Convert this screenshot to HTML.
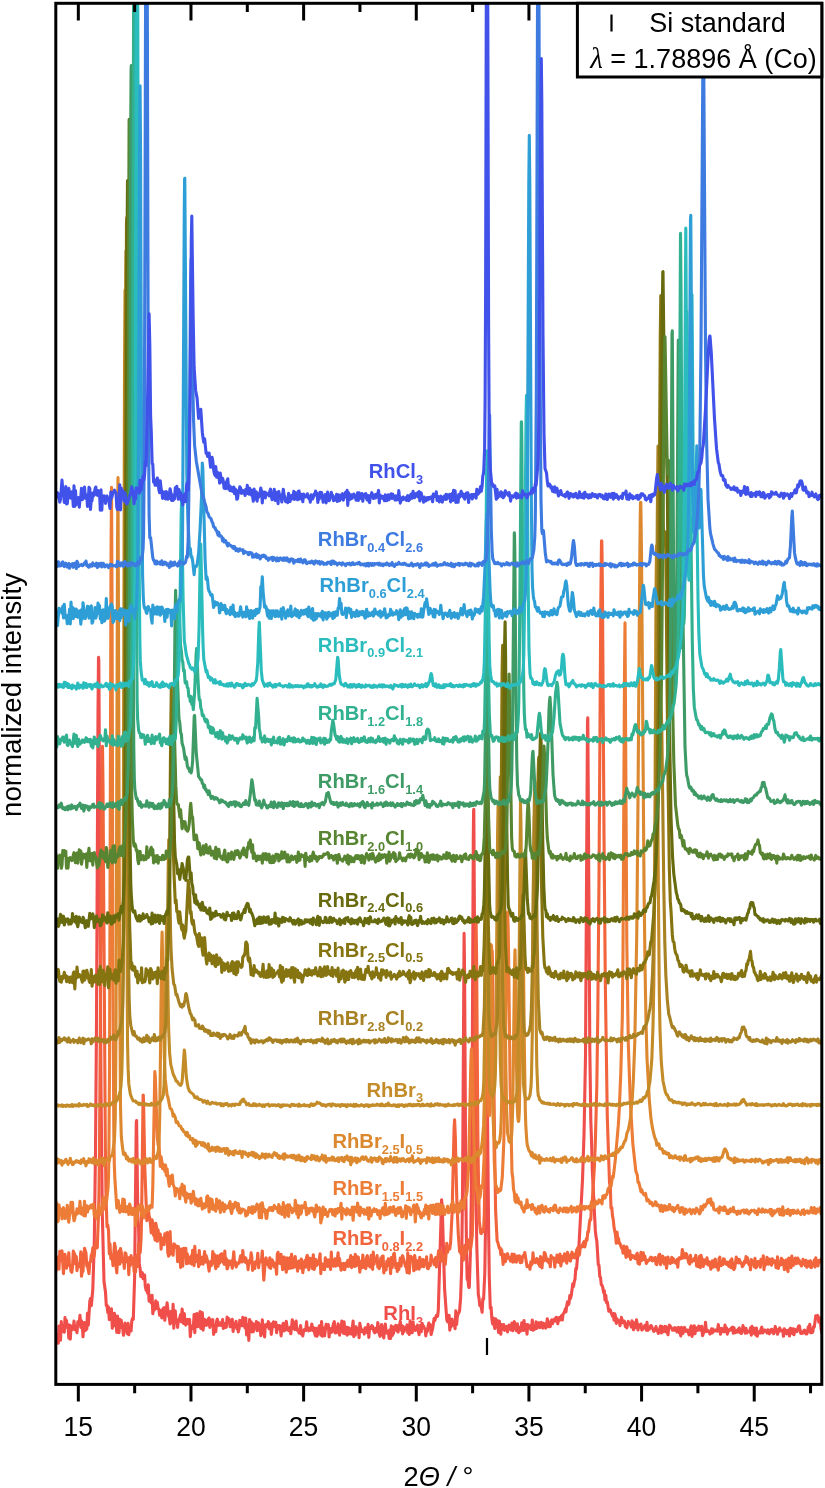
<!DOCTYPE html>
<html lang="en"><head><meta charset="utf-8"><title>XRD patterns RhX3</title>
<style>
html,body{margin:0;padding:0;background:#fff}
body{width:825px;height:1488px;overflow:hidden}
svg{display:block}
text{font-family:"Liberation Sans",Arial,Helvetica,sans-serif}
.lb{font-weight:bold;font-size:20.2px}
.sb{font-size:12.8px}
.ax text{font-size:26.5px;fill:#000}
.ax .yl{font-size:27.6px}
.ax .lg{font-size:27px}
.lam{font-family:"Liberation Serif","DejaVu Serif",serif;font-style:italic;font-size:29px}
</style></head>
<body>
<svg width="825" height="1488" viewBox="0 0 825 1488">
<defs><clipPath id="cp"><rect x="55.8" y="3.3" width="766.0" height="1381.1"/></clipPath></defs>
<rect width="825" height="1488" fill="#fff"/>
<g clip-path="url(#cp)" fill="none" stroke-linejoin="round" stroke-linecap="round">
<path stroke="#f04e4a" stroke-width="3.10" d="M55.8 1334.9L56 1334.2L56.8 1334.4L57.5 1336.6L58.3 1343.2L59 1326L59.8 1330L60.5 1340.3L61.3 1321.5L62 1331.5L62.8 1325.3L64.3 1332.3L65 1317.6L65.8 1323.2L66.5 1320.6L67.3 1327.7L68 1324.8L68.8 1338.1L69.5 1325.1L70.3 1339.1L71 1326.1L71.8 1330L72.5 1328.5L73.3 1328.2L74 1321.1L74.8 1329.7L75.5 1329.8L76.3 1328.7L77 1332.7L77.8 1321.8L78.5 1324.6L79.3 1322L80 1315.3L80.8 1327.4L81.5 1320.8L82.3 1323.7L83 1336.8L83.8 1324.1L84.5 1322.5L85.3 1330.6L86 1327.2L86.8 1329.1L87.5 1313.2L88.3 1325.2L89.8 1301.4L90.5 1298.6L91.3 1305.6L92.8 1289.5L94.3 1241.5L95.5 1151.1L96.5 1022.4L98 713.1L98.5 657.4L98.8 659.9L99 690.3L101 1090L102.3 1213.4L104 1281.5L105.5 1292.3L106.3 1305.7L107 1305.2L107.8 1312.5L108.5 1307.1L109.3 1319.7L110 1311.5L110.8 1316.4L111.5 1308.7L112.3 1328.2L113 1322.7L113.8 1325.7L114.5 1313.3L115.3 1325.1L116 1322.3L116.8 1332.4L117.5 1316L118.3 1328L119 1332.6L119.8 1319.2L120.5 1327.3L121.3 1320.3L122 1327.3L122.8 1329.2L123.5 1335.2L125 1323.1L125.8 1330.8L126.5 1327.3L127.3 1333.7L128.1 1323.4L128.8 1334.8L129.6 1327.4L130.3 1327.2L131.1 1330.9L131.8 1320.5L132.6 1318.3L133.1 1319.5L133.3 1319.2L134.6 1278.2L136.1 1137.2L136.3 1121.9L136.6 1120.6L137.8 1215.1L138.6 1228.1L139.3 1263.9L140.1 1268.4L140.8 1276.5L142.3 1272.7L143.1 1278.7L144.6 1275L145.3 1286.3L146.1 1290.2L146.8 1288.8L147.6 1293.2L148.3 1284.8L149.1 1301.1L149.8 1295.5L150.6 1297.9L151.3 1303L152.1 1295.2L152.8 1313.6L153.6 1309.2L154.3 1310L155.8 1300.8L156.6 1308.4L157.3 1302.3L158.1 1308.4L158.8 1309.1L159.6 1315.3L160.3 1311.5L161.1 1310.5L161.8 1317.9L162.6 1310.1L163.3 1308.4L164.1 1307.6L164.8 1320.3L165.6 1312.9L166.3 1310L167.1 1302.9L168.6 1316L169.3 1317.8L170.1 1324L170.8 1311.6L172.3 1322.9L173.1 1304.4L173.8 1328.3L174.6 1310.7L175.3 1311L176.1 1322.3L176.8 1319.7L177.6 1327.4L178.3 1321.4L179.8 1317.8L180.6 1314.6L181.3 1321.9L182.1 1309L183.6 1323.5L184.3 1313.6L185.1 1324.1L185.8 1325L186.6 1320.5L187.3 1319.4L188.1 1323.2L188.8 1323.8L189.6 1319.4L190.3 1336.6L191.1 1328.7L191.8 1326.2L192.6 1328.3L193.3 1328L194.1 1314.5L194.8 1332.7L195.6 1314.4L196.3 1322.9L197.1 1313.6L197.8 1326.8L198.6 1324.4L199.3 1323.5L200.1 1311.5L200.8 1328.5L201.6 1323.8L202.3 1312.6L203.1 1330.2L203.8 1322.1L204.6 1319.3L205.3 1325.2L206.1 1320.5L206.8 1325.2L208.3 1319.1L209.1 1318L209.8 1327.5L211.3 1320.1L212.1 1321L212.8 1319.7L213.6 1334.4L214.3 1325.9L215.1 1325L215.8 1331.6L216.6 1321.2L217.3 1319.1L218.8 1325.3L219.6 1323.6L220.3 1323L221.1 1325.4L222.6 1319.6L223.3 1328.4L224.1 1323.7L224.8 1323.6L225.6 1327.5L226.3 1327.1L227.1 1317.1L227.8 1321.7L228.6 1318.6L229.3 1319.6L230.1 1326.8L230.8 1323.1L232.3 1319.3L233.1 1331.5L233.8 1323.6L234.6 1326.7L235.3 1325.3L236.1 1321.3L236.8 1328.7L237.6 1326.4L238.3 1332L239.1 1328.7L239.8 1320.2L240.6 1325.4L242.1 1325.7L242.8 1317.4L243.6 1318.5L244.3 1325.6L245.1 1327.9L245.8 1318L246.6 1334.9L248.1 1324.2L248.8 1340.4L249.6 1319.6L250.3 1322L251.1 1321.8L251.8 1332L252.6 1323.4L253.3 1331.7L254.8 1324.2L255.6 1327.5L256.3 1321.6L257.1 1330.8L257.8 1322.6L258.6 1323.1L259.3 1330.2L260.1 1325L260.8 1335.6L261.6 1333.4L262.3 1319.9L263.1 1328.3L263.8 1326.7L264.6 1336.9L265.3 1325L266.1 1324.7L266.8 1326.1L267.6 1326.6L268.3 1321.5L269.1 1328.8L269.8 1325.3L270.6 1324L271.3 1334.4L272.8 1323.2L273.6 1321.8L274.3 1326.4L275.1 1322.5L275.8 1322.3L276.6 1332.7L277.3 1327.3L278.1 1325.6L278.8 1328.8L279.6 1325.6L280.3 1328.4L281.1 1335.9L281.8 1328L283.3 1323.3L284.1 1330.9L284.8 1327.5L285.6 1330L286.3 1321.4L287.1 1326.7L288.6 1330.6L289.3 1329.5L290.1 1327.3L290.8 1333.8L292.3 1319.7L293.8 1328.3L294.6 1329.5L295.3 1323L296.1 1321L296.8 1330.2L297.6 1329.7L298.3 1330.2L299.1 1333.1L300.6 1325.5L301.3 1334L302.1 1333.1L302.8 1336L303.6 1330.8L304.3 1329.6L305.8 1330.4L306.6 1321.7L307.3 1328.6L308.1 1327.8L308.8 1330.8L309.6 1330.6L310.3 1328.1L311.1 1327.6L311.8 1324L312.6 1330.5L313.3 1327.5L314.1 1328L314.8 1333.8L315.6 1335.9L316.3 1328.2L317.1 1336.3L319.3 1325.9L320.1 1325.9L320.8 1335.1L321.6 1321.6L322.3 1336.2L323.8 1328L324.6 1335.8L326.1 1324.4L326.8 1326.7L327.6 1325L328.3 1324.6L329.1 1337L329.8 1329.7L330.6 1328.6L331.3 1332.4L332.1 1331.6L332.8 1326.6L333.6 1323.3L334.3 1321.6L335.1 1332.9L335.8 1328.3L336.6 1332.8L338.1 1323.9L338.8 1326.9L339.6 1335.2L340.3 1326.9L341.1 1331.3L341.8 1321L343.3 1333.2L344.1 1321.9L344.8 1333.6L345.6 1327.5L346.3 1327.1L347.1 1335.2L347.8 1327.5L348.6 1333.9L349.3 1328.1L350.8 1333.9L351.6 1334.1L353.1 1321.1L353.8 1336.7L354.6 1327.7L355.3 1335L356.1 1326.8L357.6 1330.7L358.3 1329.9L359.1 1337.7L359.8 1323.2L361.3 1331.1L362.1 1331.7L362.8 1330.2L363.6 1330.8L364.3 1334.1L365.1 1327.8L365.8 1327.8L366.6 1329.6L367.3 1332.7L368.1 1324.3L368.8 1337.4L369.6 1328L370.3 1327.5L371.1 1328.6L371.8 1325.6L372.6 1326.3L374.1 1331.8L374.8 1332.8L375.6 1328.4L376.3 1328.3L377.1 1331.7L377.8 1322.5L379.3 1334.1L380.1 1336.4L381.6 1324.5L382.3 1327.5L383.1 1334.8L383.8 1337.9L384.6 1329.3L385.3 1324L386.1 1330.5L386.8 1333L387.6 1333.5L388.3 1331.4L389.1 1338.4L389.8 1329.9L390.6 1338.4L391.3 1325.7L392.1 1335.7L393.6 1333.1L394.3 1326.8L395.1 1329.3L395.8 1325.2L396.6 1330L398.1 1332.1L398.8 1325L399.6 1326.9L400.3 1321.3L401.1 1330L401.8 1325.6L402.6 1333.9L403.3 1326.5L404.1 1331.7L404.8 1328.2L405.6 1329.5L406.3 1328.8L407.1 1324.9L407.8 1332.9L408.6 1326.1L409.3 1334.5L410.1 1320.9L411.6 1332.7L412.3 1332.7L413.1 1321.7L413.8 1330L414.6 1329.9L415.3 1330.3L416.8 1326L417.6 1329.8L418.3 1331.2L419.1 1334.7L419.8 1328.5L420.6 1325.5L421.3 1331.6L422.1 1323.2L422.8 1325.7L423.6 1325.9L424.3 1328.3L425.1 1328.9L425.8 1335.9L426.6 1330.4L427.3 1331.5L428.1 1326L428.8 1323.1L429.6 1325.6L430.3 1324.7L431.1 1334.5L432.6 1328.7L434.1 1318.6L434.8 1320.6L436.3 1315.5L436.8 1316.3L437.3 1316.5L437.6 1316.3L438.3 1310L441.6 1199.9L442.1 1205.1L442.6 1219.4L444.6 1289.2L446.8 1320L447.6 1321.9L448.1 1321L449.1 1315.3L449.8 1330.1L450.6 1324.2L451.3 1326.4L452.1 1319L452.8 1325.1L453.6 1324.9L454.3 1323.5L455.1 1328.8L455.8 1310.8L456.6 1324.5L457.3 1316.7L458.1 1314.1L459.1 1312.3L459.6 1310.3L460.6 1297.9L461.6 1270.3L462.6 1184.6L464.1 933.2L464.6 975.3L465.8 1192.3L466.6 1254.4L467.1 1278L467.3 1279.6L467.6 1279.5L467.8 1278.1L468.6 1286.5L469.1 1287.5L469.3 1286.9L470.6 1246.5L471.3 1196.1L472.3 1056.2L473.3 838L473.6 811.1L473.8 809.3L476.1 1199.7L476.8 1245.9L478.3 1294.4L479.1 1298.6L479.8 1305.6L480.6 1303.6L482.1 1312.3L482.8 1299.1L483.3 1299.5L483.6 1299L484.8 1273.3L485.6 1221L486.6 1096.6L487.1 1069.5L488.6 1230L489.3 1277.7L490.3 1308.3L490.6 1308.5L491.1 1307.2L491.8 1318.2L492.6 1323.9L493.3 1318.1L494.1 1325L494.8 1328.5L495.6 1318.7L496.3 1322.1L497.1 1320.3L498.6 1332.5L499.3 1321L500.8 1334.3L501.6 1324.5L502.3 1329.1L502.6 1329.1L503.1 1329.1L503.8 1324.5L504.6 1330.4L506.1 1327.1L506.8 1326.5L507.6 1332L509.1 1325L509.8 1325.9L510.6 1328.7L511.3 1329.9L512 1323L512.8 1330.8L513.5 1323.7L514.3 1321.7L515 1326.1L516.5 1330.9L517.3 1323.9L518 1326.5L518.8 1332.8L519.5 1327.5L520.3 1331.3L521 1329.8L521.8 1322.8L522.5 1325L523.3 1330.4L524 1320.5L524.8 1330.1L525.5 1326.7L526.3 1324.6L527 1334.1L527.8 1324.5L529.3 1326.2L530 1326.1L530.8 1329.5L531.5 1328.1L532.3 1320.1L533 1330.3L535.3 1328.7L536 1321.8L536.8 1328.5L537.5 1324.8L538.3 1322.8L539 1326L539.8 1327.6L540.5 1322.7L541.3 1322.3L542 1327L542.8 1328L543.5 1323.3L544.3 1325.3L545 1324.5L545.8 1328.1L546.5 1324.9L547.3 1318.8L548 1321.3L548.8 1326.8L549 1326.8L550.3 1326.4L551 1321.9L551.8 1319.8L552.5 1323.7L553.3 1321.1L554 1320.4L554.8 1318.8L555.5 1321.1L556.3 1317.3L557 1318.1L557.8 1323.8L558.5 1317.8L559.3 1320.6L560 1317.3L560.8 1317.1L561.5 1315.7L562.3 1320L563 1314.4L564.5 1311.8L565.3 1308.9L566 1311.9L566.8 1305.3L567.5 1301.9L568.3 1304.8L569 1303.4L569.8 1295.6L570.5 1298.5L571.3 1295.2L572.8 1283.7L573.5 1286.5L574.3 1281.6L575 1279.2L575.8 1268.5L576.5 1269.2L577.3 1259.9L578.8 1248.7L582.5 1179.8L584 1135.2L585.5 1056.5L587.3 755.4L587.5 722.5L587.8 717.9L589.8 1047.5L590.8 1120.7L591.5 1139L592.3 1169.7L595.3 1230.2L596 1236.8L596.8 1240.7L598.3 1264.8L599 1265.3L599.8 1276.6L600.5 1277.3L601.3 1284.7L602 1285.3L602.8 1287.5L603.5 1292.4L604.3 1290.6L605 1300.1L605.8 1295.2L606.5 1302.7L607.3 1301.8L608.8 1311.2L609.5 1309.4L610.3 1309.8L611 1312.5L612.5 1316.1L613.3 1313.5L614 1320.2L614.8 1313.7L615.5 1316.7L616.3 1323.4L617 1318.9L617.8 1320.9L618.5 1321.2L619.3 1320.8L620 1325.6L621.5 1317.4L622.3 1321.3L623 1322.7L623.8 1321.1L624.5 1321.3L625.3 1326.4L626 1324.9L626.8 1327.8L628.3 1321.4L629 1323.9L630.5 1324L631.3 1327L632 1320.7L633.5 1329.7L634.3 1322.9L635 1327.9L635.8 1326.2L636.5 1319.8L638 1330L638.8 1324.9L639.5 1327L640.3 1326.7L641 1324.1L641.8 1330.1L642.5 1329.6L644.8 1325.4L645.5 1325.1L646.3 1330.1L647 1322.4L647.8 1330.4L648.5 1328.8L649.3 1329.2L650 1328L650.8 1325.5L651.5 1326L653.8 1331.5L654.5 1329.1L655.3 1329.9L656 1326.5L656.8 1330.8L657.5 1330L658.3 1333.4L660.5 1326L661.3 1333L662 1326.6L662.8 1329.8L663.5 1331.7L664.3 1331.2L665 1326.4L665.8 1326.6L666.5 1332.2L667.3 1331L668 1334.8L668.8 1327.2L669.5 1325.1L671.8 1328.3L672.5 1330.2L673.3 1330.2L674.8 1327.5L675.5 1330.3L676.3 1328.2L677 1332L677.8 1328.7L678.5 1327.3L679.3 1332.7L680 1332.7L680.8 1335.9L681.5 1327.3L682.3 1333.6L683 1333.3L684.5 1327.4L686 1331.4L686.8 1330.3L687.5 1330.1L689 1334.9L689.8 1333.9L690.5 1327.6L691.3 1325.8L692 1336.4L694.3 1325.8L695 1333.8L695.8 1328.7L696.5 1328L697.3 1329.5L698 1330.3L698.8 1326L699.5 1326.8L700.3 1330L701 1330.2L701.8 1326.2L702.5 1335.7L704 1331.5L704.8 1331.8L705.5 1322.2L706.3 1330.3L707 1331.5L707.8 1330.4L709.3 1331.7L710 1334.1L710.8 1333L711.5 1328.9L712.3 1333L713 1329.1L713.8 1330.8L714.5 1331.1L716 1329.8L716.8 1331L717.5 1331.2L718.3 1324.6L719 1330L719.8 1328.3L720.5 1334.2L722 1328.4L722.8 1331.5L723.5 1330.7L724.3 1331.8L725 1325L725.8 1329.4L726.5 1327.8L727.3 1334.1L728.8 1329.8L729.5 1330.1L730.3 1330.1L731 1328.4L732.5 1327.1L733.3 1333.3L734 1327.8L734.8 1331.5L735.5 1332.6L736.3 1331.8L737 1330.3L737.8 1331.9L738.5 1328.9L739.3 1327.9L740 1332.8L740.8 1332.1L741.5 1333.4L742.3 1330.5L743 1325.5L743.8 1329.3L744.5 1328.7L745.3 1333.1L746 1328.3L746.8 1332.9L747.5 1331.1L749 1331.2L749.8 1332.1L750.5 1327.8L751.3 1335.2L752 1326.4L752.8 1328.7L753.5 1328.7L754.3 1333.4L755 1328.4L755.8 1335.1L756.5 1328.1L757.3 1336.2L758 1332.3L758.8 1332.9L759.5 1331.6L760.3 1333L761 1328.8L761.8 1327.1L762.5 1332.9L763.3 1332.4L764 1330.2L764.8 1330L765.5 1330.3L766.3 1331.1L767 1333L767.8 1329.8L769.3 1333.8L770 1330.2L770.8 1332.3L771.5 1329.2L772.3 1330.9L773 1330.1L773.8 1333.8L775.3 1326.4L776 1331.4L776.8 1329.4L777.5 1334.2L779.8 1327.9L780.5 1330.8L781.3 1330.1L782.8 1331L783.5 1336.3L784.3 1328.7L785 1331.3L786.5 1333.8L787.3 1330.4L788 1331.5L788.8 1330.1L789.5 1336L790.3 1328.4L791 1331.5L791.8 1328.8L792.5 1333.6L793.3 1328.9L794 1334.7L794.8 1329.3L795.5 1330.4L796.3 1330.5L797 1331.5L798.5 1326.1L799.3 1325.8L800.8 1333.4L801.5 1333.4L802.3 1332.3L803 1333.1L803.8 1330.5L804.5 1330.1L806 1334L806.8 1334L807.5 1331.5L808.3 1326.8L809 1328.6L809.8 1324.3L810.5 1332.6L811.3 1329.5L812 1332.6L812.8 1331.8L813.5 1326.7L814.3 1326.9L815.8 1315.8L816.5 1317.7L817 1316L817.5 1315.4L818 1316L818.8 1322.1L819.5 1318.7L820.3 1318.1L821 1328.6L821.8 1332.5"/>
<path stroke="#f2643c" stroke-width="3.10" d="M55.8 1271.3L56.8 1267.4L57.5 1267.3L58.3 1256.8L59 1269.1L59.8 1251.4L60.5 1260.3L61.3 1259.6L62 1250.9L63.5 1273.6L64.3 1260.2L65 1254.3L66.5 1268.2L67.3 1263.7L68 1262.3L68.8 1252.8L69.5 1265.7L70.3 1265.6L71 1271.3L71.8 1272.3L72.5 1266.8L73.3 1251L74.8 1254.6L75.5 1264L76.3 1256.6L77 1270.7L77.8 1263.4L78.5 1264.2L79.3 1266.7L80 1263.9L80.8 1251.9L81.5 1276.2L82.3 1271.1L83 1271.4L83.8 1255.9L84.5 1248.3L86 1253.3L86.8 1266.1L87.5 1265.9L89 1273.6L89.8 1262.2L90.5 1261.7L91.3 1255L92 1254.4L92.8 1247.9L93.5 1258L94.3 1255.1L95 1246.9L95.8 1242.9L96.5 1247.7L97 1247.9L97.3 1247.4L98.8 1204.6L99.5 1148.5L101.8 802.8L102.3 751.4L102.5 746.2L103 785.3L105.3 1141.8L106 1196.4L107 1226.6L107.3 1226.9L107.8 1225L108.5 1230.3L109.3 1253.7L110 1243.9L110.8 1258.6L111.5 1255L112.3 1257.5L113 1265.7L114.5 1243.3L115.3 1246.9L116 1265.6L116.8 1272.9L117.5 1259.1L118.3 1252.9L119 1250.9L119.8 1264.1L120.5 1248.5L121.3 1252.4L122 1261.8L122.8 1261.7L123.5 1259.4L124.3 1268.4L125 1252.9L125.8 1253.3L127.3 1261.9L128.1 1259.2L128.8 1274.8L129.6 1257.4L130.3 1265.7L131.1 1255.6L131.8 1263.5L132.6 1258.4L133.3 1258.6L134.1 1271.8L134.8 1258.7L135.6 1272L136.3 1255.4L137.1 1256.7L137.8 1266.5L138.6 1243.7L139.3 1245.5L140.1 1252.8L140.3 1251.4L141.1 1238L141.6 1216.1L143.1 1095.1L143.3 1095.1L143.6 1104.3L144.8 1168L146.8 1220.6L148.3 1208.2L149.1 1215.6L149.8 1218.1L151.3 1233L152.1 1219.8L152.8 1223.1L153.6 1235.3L154.3 1234.9L155.1 1240.1L155.8 1223.2L156.6 1227.6L157.3 1241.3L158.1 1229.8L158.8 1239L159.6 1237.6L160.3 1234.1L161.1 1249.1L161.8 1240.5L162.6 1238.2L164.1 1244.6L164.8 1233.8L165.6 1239L166.3 1237.1L167.1 1232.5L167.8 1252.6L168.6 1256.1L169.3 1255.1L170.1 1231.5L170.8 1251.2L171.6 1253.5L172.3 1246.2L173.1 1255.3L173.8 1243.8L174.6 1244.5L175.3 1246.4L176.1 1247.5L176.8 1246.2L177.6 1261.7L178.3 1246.6L179.1 1250.7L179.8 1249.9L180.6 1267.5L181.3 1249L182.8 1266.2L183.6 1248.2L185.1 1253.9L185.8 1248.2L186.6 1263.8L187.3 1253.8L188.1 1263.2L189.6 1257.5L190.3 1263.3L191.1 1255.9L191.8 1264.2L192.6 1250.3L193.3 1253.9L194.1 1265.6L194.8 1246.3L195.6 1261.6L196.3 1256.5L197.8 1255.1L198.6 1266.8L199.3 1250.6L200.1 1264.4L200.8 1262.5L201.6 1257.4L202.3 1259.5L203.1 1264.1L204.6 1251.6L205.3 1262L206.1 1255.6L207.6 1260.9L209.1 1271.1L209.8 1263.8L210.6 1261.6L211.3 1265.7L212.1 1262.7L212.8 1251.6L213.6 1257.8L214.3 1254.3L215.1 1265.3L215.8 1268.6L217.3 1255.7L218.1 1266.1L218.8 1256.2L219.6 1263.1L220.3 1255L221.1 1254L221.8 1253.9L222.6 1261.9L223.3 1258.2L224.1 1264.3L224.8 1251.1L225.6 1264.7L226.3 1258.6L227.1 1269L227.8 1267.7L228.6 1260.9L229.3 1262.7L230.8 1264.7L231.6 1260.7L232.3 1268.3L233.8 1251.7L234.6 1264.3L235.3 1261.7L236.1 1266.9L236.8 1265.6L237.6 1263.1L239.1 1263.1L240.6 1255.8L241.3 1258L242.1 1262L242.8 1250.5L243.6 1260.1L244.3 1257.2L245.1 1262.1L245.8 1258.1L246.6 1262.9L247.3 1261.3L248.1 1269.6L248.8 1260.7L249.6 1261.3L250.3 1262.8L251.1 1252.8L251.8 1256.9L252.6 1270.4L253.3 1265.4L254.1 1263.1L254.8 1268.5L255.6 1261.7L257.1 1261.1L257.8 1253.2L258.6 1267.7L259.3 1261.7L260.1 1262.2L261.6 1259.3L262.3 1251L263.8 1280.1L265.3 1260.5L266.1 1257.9L266.8 1263L267.6 1264.7L268.3 1262.1L269.1 1267.2L269.8 1257.8L270.6 1268.4L272.1 1259.9L272.8 1261.3L274.3 1266.8L275.1 1263.2L275.8 1265.8L276.6 1274.3L277.3 1254.2L278.1 1252.3L278.8 1263.3L279.6 1257.8L280.3 1263.4L281.1 1254.4L282.6 1269.6L283.3 1268.6L284.1 1257.1L286.3 1272.2L287.1 1257.9L287.8 1258.4L288.6 1268.6L289.3 1261L290.1 1257.6L290.8 1268.2L291.6 1254.2L292.3 1259.3L293.1 1267.8L293.8 1259.6L294.6 1266.7L295.3 1256.6L296.1 1266.8L296.8 1265.2L297.6 1271.1L298.3 1261.6L299.1 1261L299.8 1262.3L300.6 1268.1L301.3 1259.1L302.1 1262.1L302.8 1272.7L303.6 1266.8L304.3 1266.5L305.1 1260.2L305.8 1267.2L306.6 1257L307.3 1255.4L308.1 1258.1L308.8 1269.9L310.3 1258.2L312.6 1268.7L313.3 1254.7L314.1 1269.5L314.8 1267.5L315.6 1259.4L316.3 1260.9L317.1 1265.3L317.8 1261.4L318.6 1263.5L320.1 1253.8L320.8 1273.7L321.6 1263.7L322.3 1263.9L323.1 1265.3L323.8 1269.4L324.6 1269.6L325.3 1257.8L326.1 1262.3L326.8 1263.2L327.6 1266.5L328.3 1259.9L329.1 1264.7L329.8 1263.9L330.6 1269.5L331.3 1252.1L332.1 1263.2L333.6 1266.1L335.1 1258.8L335.8 1266.1L336.6 1265.5L338.1 1252.9L338.8 1265.5L339.6 1258.6L340.3 1266L341.1 1270.2L341.8 1263.8L342.6 1263.9L343.3 1263.4L344.1 1269.5L344.8 1269.6L345.6 1263.2L346.3 1266.4L347.8 1260.4L348.6 1266.5L350.8 1255.5L351.6 1267.6L352.3 1258.1L353.1 1257.4L354.6 1266.4L355.3 1254.4L356.1 1265.9L356.8 1264.7L357.6 1256.8L358.3 1257.2L359.1 1261.9L359.8 1272.1L360.6 1261.5L361.3 1268L362.1 1267.3L362.8 1255L364.3 1267.5L365.1 1260.3L365.8 1268.7L366.6 1257.5L367.3 1255.6L368.8 1265.9L369.6 1260.9L370.3 1267.2L371.1 1255.2L371.8 1259.9L372.6 1269.4L373.3 1252L374.1 1264.2L374.8 1258.4L375.6 1259.1L376.3 1261.1L377.1 1255.6L377.8 1267.2L378.6 1265.5L379.3 1268.6L380.8 1258.1L381.6 1265.8L382.3 1256.2L383.1 1256L383.8 1272.9L385.3 1264.8L386.1 1269.9L386.8 1261.3L387.6 1265.5L388.3 1258.7L389.8 1263.1L390.6 1273.6L391.3 1257.6L392.1 1267.8L392.8 1262.6L393.6 1254.1L394.3 1253.2L395.8 1267.8L396.6 1263.9L397.3 1271.5L398.1 1263.5L398.8 1269.5L400.3 1258.1L401.1 1266L401.8 1258.9L402.6 1255.7L405.6 1266.7L406.3 1265.5L407.1 1272.7L407.8 1252.9L409.3 1273.1L410.1 1260.9L410.8 1256.3L411.6 1258.7L412.3 1257.7L413.1 1260L413.8 1270.8L414.6 1255.6L415.3 1259L416.1 1269.3L416.8 1263.8L417.6 1263.9L418.3 1260.5L419.1 1269.2L419.8 1257.3L420.6 1266.9L421.3 1262.8L422.8 1259.5L423.6 1266.8L425.1 1260.2L425.8 1262.6L426.6 1256.9L427.3 1268.2L428.1 1268.7L428.8 1267.4L429.6 1263.2L430.3 1265.6L431.1 1255.1L431.8 1259.9L433.3 1260.6L434.1 1264.5L434.8 1259.2L435.6 1257.6L436.3 1267L437.1 1259.5L437.8 1257.7L438.6 1250.9L439.3 1253.9L440.1 1259.2L440.8 1261.4L441.6 1251.1L442.3 1259.4L443.1 1260.7L443.8 1256.2L444.6 1258.3L445.3 1264.3L446.8 1243.2L447.6 1252.3L448.3 1247.9L449.1 1249.3L449.6 1249.1L449.8 1248.7L450.6 1242.6L452.1 1213L454.1 1128.1L454.6 1119.8L455.3 1136.4L456.8 1199.6L458.3 1234.4L459.6 1251.7L460.3 1247.9L461.1 1254.2L461.8 1246.4L463.3 1260.1L464.1 1255.8L464.8 1245.4L465.6 1253.9L466.3 1252.6L467.8 1239.6L468.6 1246.6L469.3 1244.4L470.1 1250.7L471.3 1243.8L472.3 1235L473.6 1181.9L474.1 1146.7L475.6 948.7L476.1 922.5L476.6 958.8L477.8 1129.8L478.6 1190.3L479.3 1220.9L480.6 1232.4L480.8 1233.2L481.3 1233.6L482.1 1229.7L482.6 1231.1L483.1 1231.5L483.6 1230.3L484.3 1213.8L485.3 1153.6L487.1 983.9L488.6 1100.9L489.1 1115.1L489.3 1115.3L489.6 1110.3L491.3 976.2L492.1 950.9L492.6 966.8L494.6 1145L495.6 1210.5L497.1 1240.6L497.8 1242.3L499.3 1248.2L500.1 1247.8L500.8 1254.7L501.6 1249.7L502.3 1254.3L503.1 1264.4L503.8 1258.1L504.6 1254.5L505.3 1261.7L507.6 1253.7L508.3 1258.1L509.1 1257.2L510.6 1261.1L511.3 1260.9L512 1254.1L512.8 1262.1L513.5 1261.8L514.3 1254.2L515 1261.7L515.8 1260.1L516.5 1262.1L517.3 1256.1L518 1259.3L518.8 1259.7L519.5 1255.8L520.3 1262.8L521 1259.6L521.8 1262.4L522.5 1256.9L523.3 1255.4L524 1256.4L524.8 1252.5L527 1266.6L527.8 1265.6L528.5 1266.1L529.3 1266.1L530 1269.3L530.8 1261.9L531.5 1264.8L532.3 1263.6L533 1252.9L533.8 1261.8L534.5 1261.4L535.3 1262.6L536 1259.3L536.8 1258.5L537.5 1259.3L538.3 1263.8L539 1263.7L539.8 1266.4L540.5 1256.5L541.3 1265.1L542 1267.8L542.8 1257.7L543.5 1261.2L544.3 1252.5L545 1253.1L545.8 1256L546.5 1260.8L547.3 1261.3L548 1259.2L548.8 1262.7L549.5 1261.6L550.3 1266.8L551 1255.5L551.8 1257.3L552.5 1258.2L553.3 1257.9L554 1258.5L554.8 1267.1L555.5 1258.1L556.3 1261.9L557 1255.1L557.8 1257.3L558.5 1262.3L559.3 1262.6L560 1254.1L560.8 1265.9L562.3 1256.5L563 1261.1L564.5 1253.8L565.3 1258.9L566.8 1263.2L567.5 1252.4L569 1256.7L569.8 1260.5L570.5 1261L571.3 1255.2L572 1252.2L572.8 1257.7L573.5 1253.9L575 1258L575.8 1256.2L576.5 1250.4L578 1247.6L578.8 1255.4L579.5 1254.7L580.3 1246.8L581 1247.6L581.8 1245.2L582.5 1246.7L583.3 1243.1L584 1241.6L584.8 1246.9L585.5 1243.9L586.3 1238.9L587 1240.1L587.8 1231.7L588.5 1231.9L589.3 1223.5L590 1219.5L590.8 1219.7L591.5 1206.1L592.3 1200.6L594.3 1168.2L595.3 1143.5L596.8 1087.3L597.8 1013.9L599 877.2L600.8 604.1L601.5 540.7L601.8 541L602 552.3L602.5 600L604 835L605.3 981.8L607.3 1117.3L609.5 1182.8L610.3 1186.5L611 1208L611.8 1207.6L612.5 1215.9L613.3 1219.8L614 1227.3L615.5 1235L616.3 1243.3L617 1232L617.8 1239.1L618.5 1238.3L619.3 1243.5L620 1243.4L621.5 1248L622.3 1247.2L623 1253.1L623.8 1246.1L625.3 1252.4L626 1257.4L626.8 1246.9L627.5 1250.1L628.3 1256.2L629 1255.2L629.8 1250.8L630.5 1259.5L632 1255.4L632.8 1255.7L633.5 1257.4L634.3 1256.1L635 1258.6L635.8 1258.8L636.5 1254.5L637.3 1253.2L638 1263.5L638.8 1256.8L639.5 1264.3L641 1252.3L641.8 1260.4L643.3 1252.7L644 1259.5L644.8 1256.1L646.3 1263.5L647 1262.4L647.8 1260.2L649.3 1260.4L650 1258.1L650.8 1257.1L652.3 1260.8L653 1257.9L653.8 1259.7L654.5 1260.6L655.3 1257.6L656 1264L656.8 1264.7L659 1254.6L659.8 1254.3L660.5 1264.6L662.8 1256.2L664.3 1264L665 1262.1L665.8 1257.8L666.5 1268.3L668 1257.1L668.8 1262.4L670.3 1263.5L671 1262.8L671.8 1257.3L672.5 1262.4L673.3 1258.6L674 1261.6L674.8 1260.9L675.5 1263.1L677 1259.6L677.8 1267.3L678.5 1258.6L679.3 1257.6L680 1259.2L680.8 1258L681.5 1258.3L682.3 1249.6L683 1252.1L683.8 1257.9L684.5 1256.3L685.3 1257.7L686 1253.5L686.8 1254.5L688.3 1261.2L689 1263.4L689.8 1264.1L690.5 1255.4L691.3 1261.3L692 1261.8L692.8 1260.3L693.5 1260.5L694.3 1258.4L695 1260.6L695.8 1255.3L696.5 1265.9L697.3 1262.5L698 1266.6L698.8 1259.3L699.5 1256.4L700.3 1267.7L701 1255.4L701.8 1258.1L702.5 1264.4L703.3 1266.5L704 1259.8L704.8 1261.4L705.5 1261.2L706.3 1263.8L707 1257.7L707.8 1264L708.5 1265L709.3 1261.8L710 1262.5L710.8 1269.3L711.5 1263.6L712.3 1260.9L713 1267.3L713.8 1266.1L714.5 1260L715.3 1259.2L716 1266.9L716.8 1266.2L717.5 1266.5L718.3 1270.1L719 1258.7L719.8 1257.2L720.5 1265.6L721.3 1265.4L722 1262.9L722.8 1264.7L723.5 1258.8L724.3 1259.2L725 1262.1L725.8 1263.8L726.5 1264.4L727.3 1262.1L728.8 1266.3L730.3 1260.9L731 1267.8L731.8 1258.8L733.3 1268.5L734 1269.5L734.8 1267.6L736.3 1257L737 1261L737.8 1262.4L738.5 1262.9L739.3 1259.4L740.8 1263.3L741.5 1262.8L742.3 1266.7L743.8 1264.5L744.5 1261L745.3 1262.9L746 1256.6L746.8 1261.4L747.5 1257.7L748.3 1263.1L749 1264.4L749.8 1263.1L750.5 1269.8L751.3 1259.5L752 1262.4L752.8 1261L753.5 1261.7L754.3 1266.8L755 1258.4L755.8 1267.9L756.5 1267L758 1261.6L758.8 1263.5L759.5 1261.5L760.3 1267.3L761 1259.2L761.8 1259.7L762.5 1262.9L763.3 1255.9L764 1269.6L764.8 1261.7L765.5 1265.1L766.3 1263.3L767 1257.2L767.8 1262.9L768.5 1264.1L769.3 1259L770 1259.6L770.8 1259.5L771.5 1265.2L772.3 1258.8L773 1259.9L773.8 1262.5L774.5 1263.1L775.3 1260.9L776 1267.6L776.8 1267.8L777.5 1256.8L778.3 1268.4L779 1264.2L780.5 1265.2L781.3 1258.4L782 1258.8L782.8 1264.3L783.5 1260.5L784.3 1269.6L785 1261.4L785.8 1265.7L786.5 1259.7L787.3 1269.5L788 1271.6L788.8 1258.1L789.5 1263.9L790.3 1263.1L791 1267.6L791.8 1256L793.3 1265.5L794 1261.6L794.8 1260.6L795.5 1258L796.3 1263.7L797 1261.9L797.8 1258L798.5 1263L799.3 1260.3L800 1263.4L801.5 1266L802.3 1263.7L803 1259.4L803.8 1261.9L804.5 1261.4L805.3 1265.8L806 1260.3L806.8 1267.3L807.5 1262.5L808.3 1264.7L809 1261.2L809.8 1266.4L810.5 1260.7L811.3 1267.7L812 1263.9L812.8 1265.1L813.5 1264.4L814.3 1260.1L815 1267L815.8 1257.8L816.5 1262.9L817.3 1265.1L818 1265.9L818.8 1260.6L820.3 1261.9L821 1259.4L821.8 1261.8"/>
<path stroke="#ec7c36" stroke-width="3.10" d="M55.8 1215.5L56 1217.5L56.8 1202.7L57.5 1221.8L58.3 1220.8L59 1205L59.8 1210.4L60.5 1209L61.3 1210.1L62 1218.9L62.8 1209.5L63.5 1207.6L64.3 1215.4L65 1218.5L65.8 1210L66.5 1213.5L67.3 1205.2L68 1216.9L68.8 1222.2L69.5 1215L70.3 1211.9L71 1202.3L71.8 1210.6L72.5 1202.2L73.3 1215.9L74 1220.8L74.8 1218.9L75.5 1212.9L76.3 1214.5L77 1208.8L77.8 1213.2L78.5 1213.1L79.3 1211.9L80 1201.2L80.8 1213.2L81.5 1214.1L82.3 1208.1L83 1213.9L83.8 1215.7L84.5 1201.2L85.3 1216L86 1209L86.8 1205.8L87.5 1212L88.3 1207.3L89 1208.8L89.8 1206.1L90.5 1207.7L91.3 1205L92 1207.9L92.8 1205.4L93.5 1204.1L94.3 1215.9L95 1210.7L95.8 1212.6L96.5 1218.8L98.8 1204.6L99.5 1213.6L100.3 1211.7L101 1214.1L101.8 1208L102.5 1206.3L103.3 1197.2L104 1209.2L104.8 1197.7L106.3 1203.4L108 1188.3L108.5 1178.2L108.8 1162.6L109.5 1071.4L111 564L111.5 487.3L112 589L113 982.6L113.8 1132.2L114.3 1164.5L114.8 1177.6L116.8 1208.1L117.5 1206L118.3 1200.6L119.8 1212.4L120.5 1207.5L121.3 1206.2L122 1211.1L122.8 1199.1L123.5 1211.6L124.3 1199.5L125 1209.5L125.8 1211.8L127.3 1206.7L128.1 1208.5L128.8 1214.5L129.6 1204L130.3 1206.3L131.1 1212.2L131.8 1214.6L133.3 1208.3L134.1 1214.3L134.8 1209L135.6 1225.6L136.3 1220.4L137.1 1220L137.8 1206.4L138.6 1208.7L139.3 1209.6L140.1 1205L140.8 1208.4L141.6 1215.4L142.3 1206L143.1 1209.4L143.8 1217.9L144.6 1212.1L145.3 1213L146.8 1207.3L147.6 1208.3L148.3 1210.9L149.1 1206.4L149.8 1208.7L150.6 1205.4L151.1 1205.4L151.3 1205.1L151.8 1207.2L152.1 1207.2L152.8 1186.1L154.8 1071.6L155.3 1076.6L157.3 1137.1L158.1 1145.1L158.8 1140.9L160.3 1166.5L161.1 1156.7L161.8 1160.9L162.6 1168.8L163.3 1164.4L164.1 1166.2L164.8 1171.3L165.6 1165.1L166.3 1175.5L167.1 1168.7L167.8 1176.3L169.3 1186.2L170.1 1176.4L170.8 1182.2L171.6 1183.3L172.3 1175.1L173.1 1183.9L174.6 1188.7L175.3 1196L176.1 1188.5L176.8 1188.6L178.3 1190.3L179.1 1193.3L179.8 1198.8L180.6 1187.8L181.3 1193.2L182.1 1184.4L182.8 1186.9L183.6 1195.5L184.3 1186.1L185.1 1198L185.8 1202.1L186.6 1193.1L187.3 1194.2L188.1 1197.8L188.8 1194.6L189.6 1198.1L190.3 1194.2L191.1 1203.1L192.6 1199.5L193.3 1191.3L194.1 1197.6L195.6 1204.3L196.3 1198.7L197.1 1204.4L197.8 1205.7L198.6 1199.8L199.3 1205.7L200.8 1198.3L202.3 1209.1L203.1 1205.4L203.8 1203.9L204.6 1207.6L205.3 1207.3L206.1 1205.3L206.8 1196.9L207.6 1195.9L208.3 1198.1L209.1 1212L209.8 1208.1L210.6 1198.7L211.3 1208.6L212.1 1199.6L212.8 1206.4L213.6 1209.5L214.3 1205.3L215.1 1209.2L215.8 1211.2L216.6 1199L217.3 1205.8L218.1 1208.2L219.6 1200.7L220.3 1212.4L221.8 1204.2L222.6 1202.9L224.1 1211.6L224.8 1204.9L225.6 1209L226.3 1208.3L227.1 1206.2L227.8 1207.3L228.6 1207.6L229.3 1203.5L230.1 1201.6L230.8 1210.3L231.6 1213.4L232.3 1210L233.1 1204.3L233.8 1207.9L235.3 1202.3L236.1 1203.9L236.8 1204.4L237.6 1210.3L238.3 1203.6L239.1 1212.8L239.8 1208.4L240.6 1213.1L241.3 1212.3L242.1 1209.2L242.8 1209L243.6 1209.8L244.3 1209.8L245.1 1211.5L245.8 1216L246.6 1211.3L247.3 1215.1L248.1 1212.7L248.8 1207.5L249.6 1211L251.1 1212.5L251.8 1206.7L252.6 1213.4L253.3 1206.8L254.1 1208.5L254.8 1211.8L255.6 1209.9L256.3 1205.9L257.1 1204.2L257.8 1207.3L258.6 1206.6L259.3 1217.7L260.1 1205.3L260.8 1203.8L261.6 1218L262.3 1202.9L263.8 1211.4L264.6 1209.5L265.3 1210.7L266.1 1218.4L266.8 1218.4L267.6 1210.4L268.3 1211L269.1 1208.4L269.8 1207.5L270.6 1207.9L271.3 1210.4L272.1 1207.7L272.8 1210.7L274.3 1205.4L275.1 1208.2L275.8 1208.5L276.6 1207.6L277.3 1207.9L278.1 1212.3L278.8 1204.5L279.6 1213.1L280.3 1207.2L281.1 1209.1L281.8 1214.4L282.6 1213.2L283.3 1202.6L284.8 1217.1L285.6 1206L286.3 1208L287.1 1214.8L287.8 1204.9L288.6 1216.4L289.3 1204.7L290.1 1207.1L291.6 1208.2L292.3 1212.7L293.8 1210.5L294.6 1210.7L295.3 1200.4L296.8 1214L297.6 1205.4L298.3 1217.6L299.1 1209.3L299.8 1206.1L300.6 1214.1L301.3 1212.8L302.1 1205.9L302.8 1207.8L303.6 1206.8L304.3 1207.7L305.1 1202.4L306.6 1214.8L307.3 1208.2L308.1 1211.5L308.8 1213.2L310.3 1208.3L311.8 1208.1L312.6 1211.4L313.3 1208.8L314.1 1214.2L314.8 1216.9L316.3 1205L317.1 1211.6L317.8 1209.6L319.3 1207.7L320.1 1209.4L320.8 1223L321.6 1218.9L322.3 1216.9L323.1 1207.1L324.6 1214.5L325.3 1209.3L326.1 1212.8L327.6 1216.3L328.3 1212.2L329.1 1211.8L329.8 1209.7L330.6 1209.3L331.3 1211.1L332.1 1209.7L332.8 1214.7L334.3 1209.8L335.1 1216L335.8 1209.4L336.6 1212.8L337.3 1213.1L338.1 1208.5L338.8 1210.6L339.6 1211.5L340.3 1208.5L341.1 1203.2L341.8 1219.1L342.6 1208.3L343.3 1209.4L344.1 1209.7L344.8 1210.6L345.6 1213.8L346.3 1214.8L347.1 1208.5L347.8 1211.9L348.6 1213.1L349.3 1210L350.1 1214.7L350.8 1211.6L351.6 1214L352.3 1207L353.1 1220.3L353.8 1210.2L354.6 1207.2L356.1 1208.1L356.8 1212.1L357.6 1203.1L358.3 1207.5L359.1 1215.1L359.8 1215.6L360.6 1207.3L361.3 1211.7L362.1 1212.1L363.6 1209.3L364.3 1214.3L365.1 1210.4L366.6 1214.3L367.3 1208L368.1 1208.2L368.8 1219.2L369.6 1207.8L370.3 1215.6L371.1 1215.8L371.8 1211.9L372.6 1210.4L373.3 1211.2L374.1 1208.8L374.8 1211.6L376.3 1209.6L377.1 1210.2L377.8 1214.6L378.6 1211.8L379.3 1210.8L380.1 1218.5L380.8 1211.5L381.6 1213.8L382.3 1208.4L383.1 1207.7L383.8 1213.3L384.6 1215L385.3 1203.2L386.1 1214L386.8 1214.3L387.6 1211.6L388.3 1213.8L389.1 1207.7L389.8 1212.9L390.6 1207.4L391.3 1210.5L392.1 1210L392.8 1211.9L393.6 1206.5L394.3 1212.3L395.1 1212.6L395.8 1215.5L396.6 1209.2L397.3 1213.1L398.1 1207.7L398.8 1213.1L399.6 1208.9L400.3 1207.3L401.1 1209.1L401.8 1216.9L402.6 1216.5L403.3 1211.7L404.1 1211.7L404.8 1212.6L405.6 1205.9L406.3 1218.4L407.1 1207.9L407.8 1206.9L408.6 1210.6L409.3 1207.8L410.1 1212.4L410.8 1214.7L411.6 1210L412.3 1211.8L413.8 1205.1L414.6 1206.7L415.3 1222L416.1 1210.8L416.8 1204.6L417.6 1207.1L418.3 1208.1L419.1 1213.8L419.8 1211.5L420.6 1216.3L421.3 1218L422.1 1213.3L422.8 1213.1L423.6 1215.6L424.3 1209.6L425.1 1210.1L425.8 1205.1L426.6 1213.9L427.3 1206.4L428.8 1219L429.6 1206.2L430.3 1209.2L431.1 1205.4L431.8 1206.8L432.6 1213.5L433.3 1205L434.1 1211.9L434.8 1211.1L435.6 1214.6L436.3 1204.3L437.1 1206.2L437.8 1214.2L438.6 1204L439.3 1211.2L440.1 1214.6L440.8 1204.9L441.6 1206.6L442.3 1213.6L443.1 1205.7L443.8 1213.3L444.6 1214.5L445.3 1210.3L446.1 1209.8L446.8 1209.9L447.6 1206.2L448.3 1212.8L449.1 1212.4L449.8 1209.7L450.6 1210.7L451.3 1204.5L452.1 1205.9L452.8 1201.5L454.3 1212.1L455.1 1209.8L455.8 1205.6L456.6 1206.9L457.3 1205.7L458.1 1213.4L458.8 1203.3L459.6 1211.5L460.3 1208.6L461.1 1200.7L461.8 1207.7L462.6 1207.3L463.3 1202.2L464.1 1208.9L464.8 1197.7L466.3 1195.5L467.1 1191L468.6 1166.7L470.8 1064.4L471.3 1050L471.6 1048.8L472.1 1056.4L473.3 1116.6L475.1 1172.6L476.1 1190L476.8 1187.9L478.3 1203.5L479.1 1197.9L479.8 1197.9L480.6 1193.7L481.3 1185.7L482.1 1187.9L482.8 1184.1L484.1 1158.3L484.8 1115.4L486.1 975.3L486.6 945.9L488.1 1087.5L488.6 1111.4L489.1 1115.7L489.6 1101.9L491.1 960.7L491.3 947.6L491.6 945.6L493.6 1121.6L494.3 1162.4L495.6 1185.2L495.8 1185.8L496.3 1186L497.8 1192.5L499.3 1189.2L500.1 1190.8L500.8 1189.8L502.3 1177L503.8 1142.1L505.1 1073L506.8 933.2L507.3 913.2L507.6 912.1L508.1 925.3L508.6 956.8L510.1 1083.6L512 1172.6L512.8 1177.9L513.5 1189.1L514.3 1192.6L515 1200.6L515.8 1202.2L516.5 1194.7L517.3 1202.3L518 1197.7L518.8 1203.1L520.3 1204.4L521 1202.1L521.8 1207.6L523.3 1209.8L524 1212.1L524.8 1206.9L525.5 1205.3L526.3 1208.1L527 1199.7L527.8 1207.5L528.5 1205.2L529.3 1205.6L530 1205.3L530.8 1205.6L531.5 1209.4L532.3 1204.6L533.8 1209.1L534.5 1207.8L535.3 1212.3L536 1209.3L536.8 1213.9L538.3 1206.8L539 1209L539.8 1213L540.5 1206.4L541.3 1207.2L542 1205.3L543.5 1211.7L544.3 1212.1L545.8 1206.7L546.5 1210.1L547.3 1209.3L548 1211.4L548.8 1210.2L549.5 1212.2L550.3 1208.5L551 1209.8L551.8 1209.5L552.5 1208.2L553.3 1210.7L554 1206.3L554.8 1205.1L555.5 1205.6L556.3 1209.8L557 1211.2L557.8 1210.8L558.5 1212.7L560 1208L560.8 1210.3L562.3 1210L563 1211.7L563.8 1208L564.5 1208.1L566 1211.8L566.8 1208.1L567.5 1212L568.3 1212L569 1208.7L569.8 1208.2L570.5 1209.1L571.3 1206.4L572 1212.1L572.8 1209.5L573.5 1211.2L574.3 1207.8L575 1209.3L575.8 1208.6L576.5 1211.9L577.3 1206.7L578 1210.9L578.8 1208.6L579.5 1208.4L580.3 1205.1L581 1208L581.8 1207.4L582.5 1209.1L583.3 1206.5L584 1206.6L584.8 1209.3L586.3 1206.5L587 1207.5L587.8 1208L588.5 1206.5L589.3 1206.4L590 1209.3L591.5 1201.9L592.3 1207.3L593 1207.9L594.5 1206.6L595.3 1200.7L596.8 1203.9L597.5 1203.6L598.3 1202.8L599 1199.9L599.8 1200.5L600.5 1200.5L602 1203.8L602.8 1196.1L603.5 1198.4L604.3 1195.6L605 1198.1L605.8 1195.7L606.5 1194.8L607.3 1192.8L608 1189.1L609.5 1186.8L610.3 1186.9L611 1186.4L612.5 1176.2L613.3 1177.2L615.5 1157.8L618.3 1125.2L619.3 1108.9L620.8 1072.7L622.3 1018L623 954.8L624.5 674.9L625 622.9L626.8 941.9L628.3 1043.8L630.3 1101.9L632.8 1143.3L635.8 1170.8L637.3 1175.2L638 1182.4L638.8 1182.3L641 1191.6L641.8 1189.6L642.5 1192.7L644 1194.8L644.8 1194.4L645.5 1193.3L647 1201L647.8 1199.6L648.5 1199.8L649.3 1200.9L650 1203.5L650.8 1202.2L651.5 1202.3L652.3 1204.7L653 1205.8L653.8 1204.9L654.5 1204.9L655.3 1201.8L656 1202.2L656.8 1205.6L657.5 1204.7L658.3 1205L659.8 1207.8L660.5 1211L661.3 1205.2L662 1207.5L662.8 1211.5L663.5 1206L664.3 1208.7L665 1205.8L665.8 1210.2L666.5 1206.7L667.3 1209.3L668 1209.8L669.5 1204.5L671 1209L671.8 1209.8L672.5 1210.4L673.3 1207.4L674 1211.6L677.8 1205.4L678.5 1208.5L679.3 1209.4L680 1212.4L680.8 1211.1L681.5 1207.6L682.3 1211L683 1207.8L683.8 1213.8L684.5 1214.2L685.3 1210.7L686 1209.1L686.8 1212.7L687.5 1211L688.3 1211.2L689 1210.8L689.8 1209.1L691.3 1213.8L692 1210.8L692.8 1209.8L693.5 1209.7L695 1213.3L695.8 1209.9L696.5 1208.1L697.3 1211.1L698 1209.8L698.8 1210.7L699.5 1213.9L700.3 1212.8L701 1206.5L702.5 1209.8L703.3 1206.1L704 1204.9L704.8 1206.9L706.3 1204.1L707 1203.4L707.8 1199.9L708.8 1199.5L709.3 1199.7L710 1202.8L710.8 1198.8L711.5 1205.2L712.3 1202.5L713 1203L713.8 1209.2L715.3 1210.2L716 1209.8L716.8 1210.3L717.5 1208.9L719 1213L719.8 1206.7L720.5 1210.1L722 1207.8L722.8 1210.2L723.5 1210.5L724.3 1206.9L725 1207L725.8 1210.8L726.5 1210.2L727.3 1213.6L728 1210.2L728.8 1213.3L729.5 1210.3L730.3 1208.9L731 1211.6L731.8 1210.5L732.5 1210.8L733.3 1207.2L734 1211.9L734.8 1211L736.3 1212.1L737 1214.4L737.8 1211.2L738.5 1211.1L739.3 1213.1L740 1213.5L741.5 1210.8L743.8 1210.1L744.5 1213L745.3 1210.5L746 1212.5L746.8 1209.9L747.5 1213.2L748.3 1211.3L749 1214L749.8 1212.6L750.5 1212.2L751.3 1210.3L753.5 1210.9L754.3 1210.2L755 1212.6L755.8 1212.7L756.5 1211.1L757.3 1214.6L758.8 1208.9L759.5 1210.9L760.3 1211.7L761 1210.9L761.8 1212.1L762.5 1208.9L763.3 1211.3L764 1211.3L764.8 1212.2L765.5 1210.1L766.3 1210.2L767.8 1212.1L768.5 1210.7L769.3 1210.9L770 1209.3L770.8 1214.2L771.5 1209.6L772.3 1215.8L773 1211.2L773.8 1214.1L774.5 1210.8L775.3 1212.5L776.8 1211L777.5 1209.3L778.3 1210.8L779 1209L779.8 1214.4L780.5 1209.9L781.3 1214.9L782.8 1206.8L783.5 1215.3L784.3 1213.8L785 1211L785.8 1210.7L786.5 1210.6L787.3 1213.7L788 1209.2L790.3 1215.4L791 1210.5L791.8 1210.8L792.5 1210.3L793.3 1213.4L794 1210.2L795.5 1212.6L797 1213.2L797.8 1210.2L798.5 1212L800 1213.3L800.8 1214.5L801.5 1213.5L802.3 1210.4L803 1212.2L803.8 1209.8L804.5 1214.4L805.3 1211.5L806 1211.6L806.8 1212.4L807.5 1210.8L808.3 1213.2L809 1213.2L809.8 1212.3L810.5 1211.9L811.3 1207.6L812 1211L812.8 1212.8L813.5 1212.3L814.3 1207.6L815 1213L815.8 1213.5L816.5 1209.7L817.3 1209L818 1211.8L818.8 1209.7L819.5 1209.6L820.3 1207.7L821 1213.9L821.8 1211.7"/>
<path stroke="#dc882e" stroke-width="3.10" d="M55.8 1160.9L56 1160.9L56.8 1158.5L57.5 1163.3L58.3 1159.4L59 1159.8L59.8 1161L60.5 1163.1L61.3 1160.5L62 1165.1L62.8 1161.8L63.5 1161.4L64.3 1162.6L65 1161.6L65.8 1159.3L67.3 1162.1L68 1164.4L68.8 1162.2L69.5 1162.6L70.3 1158.2L71 1161.4L71.8 1161.8L72.5 1164.6L73.3 1164.4L74 1162L74.8 1162.6L76.3 1160.6L77 1161.8L77.8 1161.1L78.5 1162.3L79.3 1162.8L80 1161.4L80.8 1163.5L81.5 1159.9L82.3 1161.7L83 1162L83.8 1158.7L84.5 1162.7L85.3 1162.8L86 1165.8L86.8 1161.5L87.5 1162.6L88.3 1162.6L89 1158.9L89.8 1162L90.5 1159.2L91.3 1162L92 1162.7L92.8 1161.9L93.5 1158.1L94.3 1163.8L95 1161.8L95.8 1162.9L96.5 1160.2L97.3 1160.6L98 1164.6L98.8 1160.8L99.5 1160.3L100.3 1160.4L101 1162.5L101.8 1158.2L102.5 1160.2L103.3 1158.4L104 1165.8L104.8 1162L105.5 1160.2L106.3 1160.2L107.8 1158.4L108.5 1158.4L109.3 1161L110 1157L110.8 1156.1L111.5 1155.7L112.3 1155.8L114.5 1139.3L115.3 1116.7L116 1033.6L117.5 549.9L118 477.5L119.5 944.6L120.5 1106.6L121.3 1136.5L122.3 1146.1L123.5 1154.2L124.3 1154.8L125 1153.1L125.8 1155L126.5 1158.9L127.3 1156.7L128.8 1161.1L129.6 1159.3L131.1 1159.4L131.8 1162L132.6 1159.3L133.3 1158.5L134.8 1163.3L135.6 1161.4L136.3 1163.3L137.1 1162.9L137.8 1159.1L138.6 1161.1L139.3 1160.8L140.1 1161L140.8 1164.1L142.3 1162.2L143.1 1164L143.8 1160.1L144.6 1162.3L145.3 1159.3L146.1 1160.4L146.8 1158.9L147.6 1162.9L148.3 1160.1L149.1 1162L149.8 1158.5L151.3 1162.4L152.1 1160.4L153.6 1159.8L154.1 1159.3L155.8 1156.4L156.6 1158.3L158.3 1150.8L159.1 1141.1L159.8 1113.3L161.6 951L162.1 932.1L164.3 1056.4L165.3 1079.4L167.1 1095.2L167.8 1096.6L170.1 1108.4L171.6 1109.3L172.3 1111.8L173.1 1116.1L173.8 1114.2L175.3 1117.6L176.1 1122.3L176.8 1122.7L177.6 1121.8L179.1 1125.7L180.6 1126.2L182.1 1129.6L182.8 1129.4L183.6 1131.7L185.1 1132.2L185.8 1134.9L186.6 1135.7L187.3 1132.4L188.1 1136.7L189.6 1135.9L190.3 1139.4L191.1 1139.1L191.8 1140.2L192.6 1138.5L193.3 1143.2L194.8 1140.2L195.6 1146.4L196.3 1140.7L197.1 1145L197.8 1142.4L200.1 1142.3L200.8 1142.8L201.6 1145.2L202.3 1144.8L203.1 1142.6L203.8 1145.9L204.6 1143.4L205.3 1146.9L206.1 1145.6L206.8 1146.1L207.6 1148.8L208.3 1143.8L209.1 1150.9L209.8 1151.1L210.6 1150.5L212.1 1147.1L212.8 1150.2L213.6 1148.1L215.1 1147.7L215.8 1151.4L216.6 1150.7L217.3 1147.1L218.1 1149.5L218.8 1147.7L219.6 1151.5L220.3 1148.6L221.8 1151.3L223.3 1148.7L224.1 1150.1L224.8 1148.7L225.6 1153.4L226.3 1152.7L227.1 1148.4L227.8 1149.5L228.6 1155.1L230.1 1151.3L230.8 1153.4L231.6 1152.6L232.3 1154.1L233.1 1151.6L233.8 1155L235.3 1150.6L236.1 1152.6L236.8 1152.2L237.6 1153.5L239.1 1153.2L239.8 1151L240.6 1153.7L241.3 1152.3L242.1 1157.4L242.8 1151.6L243.6 1153.1L245.1 1152.1L245.8 1154.5L247.3 1154.4L248.1 1156.5L248.8 1153.2L249.6 1154.9L250.3 1154.4L251.1 1154.8L251.8 1152.3L252.6 1152.5L253.3 1155.9L254.1 1152.7L254.8 1156.5L255.6 1157.3L256.3 1153.9L257.1 1155.4L257.8 1155.3L258.6 1157.5L259.3 1158.6L260.1 1156.5L260.8 1156.6L261.6 1157.3L262.3 1153.8L263.8 1156.9L264.6 1154.7L265.3 1158.3L266.1 1154.1L266.8 1155.4L268.3 1156.9L269.1 1154.3L270.6 1156.5L271.3 1156.1L272.1 1157.4L272.8 1154.7L273.6 1154.3L274.3 1152.6L275.8 1155.3L276.6 1153.7L278.1 1157.6L278.8 1155.5L279.6 1158.5L281.1 1156.5L281.8 1157.6L282.6 1158L283.3 1154.3L284.1 1159.3L284.8 1153.8L285.6 1157.3L286.3 1155.8L287.1 1155.9L287.8 1157.2L288.6 1156.3L290.1 1156.9L290.8 1155.6L291.6 1157.5L292.3 1155.4L293.1 1158.1L293.8 1155.3L294.6 1157.8L295.3 1156.2L296.1 1159.9L296.8 1156L297.6 1159.6L299.1 1155.1L299.8 1160.1L300.6 1159.4L301.3 1160.7L302.1 1157.2L302.8 1159.5L303.6 1160.5L304.3 1158.4L305.1 1161.5L305.8 1157.9L306.6 1160L307.3 1156.5L308.8 1157.9L311.1 1159.5L311.8 1155.2L312.6 1158.9L313.3 1157.8L314.1 1155.8L315.6 1159.8L316.3 1160.2L317.1 1156.3L317.8 1157.7L318.6 1157.9L319.3 1160.8L320.1 1158.2L320.8 1157.4L321.6 1158.6L322.3 1155L323.1 1158.8L323.8 1160.2L324.6 1159.3L325.3 1155.7L326.1 1162.3L326.8 1159.7L327.6 1158.5L328.3 1158.6L329.1 1160.1L329.8 1158.6L330.6 1158.6L331.3 1159.9L332.1 1157.1L332.8 1160.1L333.6 1157.4L334.3 1159.7L335.1 1160.7L335.8 1159.8L336.6 1160.3L337.3 1158.4L338.1 1157.8L338.8 1161.6L339.6 1158.8L340.3 1157.8L341.1 1158.3L341.8 1157.4L342.6 1160.9L343.3 1160.2L344.1 1161.6L344.8 1157.4L345.6 1159.4L346.3 1159.1L347.1 1155.9L347.8 1159.2L348.6 1160.3L349.3 1158L350.1 1157.3L350.8 1164.8L351.6 1157.2L352.3 1161.9L353.1 1160L353.8 1160.2L354.6 1158.6L355.3 1157.9L356.1 1161.9L356.8 1162.6L357.6 1158.2L358.3 1161.5L359.1 1159.6L359.8 1160.9L361.3 1158L362.1 1157.1L362.8 1156.9L363.6 1159.5L364.3 1159.3L365.1 1157.8L365.8 1157L367.3 1160.3L368.1 1161.1L368.8 1161.3L369.6 1159.8L370.3 1160.9L371.1 1157.7L371.8 1162.3L373.3 1158.4L374.8 1158L376.3 1161.1L377.1 1158.6L377.8 1161.3L378.6 1160L379.3 1157.1L380.1 1158L380.8 1158.3L381.6 1159.1L382.3 1162.8L383.1 1163.6L383.8 1160.3L384.6 1160.3L385.3 1158.6L386.1 1161.7L386.8 1158.5L388.3 1160L389.1 1161.3L389.8 1160.4L390.6 1156.5L391.3 1160.5L392.1 1159.4L393.6 1162.2L394.3 1157.5L395.1 1160.4L395.8 1161.5L396.6 1157.6L397.3 1162.2L398.1 1161.1L398.8 1160.6L399.6 1158.8L400.3 1160.8L401.1 1161.3L401.8 1158.8L402.6 1159.1L403.3 1158.7L404.1 1160.7L404.8 1160.9L405.6 1161.6L407.1 1159.5L407.8 1160.2L408.6 1158.8L409.3 1161.8L410.1 1158.7L410.8 1158.8L411.6 1160.3L412.3 1155.7L413.1 1161L413.8 1162.4L414.6 1161.3L415.3 1161.4L416.8 1160.4L417.6 1160.2L418.3 1158.5L419.1 1160.9L419.8 1161.7L420.6 1163.4L421.3 1159.7L422.1 1160.9L422.8 1161.1L423.6 1159.7L425.8 1159.9L426.6 1162.9L427.3 1157.7L428.1 1158.5L428.8 1158.1L429.6 1160.9L430.3 1161.3L431.1 1158.8L431.8 1161.8L432.6 1157.9L433.3 1162.8L434.1 1160.5L434.8 1161.9L435.6 1158.1L436.3 1161.8L438.6 1157.8L439.3 1161.6L440.1 1161.5L440.8 1159.8L441.6 1161.8L443.1 1162.1L443.8 1158.7L444.6 1161.4L446.1 1159.2L446.8 1160.6L447.6 1159.5L448.3 1162.1L449.1 1160.1L450.6 1161.7L451.3 1164.8L452.8 1158.3L453.6 1162.6L454.3 1160.6L455.1 1162L457.3 1157.8L458.1 1160.3L458.8 1161.3L459.6 1159.1L461.1 1158.7L461.8 1159.5L462.6 1159.9L463.3 1161L464.1 1159.1L464.8 1159.9L465.6 1157.8L466.3 1160.9L467.8 1157L468.6 1156.8L470.1 1160.7L470.8 1158.8L471.6 1162.4L473.1 1156.7L473.8 1156.6L474.6 1160.2L475.3 1155.9L476.8 1154.6L477.6 1152.2L478.3 1155.8L479.1 1155L479.8 1150.4L480.6 1153L482.1 1143.3L483.6 1125.9L484.3 1101.1L484.8 1070.3L486.1 925.2L486.6 898.2L488.3 1040.2L488.6 1045L489.1 1035.7L490.1 962.3L490.6 944.2L492.1 1071.2L492.8 1111.1L493.8 1134L494.3 1138L496.3 1147.5L497.1 1142.6L498.1 1143.3L498.6 1143.3L499.3 1142L499.8 1139.8L500.6 1132.6L501.3 1117.5L502.1 1076.8L503.6 900L504.1 874.3L505.8 1063.3L506.6 1108.2L507.6 1133.4L508.3 1136L509.1 1141.6L509.8 1141L510.6 1142.9L511.6 1135.5L512 1128.8L512.8 1106.5L514.5 968.5L515 949.7L515.5 974.2L516.5 1066.5L517.3 1105.7L517.8 1117.2L518.3 1121.3L518.5 1121.4L518.8 1120.1L519.3 1111.3L520.5 1050.2L522 879L522.5 857L524.3 1043.2L525.3 1109.6L525.8 1125.6L526.8 1141.1L527.3 1145L528.8 1150L529.3 1151.3L530 1151.4L531.5 1156.1L532.3 1152.7L533.8 1157.8L534.5 1155.6L535.3 1155L536 1158.4L536.8 1158.9L537.8 1159L538.3 1158.8L539 1155.6L539.8 1163.3L540.5 1157.7L541.3 1158L542 1160.1L542.8 1160.1L543.5 1159.4L545 1160.4L545.8 1160.1L546.5 1158.5L547.3 1159.9L548.8 1160.3L549.5 1159.8L550.3 1158.4L551 1160.5L551.8 1160.9L552.5 1160.5L553.3 1157.7L554 1160.5L554.8 1162.1L556.3 1159.4L557 1160.4L558.5 1159.6L559.3 1160.8L560 1160.4L560.8 1159L561.5 1162.5L562.3 1161.4L563 1157.8L563.8 1159.8L564.5 1160L565.3 1156.9L566 1158.3L566.8 1162.3L567.5 1160L568.3 1160.6L569 1160.5L570 1159.8L572 1157.6L572.8 1158.8L573.5 1161.1L575 1161.7L575.8 1159.7L576.5 1158.7L577.3 1161.8L578.8 1160.5L579.5 1160.8L580.3 1159.1L581 1161.4L581.8 1157.2L583.3 1160.4L584 1159.6L584.8 1161.7L586.3 1158.5L587 1158.3L587.8 1156.4L588.5 1161L589.3 1159.5L590 1160.2L590.8 1157.6L591.5 1157.7L592.3 1160.3L593 1158.3L593.8 1158.9L594.5 1161L595.3 1159.4L596 1159.7L597.5 1158L598.3 1159.5L599 1158.7L599.8 1161L600.5 1159.8L601.3 1155.9L602 1157.6L602.8 1156.7L603.5 1159.8L605 1155.8L606.5 1158.5L607.3 1158L608 1156.9L608.8 1156.7L609.5 1154.5L610.3 1155.5L611 1155.5L611.8 1154.2L612.5 1155.3L613.3 1153.2L614 1155.7L614.8 1153L615.5 1152.1L616.3 1151.4L617.8 1152.3L618.5 1151.5L619.3 1149.4L620 1149.9L620.8 1147.3L621.5 1147.6L622.3 1147.4L624.5 1141.4L625.3 1141L626 1138.5L626.8 1133.7L628.3 1129.8L628.8 1127.7L630.5 1118L631.3 1107.8L632 1102.7L633.3 1081.2L634.8 1041.8L636.8 931.7L638 800.2L639.8 557.2L640.3 512.2L640.5 502.6L640.8 502.3L641.5 552.6L644 882.4L645 964.7L646 1021.4L647 1058.3L649.3 1099.9L651 1118.8L652.3 1127.2L654.3 1136.1L655.3 1138.9L656 1140.1L656.8 1145.2L657.5 1143.8L658.3 1143.5L659 1144.3L659.8 1148.6L660.5 1148.4L661.3 1149.2L662 1148.8L663.5 1153.2L664.3 1152.9L665 1151.6L665.8 1153.3L666.5 1154.1L667.3 1153.1L668.8 1153.5L669.5 1157.8L670.3 1157.5L671 1155.8L671.8 1156.4L672.5 1157.9L673.3 1158.1L674 1157.8L674.8 1155.8L675.5 1155.9L677 1158.6L677.8 1158.5L679.3 1156.9L680 1160.2L680.8 1157L681.5 1158.4L683 1159.1L683.8 1160.5L684.5 1156.1L685.3 1155.6L686 1159.4L686.8 1160.3L687.5 1160.2L688.3 1160L689 1159L689.8 1158.9L690.5 1161.8L691.3 1158.2L692 1160.8L692.8 1159L693.5 1159.3L694.3 1158L695 1159L695.8 1158.4L696.5 1157.1L697.3 1157.9L698 1156.8L698.8 1160.5L699.5 1157.9L700.3 1158.7L701 1161.5L702.5 1158.8L703.3 1160.7L704 1159.8L704.8 1160.3L705.5 1158.3L706.3 1160.6L708.5 1158.2L709.3 1159.1L710 1158.3L710.8 1159.7L711.5 1159.7L712.3 1158.4L713 1161.2L713.8 1160.6L714.5 1157.7L715.3 1161.5L716 1158.5L716.8 1157.4L718.3 1160.7L719 1161L719.8 1157.9L720.5 1158.4L721.3 1157.3L722 1157.4L724.3 1149.8L725 1149L725.5 1149.4L727.3 1153.2L728 1157.9L728.8 1157.6L729.5 1159L730.3 1158.7L731 1160L731.8 1159L732.5 1160.4L733.3 1159.8L734 1162.7L734.8 1157.7L735.5 1162.1L737 1159L737.8 1161.2L738.5 1160L739.3 1161L740 1160.2L740.8 1160.7L743 1159.8L743.8 1161.4L744.5 1162.2L745.3 1161.7L746 1160.2L747.5 1161L749 1160.7L749.8 1161.4L750.5 1160.1L751.3 1161.5L752 1159.4L752.8 1160.4L754.3 1160.2L755 1162L755.8 1159L756.5 1160.4L757.3 1160.5L758 1161.4L758.8 1159.4L759.5 1159.2L761.8 1161.1L762.5 1162.9L763.3 1163L764.8 1161.2L765.5 1161.9L767 1160.6L767.8 1160.4L768.5 1164.5L770 1159.6L770.8 1162.4L771.5 1159.8L773 1161.2L776 1160L776.8 1159.4L778.3 1162.4L779 1159.8L779.8 1161.7L780.5 1161.9L781.3 1159.4L782 1162.2L782.8 1162L784.3 1160.1L785 1161.8L785.8 1161.5L787.3 1157.8L788 1162.6L788.8 1157.8L789.5 1160.8L790.3 1157.8L791 1160.3L791.8 1160.1L792.5 1160.9L794 1161.6L794.8 1159.5L795.5 1161.9L796.3 1161.6L797 1159.7L797.8 1161.3L798.5 1159.8L799.3 1161.1L800 1159.2L801.5 1162.6L802.3 1160.2L803 1161.1L803.8 1163.3L804.5 1163.8L805.3 1159.4L806 1160.3L806.8 1157.9L807.5 1158.8L808.3 1163.2L809 1160.4L810.5 1160.1L811.3 1162.3L812 1159.2L813.5 1160.5L814.3 1159.9L815.8 1162.9L816.5 1160.1L817.3 1161.1L818 1163.8L818.8 1161L819.5 1159.5L820.3 1161.8L821 1161.9L821.8 1163"/>
<path stroke="#c48c28" stroke-width="3.10" d="M55.8 1105.7L56 1105.1L57.5 1105.1L58.3 1106L59 1105.1L60.5 1105.9L61.3 1105.9L62 1104.8L62.8 1106.5L63.5 1105.6L64.3 1106L65 1105.6L65.8 1106.4L66.5 1105.2L67.3 1105L68.8 1106.2L69.5 1105.4L71 1106.3L71.8 1104.5L72.5 1106.2L73.3 1106.4L74 1105L74.8 1105.3L75.5 1105L76.3 1105.8L77 1104.9L78.5 1106.2L79.3 1103.7L80 1105.7L81.5 1105L82.3 1105.6L83 1105.2L83.8 1104.3L85.3 1105.2L86.8 1104.4L87.5 1106.5L89 1106L90.5 1103.9L91.3 1105L92 1105.5L92.8 1104.8L93.5 1104.7L95 1106.4L95.8 1105.2L96.5 1105.1L97.3 1104.6L98 1105.9L98.8 1105.2L101 1104.6L101.8 1105L102.5 1106.1L103.3 1104.8L104 1105.1L104.8 1104.2L105.5 1104.8L106.3 1103.7L107 1105.4L107.8 1104.1L108.5 1104.6L109.3 1104.3L110 1105.4L110.8 1104.2L111.5 1104.1L112.3 1102.5L113 1102.5L115.3 1101.4L116 1101.8L117.5 1099.5L119 1095.6L120.5 1090.1L121 1085.5L121.8 1073.3L122.3 1052L123 955.2L124.5 376.2L125 290.2L126.5 844.9L127.5 1040.7L128.1 1068.4L128.8 1083.9L130.3 1093.9L131.8 1098.1L133.3 1101L135.6 1101.1L136.3 1102.4L137.1 1102.5L138.6 1104.4L139.3 1103.1L140.1 1104.5L140.8 1104.6L141.6 1103.4L143.1 1104.6L143.8 1103.7L144.6 1103.6L145.3 1104.8L146.1 1104L146.8 1104L147.6 1105L148.3 1104.5L149.1 1104.6L149.8 1105.3L150.6 1105.2L151.3 1103.3L152.1 1104.9L152.8 1104.3L154.3 1104.7L155.1 1105.2L156.6 1103.8L157.3 1104.1L158.1 1102.4L158.8 1103.4L159.6 1102.7L160.3 1100.9L161.1 1100.3L162.3 1098L163.3 1094.7L164.1 1084L164.8 1056.5L166.3 935.1L166.6 922.7L166.8 921.3L168.6 1027.8L169.6 1052.8L170.8 1064.7L173.1 1074L175.3 1078.7L176.1 1081.1L176.8 1080.9L179.1 1084.3L180.6 1085.4L180.8 1085.1L181.8 1083L182.3 1079.5L184.3 1050.1L184.8 1053.3L186.3 1076.8L187.6 1085.4L188.3 1088.3L189.6 1091.4L193.3 1094.4L194.8 1097.6L195.6 1097.1L196.3 1097.8L197.1 1096.8L197.8 1098.6L198.6 1098.6L199.3 1099.5L200.8 1099.5L202.3 1100.3L203.1 1102.2L204.6 1100.6L205.3 1101.6L206.1 1101.7L206.8 1103.4L207.6 1101.2L208.3 1102.9L209.1 1103.2L209.8 1104.1L210.6 1104L212.1 1102.3L214.3 1103.4L215.8 1102.9L216.6 1104.2L218.1 1103.7L220.3 1103.6L221.1 1105.6L221.8 1104.1L222.6 1104L223.3 1105.8L224.1 1104.2L224.8 1104.7L225.6 1103.6L226.3 1104.3L227.1 1103.5L228.6 1105.9L229.3 1104.9L230.1 1104.9L231.6 1105.8L232.3 1104.2L233.8 1104.6L234.6 1105.6L235.3 1104.1L237.8 1104.6L238.3 1104.6L239.1 1103.8L239.8 1104.5L240.6 1101.7L241.3 1102.2L242.1 1099.7L243.6 1099.2L244.3 1101.6L245.1 1101.6L245.8 1102.4L246.6 1104.8L247.3 1104.6L248.8 1103.7L249.6 1105.4L250.3 1105L251.1 1105.5L252.6 1105.8L253.3 1103.8L254.1 1103.8L254.8 1105.5L255.6 1104L256.3 1105.8L257.8 1105.2L258.6 1105.1L259.3 1104.2L260.1 1105.1L260.8 1105L261.6 1105.4L262.3 1106.4L263.1 1104.9L264.6 1106.3L265.3 1104.8L266.8 1104.8L268.3 1104.2L269.1 1105.6L269.8 1106.2L271.3 1104.9L272.1 1104.9L272.8 1105.4L273.6 1104.8L274.3 1105.1L275.1 1104.9L275.8 1105.8L277.3 1105.4L278.1 1104.6L278.8 1104.8L280.3 1106.9L281.1 1105L281.8 1106.6L282.6 1105L283.3 1104.9L284.1 1105.5L284.8 1104.9L286.3 1105.4L287.1 1105L287.8 1105L290.1 1106.6L291.6 1104.4L292.3 1105L293.1 1104.3L293.8 1105.3L294.6 1104.9L295.3 1105.5L296.1 1105.1L296.8 1105.3L297.6 1105L298.3 1106.2L299.1 1104.2L299.8 1106L300.6 1106L302.1 1105.4L302.8 1105.5L304.3 1104.6L305.1 1105.8L306.6 1105.8L307.3 1105.2L308.1 1105.9L308.8 1105.6L309.6 1106.4L311.1 1103.9L312.6 1105.4L313.3 1104.2L314.1 1105.3L314.8 1104.2L315.6 1104.2L316.3 1103.7L317.1 1102.2L318.6 1103.2L319.3 1102.8L320.8 1104L321.6 1105.1L322.3 1105.5L323.1 1104.6L323.8 1104.8L324.6 1105.6L325.3 1105.2L326.1 1106.2L326.8 1105.1L328.3 1104.4L329.1 1104.8L329.8 1104.1L331.3 1106.2L332.1 1104.2L332.8 1103.9L334.3 1105.1L335.1 1104.6L335.8 1105.7L336.6 1105.8L337.3 1104.8L338.1 1105.1L338.8 1104.8L340.3 1106.3L341.1 1104.6L341.8 1104.8L342.6 1104.5L343.3 1105.5L344.1 1105.5L344.8 1104.7L345.6 1105L346.3 1106.6L347.1 1106.5L347.8 1104.7L348.6 1105.3L349.3 1105L350.1 1105.5L350.8 1104.6L351.6 1105.6L353.1 1106L353.8 1104.4L354.6 1106.4L355.3 1104.7L356.1 1104.4L356.8 1106L357.6 1105.8L358.3 1105.3L359.1 1105.9L360.6 1105.5L361.3 1104.6L364.3 1106.3L365.1 1105.2L365.8 1104.9L366.6 1104.8L367.3 1105.8L368.1 1104.9L368.8 1106.6L369.6 1105.4L370.3 1105.4L371.1 1105.9L372.6 1104.7L373.3 1105.4L374.1 1105.5L374.8 1105L376.3 1105.3L377.1 1104.2L378.6 1105.2L379.3 1104.6L380.1 1105.6L380.8 1105.6L381.6 1103.9L383.1 1105.6L383.8 1105.1L384.6 1105.6L385.3 1105.7L386.1 1104.3L386.8 1105.4L387.6 1104.7L388.3 1103.2L389.1 1105.6L389.8 1104.8L392.1 1105.9L393.6 1104.7L394.3 1104.9L395.1 1105.9L395.8 1105.1L396.6 1106.4L397.3 1106.2L398.1 1104.9L398.8 1106.4L399.6 1104.9L401.1 1105.2L401.8 1104.6L403.3 1105.6L404.1 1106.5L404.8 1106.1L405.6 1104.9L407.1 1105.9L408.6 1104.5L409.3 1105.2L410.1 1104.2L410.8 1105.3L411.6 1104.9L412.3 1105.9L413.8 1104.5L414.6 1105.6L416.1 1104.6L416.8 1105.4L418.3 1104.1L419.1 1104.4L419.8 1105.8L420.6 1106L421.3 1104.9L422.1 1105.4L422.8 1104.1L423.6 1105.6L424.3 1105L425.1 1105.5L425.8 1104.8L426.6 1105.1L427.3 1104.1L428.1 1105.4L428.8 1104.7L430.3 1106.1L431.1 1103.8L431.8 1105.7L432.6 1105.3L433.3 1105.2L434.1 1105.6L435.6 1103.9L436.3 1104.6L437.1 1104.8L437.8 1103.7L438.6 1105.3L439.3 1105.3L440.1 1104.2L440.8 1105L443.1 1104.9L443.8 1105.5L444.6 1105L445.3 1106.2L446.1 1105L446.8 1105.7L447.6 1105.8L448.3 1104L449.1 1105.1L451.3 1105.2L452.1 1105.6L452.8 1105.4L453.6 1104.7L454.3 1105.6L455.1 1104.7L455.8 1105.1L457.3 1104L458.1 1104.1L458.8 1105.7L460.3 1104.4L461.1 1105.2L461.8 1104.1L462.6 1104.2L463.3 1103.6L465.6 1106L466.3 1104.3L468.6 1105L470.1 1103.2L470.8 1104.8L471.6 1103.4L472.3 1104.4L473.1 1103.7L474.6 1104L475.3 1101.9L476.1 1104.7L476.8 1102.3L477.6 1102.2L478.3 1102.9L479.1 1100.8L480.6 1100.8L482.1 1097.7L483.1 1092.8L483.8 1081.5L484.8 1027.6L486.1 877.4L486.6 853.3L488.8 1067.4L489.3 1082.4L490.1 1091.5L490.6 1093.6L491.1 1094L492.6 1096.8L493.3 1095.2L494.1 1092.2L494.8 1085.7L495.3 1075.8L495.8 1053.5L497.6 832.2L498.1 804.3L499.8 1021.2L500.3 1059.8L501.1 1084.6L502.3 1096.3L503.1 1097L504.1 1099.7L505.3 1100.9L506.1 1101.2L506.8 1101.1L508.3 1102.5L509.1 1101.4L509.8 1102.9L510.6 1101.6L511.3 1102.5L512 1101.6L512.8 1102.9L514.3 1101.4L515 1101.3L516.8 1093.3L517.3 1089.5L517.8 1080.8L518.3 1061.4L520.5 799.8L521 828.4L522.8 1055L523.5 1084.2L524.3 1092.7L525 1096.5L526.3 1099.2L527.8 1098.7L528.5 1098.8L530 1095.2L531 1086.7L531.5 1075.4L532.3 1033.2L533.8 845.1L534.3 816.1L534.8 844.7L536 1009.6L536.8 1066L537.8 1090.9L538.3 1095.8L539 1097.1L539.8 1100.1L540.5 1100.4L542 1102.7L542.8 1102L543.5 1103.2L544.3 1102.6L545 1103.3L546.5 1103.8L547.3 1103L548.8 1104.2L549.5 1103.3L550.3 1104.5L552.5 1104L553.3 1104.5L554 1103.9L554.8 1104.7L555.5 1104.5L556.3 1105.3L557.8 1103.5L558.5 1104.7L559.3 1104.3L560 1105.5L560.8 1104L563.8 1104.7L564.5 1106.1L565.3 1104.6L566 1105.5L566.8 1104.3L568.3 1104.6L569 1105.7L569.8 1104.9L570.5 1105L571.3 1104.4L572 1104.6L572.8 1106.1L573.5 1103.6L574.3 1103.5L575 1104.5L577.3 1103.5L578 1104.9L579.5 1104.5L580.3 1105.2L581 1105.4L581.8 1104.8L582.5 1105.3L583.3 1103.8L584 1104.9L584.8 1104L586.3 1105.6L587 1104.6L587.8 1105.9L589.3 1105.2L590 1103.9L590.8 1104.7L592.3 1105.2L593.8 1103.7L594.5 1105.2L595.3 1103.7L596 1104.2L596.8 1103.4L597.5 1104.6L598.3 1105.1L599 1105.2L599.8 1104L600.5 1104.9L601.3 1104.8L602.8 1105.2L603.5 1104.8L604.3 1105.7L605 1103.9L605.8 1104.9L606.5 1104.7L607.3 1103.8L608 1104.7L609.5 1103.9L610.3 1104.9L611 1104.4L611.8 1105.1L612.5 1104.2L613.3 1105.3L614 1104.7L614.8 1104.6L616.3 1105.7L617 1104.4L619.3 1104.5L620 1103.1L620.8 1105.2L621.5 1105.3L622.3 1105.1L623.8 1103.1L625.3 1104L626.8 1102.9L627.5 1103.4L628.3 1102.7L629 1102.8L629.8 1103.7L630.5 1102.6L631.3 1102.5L632.8 1102.7L633.5 1103.3L634.3 1103.4L635 1103.1L635.8 1102.2L636.5 1102L637.3 1103.2L638 1101.9L638.8 1101.3L639.5 1101.8L640.3 1099.9L641 1101.5L641.8 1101.2L642.5 1100L643.3 1097.6L644 1098.3L644.8 1097.7L645.5 1096.3L646.3 1096.2L647 1092.7L648.5 1089.1L650 1080.9L651.8 1059.7L653 1026.3L653.8 984.2L654.5 906.5L656 590.7L656.5 545.8L658.3 882.9L659.3 992.5L660 1030.3L661.3 1062.2L663 1081L665.3 1091.7L666.5 1094.7L667.3 1094.7L668 1096.8L669.5 1099.8L671 1100.3L671.8 1099.8L673.3 1102.6L674 1101.6L674.8 1101.6L676.3 1102.7L677 1102.3L677.8 1102.8L678.5 1102.2L680 1103.1L681.5 1102.7L682.3 1104.5L683 1103.6L683.8 1104.1L684.5 1102.8L685.3 1103.7L686 1103.6L686.8 1105.2L688.3 1103.9L689 1104.4L689.8 1104.2L690.5 1104.4L691.3 1103.2L692 1102.9L692.8 1104.2L694.3 1104.3L695 1105.2L695.8 1104.2L696.5 1104.4L697.3 1104.1L698 1103.3L699.5 1103.8L700.3 1104.4L701 1105.5L702.5 1104.4L703.3 1103.4L704 1105L705.5 1103.3L706.3 1104.8L708.5 1104.8L709.3 1104.2L710 1104.5L710.8 1104.1L712.3 1104.9L713 1105L713.8 1104.2L714.5 1105.7L716 1103.4L716.8 1105.6L717.5 1105.4L718.3 1105.6L719 1104.7L720.5 1104.3L721.3 1105.2L723.5 1105.3L724.3 1104.4L725.8 1105.2L726.5 1104.8L727.3 1105.9L728 1103.5L728.8 1105.1L729.5 1104.6L732.5 1104.9L733.3 1104.7L734 1103.9L734.8 1105.2L735.5 1105.1L736.3 1104L737 1105L737.8 1104.6L738.5 1104.7L739.3 1104.3L740 1103.3L740.8 1103.3L741.5 1100.9L742.3 1101.8L743 1099.5L743.3 1099.4L743.8 1099.7L744.5 1101.6L745.3 1102.4L746.8 1105.2L749 1104L749.8 1104.6L750.5 1104.1L751.3 1104.9L752 1103.5L752.8 1104.3L753.5 1104.5L754.3 1104.2L755 1105.3L755.8 1105.4L756.5 1103.6L757.3 1105.7L758 1104.6L759.5 1105.2L760.3 1104.7L761.8 1105.3L762.5 1104.5L764 1105.5L764.8 1104.8L767 1104.4L767.8 1104.8L768.5 1104.1L769.3 1104.9L770 1104.5L771.5 1106L773 1104.7L773.8 1105.3L775.3 1104.4L776 1105.3L776.8 1105.7L779 1104.4L780.5 1105.3L782 1105.4L783.5 1103.6L784.3 1105.5L785 1105.4L785.8 1105.9L787.3 1105.5L788.8 1104.1L789.5 1104.5L791 1104.1L792.5 1105.6L793.3 1104.5L794.8 1105.4L795.5 1104.4L796.3 1104.7L797.8 1104L798.5 1105.4L800 1105.4L801.5 1104.4L802.3 1105.8L803 1103.7L803.8 1105.1L805.3 1104.1L806 1105.6L806.8 1105.9L807.5 1104.7L808.3 1104.7L809 1105L809.8 1104.8L810.5 1106.2L811.3 1104.3L812 1104.4L812.8 1105.2L813.5 1104.6L815 1104.6L815.8 1104.8L816.5 1105.6L817.3 1104.3L818 1105.5L818.8 1104.3L819.5 1104.3L820.3 1105.5L821 1105.2L821.8 1105.4"/>
<path stroke="#a88222" stroke-width="3.10" d="M55.8 1041.7L56.8 1043.2L57.5 1041.7L58.3 1042.5L59 1037.6L59.8 1042.4L61.3 1039.4L62 1040.6L62.8 1039.1L63.5 1039.1L64.3 1037.8L65 1039.9L65.8 1038.8L66.5 1039.6L67.3 1042L68 1040.9L68.8 1037.9L69.5 1041.5L70.3 1042.3L71 1040.8L72.5 1040.6L73.3 1039.3L74 1042.3L75.5 1040.5L77 1040.5L77.8 1042.9L79.3 1038.1L80 1041L80.8 1042.6L81.5 1041.6L83 1038.2L83.8 1043.7L84.5 1039.1L85.3 1040.8L86.8 1039.6L87.5 1039.9L88.3 1038.8L90.5 1040.2L91.3 1043.8L92 1038.9L92.8 1042.1L95 1038.2L95.8 1040.2L96.5 1038.7L97.3 1040.6L98 1040.7L98.8 1038.3L99.5 1041.8L100.3 1039.8L101.8 1040.5L102.5 1039.5L103.3 1041.5L104 1042.4L104.8 1040.3L106.3 1042.7L107.8 1039.4L108.5 1041.4L109.3 1039.7L110 1039.1L110.8 1037L111.5 1039.2L112.3 1037.5L113 1038.9L113.8 1035.1L114.5 1036.1L115.3 1039.7L116 1039.6L116.8 1036.9L117.5 1036L118.3 1031.3L119 1033.8L120.5 1025.4L121.3 1023.1L122.3 1013.7L122.8 1003.4L123.3 975.7L124 867.7L125.5 324.1L126 250.9L127.8 828.2L128.6 961.7L129.1 996.2L129.8 1016.5L130.8 1025.5L132.6 1033.2L133.3 1034.8L134.1 1031.6L134.8 1034.9L135.6 1036.2L136.3 1036.1L137.8 1039.1L138.6 1038.3L139.3 1038.1L140.1 1040.9L140.8 1039.3L141.6 1039.4L142.3 1042.2L143.1 1040.8L143.8 1037.8L144.6 1041.4L145.3 1038.3L146.1 1039.8L146.8 1035.4L147.6 1041L148.3 1036.9L149.1 1040.5L149.8 1042.6L152.1 1037.9L153.6 1040.6L154.3 1034.5L155.8 1040.9L156.6 1038.3L157.3 1040.5L158.1 1039.6L158.8 1037.1L159.6 1038L160.3 1040L161.1 1037.1L162.6 1037.2L163.3 1034.6L164.8 1032.4L165.8 1022.9L166.6 1002.5L168.3 861.5L168.8 839.5L169.3 855.4L170.6 934.2L171.1 951.1L172.1 969L173.8 984.4L174.6 985.1L176.1 995L176.8 994.1L179.1 1002.6L180.6 1006.5L181.3 1004.7L182.1 1007.2L182.8 1004.3L183.6 1005.8L185.1 999.5L185.8 993.8L186.1 993.7L186.6 995.1L188.8 1007.7L190.3 1013.5L191.1 1014.5L192.6 1019.8L193.3 1017.9L194.1 1019.5L194.8 1019.8L195.6 1025.7L196.3 1026L197.8 1025.3L198.6 1024.6L199.3 1028.1L200.1 1027.5L200.8 1028.5L201.6 1028.6L202.3 1026L203.1 1027.1L204.6 1031.2L205.3 1029.4L206.1 1031.5L207.6 1030.3L208.3 1033.2L209.1 1030.9L209.8 1031L210.6 1035.5L211.3 1035.4L212.1 1033.9L212.8 1035.5L213.6 1033L215.1 1035L216.6 1035.6L217.3 1033L218.1 1036.4L218.8 1033.5L219.6 1035.2L220.3 1038.4L221.8 1034.8L222.6 1036.1L223.3 1034.6L224.8 1034.6L227.1 1036.9L227.8 1039L228.6 1036.7L229.3 1036.5L230.1 1034.4L230.8 1037.9L231.6 1036.3L232.3 1038.4L233.1 1036.2L233.8 1038.5L234.6 1035.2L236.1 1035.7L236.8 1035.4L237.6 1036.2L238.3 1035.9L239.1 1032.7L239.8 1032.8L240.6 1033.6L241.3 1035.2L242.1 1032.2L242.8 1032L244.3 1029L245.1 1026.4L245.8 1033.6L246.8 1033.5L247.3 1033.7L248.1 1037.2L248.8 1037.9L249.6 1039.8L250.3 1038.6L251.1 1043.3L251.8 1040.2L252.6 1041.3L253.3 1039.8L254.1 1041.9L254.8 1042.9L256.3 1039.8L257.1 1041.3L257.8 1040.8L258.6 1042.2L259.3 1041.5L260.1 1041.6L260.8 1040.8L261.6 1040.7L262.3 1041.1L263.1 1042.9L263.8 1041L264.6 1041.9L265.3 1040.4L266.1 1040.6L266.8 1039.3L267.6 1040.7L268.3 1040L269.1 1037.8L269.8 1039.6L270.6 1038.7L271.3 1040.4L272.1 1040.2L272.8 1042.5L274.3 1040L275.1 1040.2L275.8 1039.9L276.6 1040.1L277.3 1041.5L278.1 1040L279.6 1042.2L280.3 1040.1L281.1 1040.8L281.8 1043.2L283.3 1040.4L284.1 1041.7L285.6 1039.7L286.3 1042.1L287.1 1039.6L288.6 1040.6L289.3 1042L290.1 1041.7L290.8 1040L291.6 1040.8L292.3 1040.3L293.1 1042L293.8 1041.3L294.6 1039.9L295.3 1042L296.1 1039L296.8 1040.3L297.6 1038.2L298.3 1042.1L299.1 1040.6L299.8 1041.7L300.6 1043.9L301.3 1041.2L302.1 1041.2L302.8 1040.1L303.6 1041.2L304.3 1040.2L305.1 1041.6L306.6 1041.2L307.3 1040.5L309.6 1040.6L310.3 1041.5L311.1 1039.8L312.6 1041.3L313.3 1043L314.1 1041.1L314.8 1040.5L315.6 1040.4L316.3 1042.7L317.1 1039.9L317.8 1039.9L318.6 1040.5L319.3 1039.6L320.8 1041.2L321.6 1040.4L322.3 1038.2L323.1 1041.3L323.8 1041.9L324.6 1040.1L325.3 1043.3L326.1 1041.1L326.8 1041.2L327.6 1039.1L328.3 1043.9L329.1 1043.6L329.8 1042.6L330.6 1043.2L331.3 1040L332.1 1040.1L332.8 1041.4L333.6 1040.9L334.3 1039.4L335.1 1041.1L335.8 1042L336.6 1040.6L337.3 1042.9L338.8 1040.3L340.3 1039.4L341.1 1042.1L341.8 1039.1L342.6 1041.8L343.3 1041.8L344.1 1039.2L344.8 1041.8L345.6 1041.1L346.3 1043.4L347.1 1041.6L347.8 1040.8L349.3 1042.8L350.1 1039.9L350.8 1039.6L352.3 1043.8L353.1 1039.3L353.8 1043.2L354.6 1041.8L355.3 1042.2L356.1 1041.9L356.8 1040.6L357.6 1040.3L358.3 1043.9L359.1 1039.4L360.6 1043.1L361.3 1041L362.1 1042.1L363.6 1040.1L364.3 1041.9L365.8 1040.3L366.6 1042L367.3 1040.6L368.1 1041.6L368.8 1040.4L369.6 1043L371.8 1040.8L373.3 1040.8L374.1 1039.8L374.8 1043L375.6 1039.9L376.3 1042.2L377.1 1042.2L377.8 1040.7L378.6 1040.9L379.3 1039.2L380.1 1040.7L380.8 1040.2L381.6 1042.2L382.3 1040.1L383.1 1040.2L383.8 1041.8L384.6 1038.6L385.3 1040L386.1 1042.5L386.8 1040.6L387.6 1042L388.3 1037.9L389.1 1040L389.8 1040.6L390.6 1039L391.3 1042L392.1 1038.9L393.6 1041.2L395.1 1040.4L395.8 1039.5L396.6 1041L397.3 1039.7L398.1 1042.6L398.8 1040.4L399.6 1039.4L400.3 1042.2L401.1 1043.1L402.6 1040.1L403.3 1037.6L404.8 1041.9L405.6 1041.5L406.3 1037.1L407.1 1041.1L407.8 1038.5L408.6 1041.6L409.3 1043L410.1 1040.4L410.8 1042.1L411.6 1040L412.3 1040.5L413.1 1041.8L413.8 1042L414.6 1040.1L415.3 1042.4L416.8 1037.9L417.6 1041.5L418.3 1041.6L419.1 1037.9L420.6 1042.2L422.1 1039.7L422.8 1039.5L423.6 1040.8L424.3 1040.4L425.1 1041.7L425.8 1041.2L426.6 1042.9L427.3 1040.1L428.1 1041.5L428.8 1041.5L429.6 1040.9L430.3 1041.9L431.1 1038.7L431.8 1040.4L432.6 1043.4L433.3 1041.7L434.1 1041L434.8 1042.3L436.3 1039.4L437.8 1042.6L438.6 1040.4L439.3 1043L440.1 1041.4L441.6 1040L442.3 1043.6L443.1 1043.8L443.8 1039.2L444.6 1040.7L445.3 1039.8L446.1 1042.4L446.8 1040.7L447.6 1042.1L449.1 1039.5L449.8 1042.9L450.6 1041L452.1 1039.6L453.6 1042.3L454.3 1040.4L455.1 1045.1L456.6 1041L457.3 1041.6L458.1 1040.3L458.8 1041.5L459.6 1039.2L460.3 1039.3L461.1 1043.5L461.8 1041L462.6 1041.8L463.3 1039.6L464.1 1041.2L464.8 1040.4L465.6 1037.7L466.3 1040.1L467.1 1040.4L467.8 1040.2L468.6 1041.9L469.3 1041.1L470.1 1038.4L471.6 1039.9L472.3 1040.1L473.1 1040L473.8 1038L474.6 1040L475.3 1039.2L476.1 1036.5L476.8 1036.4L478.3 1037.6L479.1 1036.5L479.8 1036.5L480.6 1035.4L482.1 1035.6L482.8 1033.1L483.1 1030.4L484.3 1008.2L485.1 959.8L486.1 858.9L486.6 842.4L488.8 1012.3L489.3 1023.8L489.8 1028.8L491.1 1036.3L491.8 1036.6L492.6 1034.6L493.3 1034.1L494.1 1034.6L495.6 1033.6L496.3 1026.8L496.8 1025.5L497.1 1023.6L497.6 1012.9L498.3 973.9L499.8 804.4L500.3 776.8L500.8 801.7L502.6 991L503.6 1023.3L504.1 1028.8L505.3 1036.4L506.1 1034.6L507.6 1037.9L508.3 1036.5L509.1 1037L509.8 1038.4L510.6 1038.5L511.3 1037L512 1038.7L513.5 1038.3L514.3 1038.9L515 1035.6L515.8 1037.9L516.5 1035.4L517.3 1034.4L517.8 1031.8L518.5 1021.4L519 1007.2L520.5 930.6L521 919.2L523 1009.9L524 1029.8L524.5 1032.2L525.5 1033.5L526.3 1035.6L527.8 1035.1L529.5 1030.2L530.5 1024.4L531.3 1010.9L532.3 970.8L534.3 806.5L534.5 790.9L534.8 783.1L535 782L535.8 813.1L537.3 944.1L538.3 1000.2L539.8 1029.8L541 1033.1L541.3 1033.7L542 1032.4L543.5 1038.4L544.3 1039.6L545.8 1037.5L546.5 1039.3L547.3 1036.9L548 1038.7L548.8 1037.9L549.5 1040.7L550.3 1037.5L551.8 1040.1L552.5 1040.4L553.3 1038.1L554 1039.2L554.8 1037.3L555.5 1041L556.3 1039.4L557.8 1039.3L558.5 1041.9L559.3 1040L560 1039L560.8 1041.4L561.5 1040.9L563 1039.1L564.5 1040.9L565.3 1040.1L566 1040.1L566.8 1041.4L567.5 1039.3L568.3 1041.2L569.8 1038.9L570.5 1041.4L571.3 1041.3L572 1039L572.8 1039.5L573.5 1041.8L574.3 1040.6L575 1038.3L576.5 1041.1L577.3 1039.8L578 1041.6L578.8 1039.9L579.5 1041.1L580.3 1040.5L581 1040.9L582.5 1040.5L583.3 1039L584 1041.9L584.8 1039.9L585.5 1039.1L586.3 1042.3L587 1039.7L587.8 1042.2L588.5 1037.9L589.3 1040.8L590 1040.4L590.8 1039.5L591.5 1041.7L592.3 1039.1L593 1040.5L593.8 1039.7L594.5 1041.4L595.3 1039L596 1040.5L596.8 1040.4L597.5 1037.8L598.3 1042.8L599 1040.5L600.5 1041.1L601.3 1039.7L602 1039.5L602.8 1037.4L603.5 1039.4L605 1040.7L605.8 1040.1L608 1040.4L609.5 1040.2L610.3 1040.9L611 1037.9L612.5 1040.6L614 1038.5L614.8 1039.3L616.3 1039.6L617 1041.9L617.8 1041.1L618.5 1038.8L619.3 1039.6L620 1041.6L620.8 1038.6L621.5 1040L623 1037.8L623.8 1038.6L624.5 1038.8L625.3 1040.2L626 1037.6L626.8 1040.1L627.5 1038.1L628.3 1038L629.8 1035.4L630.5 1037.8L631.3 1036.6L632 1037.4L632.8 1036.8L633.5 1034.3L634.3 1035.9L635 1036.2L636.5 1035.7L637.3 1035.2L638 1033.7L638.8 1034.2L639.5 1033.1L640.3 1033.2L641.8 1031.7L642.5 1033.3L643.3 1028.7L644 1026.6L644.8 1028.3L645.5 1025.2L646.3 1024.4L647.8 1019.6L649.3 1011.2L650 1009L650.8 1001.4L652.5 974.3L653.5 946.8L654.8 878.1L655.5 806.9L657.3 516.6L658 446L658.5 472.7L660 657.6L660.5 687L661.8 728.3L663.8 887.4L664.8 942.6L665.8 974.5L667.3 999.8L668.8 1014.5L669.5 1016.3L671.8 1025.8L672.5 1027.7L673.3 1026.6L674.8 1029.1L675.5 1031L676.3 1032.1L677 1034.8L677.8 1036.1L678.5 1033.1L679.3 1031.9L682.3 1036.7L683 1034.9L683.8 1037.6L684.5 1038L685.3 1034.5L686 1035.6L686.8 1039.6L687.5 1037.3L688.3 1037.8L689 1040.7L689.8 1038.4L690.5 1038L691.3 1035.8L692 1038.3L692.8 1039L693.5 1037.7L694.3 1040.6L695 1037.7L695.8 1040.6L697.3 1038.4L698.8 1041L699.5 1040.2L700.3 1037.7L701 1040.4L701.8 1039.1L702.5 1040.5L703.3 1040.6L704 1039.4L704.8 1041.4L705.5 1038.9L706.3 1041.1L707 1039.2L707.8 1040.6L709.3 1039.1L710 1041.5L710.8 1038.1L711.5 1041.1L712.3 1039.5L713.8 1040L714.5 1039.2L715.3 1040.6L716.8 1037.4L717.5 1040L718.3 1038.3L719 1041.4L719.8 1040L720.5 1040.1L721.3 1038.7L722 1041.2L722.8 1039.2L724.3 1038.5L725 1039.2L725.8 1042.2L726.5 1040.9L728 1039.5L728.8 1039.9L729.5 1041.8L730.3 1040.6L731 1040.3L731.8 1041.9L732.5 1039.8L733.3 1040.1L734 1037.9L734.8 1039L735.5 1038.9L737 1039.5L737.8 1037.8L738.5 1038.3L739.3 1037.8L740 1034.6L741.5 1031.6L742.3 1027.2L743 1029L743.8 1027L744.5 1029.7L745.3 1029.8L746 1034.9L746.8 1036.5L747.5 1037.1L748.3 1037.2L749 1039.5L749.8 1037.5L750.5 1040.5L752.8 1041.5L753.5 1039.9L755 1041.2L755.8 1041L756.5 1039.3L757.3 1040.2L758 1039.9L758.8 1040.9L759.5 1040.7L760.3 1041.7L761 1041.5L761.8 1042L762.5 1039.9L763.3 1042.4L764 1041.7L764.8 1043.3L765.5 1041.4L766.3 1038L767 1043.9L767.8 1039.4L768.5 1040.8L769.3 1040.4L770 1040.5L770.8 1042.7L773 1040.3L775.3 1041.3L776 1040.7L776.8 1037.6L777.5 1041.2L778.3 1040.8L779 1039.8L779.8 1041.5L780.5 1041.8L781.3 1040.5L782 1043.4L782.8 1039.7L783.5 1040.8L784.3 1041.2L785 1041.1L785.8 1042.3L786.5 1040.1L787.3 1039.7L788 1043.1L788.8 1040.8L789.5 1041.4L791 1042.1L791.8 1041.5L792.5 1039.7L794.8 1041.6L795.5 1042.7L796.3 1039.7L797 1041.3L797.8 1041.1L798.5 1041.2L799.3 1038.4L800.8 1040.5L801.5 1039.8L803 1040.4L803.8 1041.4L804.5 1039.1L805.3 1039.1L806 1039.6L806.8 1041.7L807.5 1039.5L808.3 1042.1L809.8 1041L810.5 1039.3L811.3 1040.8L812.8 1040.3L813.5 1039.1L814.3 1039.9L815 1039.7L815.8 1040L816.5 1041L818 1038.9L818.8 1042.8L819.5 1041.5L820.3 1043.2L821.8 1040.2"/>
<path stroke="#857410" stroke-width="3.10" d="M55.8 978.8L56 976.3L56.8 976.9L58.3 969.4L59.8 981.4L60.5 979.3L61.3 982.2L62 976.6L62.8 978.8L63.5 977L64.3 972.2L65 977.2L65.8 975.4L66.5 981.7L67.3 976.6L68 977.5L69.5 982.4L70.3 977.1L71 977L71.8 978.5L72.5 982.8L73.3 972.9L74 972L74.8 989L75.5 976.9L76.3 978.1L77 967L77.8 975.3L78.5 976.9L79.3 974.5L80 975.3L80.8 976.6L82.3 982.2L83 971.2L83.8 971L84.5 980.2L85.3 978.3L86 973.1L86.8 970.3L89 980.4L89.8 982.4L90.5 981L91.3 969.5L92 986.2L93.5 976.6L94.3 976.4L95 981.9L95.8 975L96.5 975.5L97.3 977.6L98 984.4L98.8 969.8L99.5 984.5L100.3 966.4L102.5 981.8L103.3 970.2L104 981.6L104.8 985.6L105.5 974.3L106.3 975L107 974.9L107.8 966.7L108.5 987.8L110 969.4L110.8 978.9L111.5 978.2L112.3 974.8L113 976.2L113.8 980.1L114.5 972.6L115.3 969.8L116 983.2L117.5 971.1L118.3 980.7L119 960.1L119.8 964.4L120.5 971.4L122 963.1L123.3 942.9L123.8 923.9L124.5 844.5L126.3 271.2L126.5 222.9L126.8 217.5L128.6 780.2L129.6 923.3L131.1 968.1L131.8 962.7L132.6 970L133.3 970.1L134.1 966.7L134.8 967.1L135.6 975L136.3 976.9L137.1 971.3L137.8 982.9L138.6 974.8L139.3 979L140.1 976.7L140.8 979.9L141.6 967.8L142.3 982.7L143.1 981.7L143.8 979.6L144.6 981.9L145.3 980.4L146.1 968.7L146.8 973.1L147.6 970.2L148.3 973.1L149.8 982.9L150.6 968.6L151.3 969.9L152.1 975.6L152.8 979L154.3 972.6L155.1 977.2L155.8 976.8L156.6 971.5L157.3 983.7L158.1 967.7L158.8 974.8L159.6 974.4L161.1 978.7L161.8 971.3L162.6 972.7L163.3 975.5L164.1 979.7L164.8 968L165.6 972.9L166.3 968.6L167.1 958.2L167.6 960.3L167.8 960.4L168.8 924.6L169.3 894.1L170.6 741.5L171.3 686.8L173.3 849.4L174.1 875.9L175.3 902.9L176.1 900.1L176.8 911.7L177.6 911.4L178.3 919.2L179.1 923.1L179.8 911.9L181.3 927L182.1 930L182.8 925.1L183.6 934.8L184.3 938.2L185.1 933.5L185.8 930.8L188.3 880.6L189.6 892L190.3 913.3L190.6 913.2L191.1 911.7L191.8 921.7L192.6 924.4L193.3 920.4L194.8 932.2L195.6 934.4L196.3 934.5L197.8 943.8L198.6 946.4L199.3 933.5L200.1 942.2L200.8 946L201.6 937.7L202.3 950.3L203.1 955.2L204.6 937.6L206.1 959.3L206.8 964L207.6 957L208.3 956.1L209.1 953L209.8 960.4L210.6 954.8L212.1 963.8L213.6 955.8L214.3 962.1L215.1 965.9L215.8 966.5L216.6 954.7L217.3 963.9L218.1 964.3L219.6 958.1L220.3 960L221.1 959.8L221.8 972.4L222.6 964.9L223.3 962.9L224.8 970.1L225.6 964.2L226.3 968.1L227.1 967.5L227.8 962.8L228.6 971.4L229.3 966.1L230.1 969.7L230.8 970.8L231.6 963.1L232.3 961.6L233.1 962.4L233.8 973.5L234.6 965.1L235.3 963.3L236.1 974.8L236.8 961.8L237.6 972.4L238.3 961.7L239.1 965.7L239.8 964.5L240.6 965.4L241.3 967.5L242.1 966.3L242.8 957.3L243.6 955.8L244.1 955.9L244.3 955.5L245.1 952.5L245.8 942.6L246.1 942L247.3 944.5L248.1 959.5L248.8 961.1L249.6 958.1L250.3 964.2L251.1 974.8L251.8 968.8L252.6 969.4L253.3 975.6L254.1 965.5L254.8 971.5L255.6 972.2L256.3 970L257.1 971.5L257.8 971.8L258.6 973.7L259.3 972.3L260.1 975.9L260.8 976.4L261.6 973.2L262.3 972.2L263.1 964.4L263.8 977.2L264.6 974.2L265.3 974.2L266.1 977.5L266.8 970.9L267.6 970.6L268.3 977.2L269.1 964.6L269.8 976.6L270.6 974.2L271.3 968L272.1 969.9L272.8 977.4L273.6 970.3L274.3 976.4L275.8 973.4L277.3 972.8L278.1 970.8L279.6 976.8L280.3 965.5L281.1 979L281.8 982.2L282.6 967.4L283.3 980.6L284.1 974.1L284.8 976.6L286.3 969.5L287.1 976.3L287.8 974.4L288.6 975.6L289.3 970L290.8 977.7L291.6 967.9L292.3 975.3L293.1 967.6L293.8 977.5L294.6 982.2L295.3 968.7L296.1 973.5L296.8 976.3L297.6 970.3L298.3 977.7L299.8 973.1L300.6 978.2L301.3 974.8L302.1 982.2L303.6 975.4L304.3 975.4L305.1 969.9L305.8 971.4L306.6 970.4L307.3 975.5L308.1 975.1L308.8 969L309.6 974.4L311.1 970.8L311.8 975.3L312.6 972.1L313.3 970.5L314.1 971L314.8 973.9L315.6 967.9L317.1 974L317.8 975.9L318.6 973.5L319.3 972.2L320.1 967.4L320.8 976.7L321.6 970L322.3 969.1L323.1 976.3L323.8 970.1L324.6 966.8L325.3 973.8L326.1 975.4L326.8 974.3L327.6 966.6L328.3 973.9L329.1 971.4L329.8 971.2L330.6 974.9L331.3 975.4L332.1 967.6L332.8 976.5L333.6 972.3L334.3 972.5L335.1 970.2L336.6 976.1L338.1 968L338.8 981.8L339.6 977.4L340.3 975.8L341.1 978.8L341.8 971L342.6 972L343.3 970.2L344.1 973.9L344.8 982.2L345.6 980.1L346.3 971.8L347.1 979.5L347.8 977.8L348.6 979.5L349.3 971.9L350.1 974.5L350.8 970.6L352.3 977.5L353.1 973.6L353.8 974.1L354.6 977.6L355.3 972.8L356.1 970.2L356.8 976.7L357.6 967.4L358.3 979L359.1 970.5L359.8 972.3L360.6 969.2L361.3 979L362.1 979.2L362.8 975.2L363.6 976L364.3 979.6L365.8 969.5L367.3 972.2L368.1 966.4L368.8 972.7L369.6 972.4L370.3 975.6L371.1 973.7L371.8 978.9L372.6 971.8L374.1 977.1L374.8 973.5L375.6 974.7L376.3 967.8L377.1 974.5L377.8 973L378.6 977.9L379.3 973.7L380.1 975.1L380.8 980.2L381.6 969.8L382.3 974.9L383.1 970.1L383.8 972.7L384.6 973.8L385.3 971.4L386.1 977.4L386.8 970.6L387.6 973.5L388.3 974.9L389.1 974.2L389.8 976L390.6 972.1L391.3 979.1L392.1 976.5L392.8 976.8L393.6 976.3L394.3 974.4L395.8 976.6L396.6 979.1L397.3 977.3L398.1 973.6L398.8 976.5L399.6 971.3L400.3 975.9L401.1 974.1L401.8 974.7L402.6 974.5L403.3 971.4L404.1 973.1L406.3 976.2L407.8 972.6L408.6 979L409.3 970.6L410.1 982.8L412.3 973.8L413.1 974.5L413.8 971.9L414.6 979.2L415.3 977.7L416.1 973.6L416.8 975L417.6 975L418.3 973.6L419.1 976.3L419.8 974.1L420.6 978.4L421.3 976.2L422.1 971.9L423.6 980.4L424.3 976.1L425.8 971.3L426.6 973.4L427.3 977L428.1 976L428.8 969.5L429.6 976.8L430.3 970.4L431.1 975.3L431.8 974.9L432.6 975.5L433.3 974.9L434.1 972.5L434.8 972.7L435.6 976.3L436.3 974.7L437.1 979L437.8 974.7L438.6 978.2L440.1 973.7L440.8 980.6L441.6 971.3L442.3 972.7L443.1 977.7L443.8 978.8L444.6 975.8L445.3 974L446.1 974.4L446.8 978.9L447.6 968.6L448.3 968.3L449.1 972.4L449.8 970.6L450.6 972.8L451.3 973.6L452.1 972.4L452.8 974.5L453.6 974L454.3 972.8L455.1 973.7L455.8 973.9L456.6 972.3L457.3 979L458.1 976.3L458.8 969.2L459.6 980.2L461.1 972.6L461.8 974.5L462.6 970.1L463.3 972L464.1 971.9L465.6 982.3L466.3 977.2L467.1 975.8L467.8 974.9L468.6 977.6L469.3 976.9L470.1 971.2L470.8 971.3L471.6 973L472.3 977.1L473.1 973.9L473.8 966.4L474.6 975.7L475.3 979.8L476.8 971.8L477.6 975.3L478.3 976.3L479.8 971.7L480.6 966.5L481.3 975.4L482.1 966.9L482.8 970.6L483.3 963L484.1 946.8L484.8 919.6L485.8 810.6L486.3 777.7L486.6 776.4L487.1 801.2L488.3 923L489.3 958.4L490.3 973.8L491.1 967.8L492.6 972.3L493.3 967.2L494.1 972.1L494.8 968.3L495.6 973.6L496.3 969.5L497.1 962.3L497.8 963.4L498.6 958.5L498.8 958.9L499.1 958.5L499.3 956.9L499.8 938L500.8 862.7L502.1 671.8L502.6 645.3L504.8 914.2L505.3 942L506.8 971.6L507.6 967.1L508.3 970.8L509.1 968.6L509.8 973.1L510.6 973.4L511.3 970.8L512 974.4L512.8 971.2L513.5 969.7L514.3 977.3L515.8 973.1L516.5 967.9L517.3 978.2L518 971.1L518.8 969.7L519.5 969.7L520 968.5L520.8 957.7L522.3 907.5L522.8 896L523 894.9L523.5 903.5L525 956.1L525.8 968.1L526.3 969.6L527 968.8L527.8 972.4L528.5 968.4L529.3 971.1L530 971.1L530.8 970.6L531.5 971L532.3 966L533 967L533.8 956.2L534.5 951.7L535.8 912.7L538 780.3L538.5 761.7L538.8 757.3L539 757.1L539.8 775.2L541.5 884.4L542.8 937L544.3 963.6L545 967.9L545.8 968.1L546.5 971.9L547.3 971L548 974L548.8 967.1L550.3 971.9L551 976L551.8 976.6L552.5 973.7L553.3 973.3L554 977.4L555.5 971.4L557 976.4L557.8 975.6L558.5 978.9L559.3 974.7L560 978.8L560.8 973.2L561.5 975.8L562.3 974.9L563 977.6L563.8 971.1L564.5 977.8L565.3 975.2L566 976.7L566.8 980.6L567.5 972.1L568.3 978.7L569 975.3L569.8 973.6L570.5 976.6L571.3 973.4L572 973.9L572.8 980L573.5 977.1L574.3 976.3L575 978.4L575.8 971.9L576.5 975.3L577.3 973.3L578 976.9L578.8 976.8L579.5 972.9L580.3 978.4L581 980.7L581.8 973.5L582.5 977.3L583.3 976.7L584 973.5L584.8 976.2L586.3 973.6L587 977.4L587.8 978.6L588.5 971.7L589.3 972L590 975.5L590.8 972.2L591.5 979.3L592.3 974L593 978.8L593.8 974.4L595.3 976.2L596 979.3L596.8 977.7L597.5 972.4L598.3 975.4L599 975.6L599.8 976.4L600.5 980.7L602 974.3L602.8 974.7L603.5 975.7L604.3 973.3L605 974.9L605.8 973.8L606.5 977.2L607.3 973.7L608 983L608.8 975.1L609.5 971.7L610.3 975.2L611 974.5L611.8 972.7L612.5 977.2L613.3 974.2L614 975.9L614.8 975.4L615.5 975.3L616.3 973.1L617 972.8L617.8 969.8L618.5 976.5L619.3 976.8L620 974.2L620.8 975.6L621.5 972.9L622.3 975.7L623.8 971.7L625.3 973.6L626 973.6L626.8 978.8L627.5 968.7L628.3 975L629 974.3L629.8 969.1L631.3 977.8L632 970.6L632.8 970.5L633.5 968.6L634.3 972.9L635 971.5L635.8 973.4L636.5 974.1L637.3 968.5L638 969.9L638.8 968.3L639.5 970.9L640.3 965.2L641 968.6L641.8 969.8L642.5 968.4L643.3 963.5L644 962.4L644.8 962.8L645.5 960.1L646.3 959.2L647 956.4L647.8 951.7L648.5 955.4L649.3 954.7L650.8 941.6L651.5 941L653.8 913.3L655.3 884.4L655.8 868.4L657 800.8L657.8 733.2L660.3 333.7L660.8 295.5L661 297.7L661.3 312.7L663.3 526.1L664 545.1L664.3 544.2L665 531.7L665.3 532.8L665.8 552.7L667.8 763.2L669.3 867L670.3 901.4L671 910.7L672.3 934.7L673 940.7L673.3 941.7L674 942.4L674.8 949.2L675.5 952.6L676.3 954.5L677 955.2L677.8 959.9L678.5 960.7L680 966.6L680.8 964.5L681.5 966.5L682.3 965.7L683 970.9L683.8 972.2L684.5 969.6L685.3 970.7L686 965.2L687.5 971.6L688.3 971.2L689 972.6L689.8 971.1L690.5 976.3L692 970.7L692.8 976.1L693.5 974.2L694.3 974.8L695 973.9L696.5 977.6L697.3 973.6L698 979.6L698.8 976.9L699.5 975.4L700.3 969.7L701 974.1L701.8 974.4L702.5 975.4L703.3 974.6L704 975.5L704.8 974.4L705.5 979L706.3 973.9L707 975L707.8 974.2L708.5 974.1L709.3 978.4L710 976.1L710.8 980.7L711.5 976.4L713 978.3L713.8 971.5L714.5 978.3L715.3 974.6L716 974.8L716.8 977L717.5 974.4L718.3 976.4L719 976.6L720.5 978.3L721.3 981.7L722 978.8L722.8 973.5L723.5 973.4L725 977.5L725.8 976.8L726.5 974.3L727.3 978.5L728.8 974.5L729.5 978.3L730.3 975.4L731 979.2L731.8 973.5L733.3 978.4L734 979.5L734.8 976.3L735.5 979.6L736.3 977.2L737 978.9L737.8 977L738.5 973.3L739.3 975.9L740 973.3L740.8 972.6L741.5 970.5L742.3 976.7L743 974.4L743.8 973.6L744.5 976.3L745.3 971.5L746 970.6L746.8 963.8L747.5 964.7L748.3 960.4L749 959.8L750.5 951.4L751.3 960.1L752 961L752.8 966.5L753.5 967.3L754.3 972.3L755 972.7L755.8 975.2L756.5 975.3L757.3 978.9L758 980.6L758.8 978.3L759.5 979.7L760.3 971.3L761 979.4L761.8 974.8L762.5 976.4L763.3 976.9L764 978.2L764.8 973.5L765.5 974.1L766.3 978.3L767 977.5L767.8 980.3L769.3 978.5L770 976.9L770.8 980.8L771.5 979.3L772.3 979.1L773 972.3L773.8 974.8L774.5 979.6L775.3 975.3L776 978L777.5 978.2L778.3 978.8L779 976L779.8 974.6L780.5 974.9L781.3 977.8L782 978.9L782.8 977L783.5 973L784.3 974.7L785 977.7L785.8 972.6L786.5 977.4L787.3 978.8L788 978.1L788.8 975.9L789.5 981.3L791 977.6L791.8 972.8L792.5 979.8L793.3 982.6L794 980.7L794.8 976.4L795.5 978.3L796.3 974.1L797 975.9L797.8 981.1L798.5 976.4L800 979.4L801.5 974.3L802.3 976.8L803 977.6L803.8 979.3L804.5 976.6L805.3 977.4L806.8 982.7L807.5 976.5L808.3 972.8L809 979L809.8 975.5L810.5 976.2L811.3 981.3L812 979.8L813.5 982.6L814.3 979.2L815.8 975.5L816.5 982.2L817.3 978.3L819.5 979.7L821.8 974.9"/>
<path stroke="#686a0e" stroke-width="3.10" d="M55.8 923.6L56 926L56.8 919.4L57.5 918.9L58.3 926.4L59 925.1L60.5 914.4L61.3 915.4L62 922.4L62.8 922.4L63.5 916.2L64.3 925L65.8 919.1L67.3 921.5L68 918.9L68.8 924.3L69.5 920.3L70.3 920.3L71 923.9L71.8 922.3L72.5 913.5L73.3 920.8L74 917.3L74.8 921.4L75.5 922.2L76.3 916.2L77 924L77.8 926.7L79.3 917L80 920.2L80.8 921.7L82.3 922.6L83 917.2L83.8 919.1L85.3 927.8L86 921.7L86.8 920.7L87.5 922.8L88.3 926.3L89.8 913.4L90.5 918.9L91.3 918.3L92 917.1L92.8 913.8L93.5 917.3L94.3 927.6L95 922.9L95.8 921.2L96.5 916.1L98 921.5L98.8 919.7L99.5 919.3L100.3 925.7L101 924.8L101.8 921.9L102.5 914.9L103.3 920.4L104 916.3L107 923L107.8 912.7L108.5 921.9L109.3 917.5L110 919.2L110.8 916.2L111.5 924.3L112.3 918.9L113 922.8L113.8 915.9L114.5 921.7L116 915.1L116.8 916.8L118.3 913.7L119 920.1L121.3 906.3L122 912.4L123.3 900.9L124.5 873.2L125.3 807.5L127 248.5L127.5 180.5L128.1 279.3L129.3 721.2L130.1 843.2L130.8 884.3L131.3 895.6L132.3 908L132.6 910.4L133.6 912.2L134.1 912.6L134.8 910.9L135.6 915.9L136.3 918.1L137.8 920.9L138.6 916.1L139.3 915.5L140.1 921.1L140.8 916.5L141.6 920L142.3 918.4L143.1 913.7L143.8 918.4L146.1 917.2L146.8 914.6L147.6 917L148.3 917.2L149.1 921.8L149.8 918L150.6 919.5L151.3 924L152.1 913L152.8 923.5L153.6 919.5L155.1 915L155.8 922.1L158.1 915.3L158.8 921.8L159.6 923.3L160.3 915.7L161.1 918.2L162.6 920.6L163.3 916.5L164.1 923.5L164.8 916.8L167.1 910.7L167.8 914.1L168.6 908L169.1 900.2L169.8 876.6L171.6 739.5L172.1 722.4L174.6 843.7L175.3 857.1L176.8 864.5L177.6 873.6L178.3 869.1L179.8 879.4L180.6 873.2L181.3 870.9L182.1 863.5L183.6 869.9L184.3 878.3L185.1 871.6L185.8 880.5L187.3 860.9L187.8 858L188.1 858L188.3 857L188.8 857.1L190.3 879L191.1 872.7L191.8 883.3L192.6 886.2L193.3 893.4L194.1 895.8L194.8 902.6L195.6 894.8L196.3 904L197.1 900.8L197.8 904.6L198.6 904.1L199.3 907.3L200.1 904L200.8 910L201.6 910L202.3 902.3L203.1 907.6L203.8 910.5L204.6 907.3L205.3 907.6L206.1 909.5L206.8 912.6L207.6 913.4L208.3 910.2L209.1 914.3L209.8 908L210.6 919.4L211.3 912.9L212.1 918.1L212.8 913L213.6 913.9L214.3 916.2L215.1 916L215.8 911.2L216.6 914L217.3 915.1L218.1 914.6L218.8 914.7L219.6 914.5L220.3 914.8L221.1 917.2L221.8 915.6L222.6 915.2L223.3 913.8L224.1 919.1L224.8 915.3L225.6 920L227.1 912.2L227.8 915.4L229.3 915.2L230.1 915.7L230.8 915.5L231.6 920.5L232.3 913.5L233.1 913.1L233.8 913L234.6 918.7L235.3 914.9L236.1 915.8L236.8 918.7L238.3 911.6L239.1 915.9L240.6 919.9L241.3 918L242.1 914L243.6 912.2L244.3 909.4L245.1 912.4L245.8 906.6L247.3 903.4L248.1 903.7L249.6 911.8L250.3 909.2L251.1 912.7L251.8 913.3L253.3 917.6L254.8 925.8L257.1 919.1L257.8 923.4L258.6 918.3L259.3 917.2L260.1 923.5L260.8 917.4L261.6 923.2L262.3 920.6L263.1 922.9L263.8 916.7L264.6 922L265.3 921.9L266.1 922.3L266.8 917.4L267.6 919.7L268.3 916.8L269.1 924.2L269.8 920.4L270.6 920.2L271.3 924L272.1 919.5L272.8 920.9L273.6 919.7L274.3 922.3L275.1 913L275.8 923.3L277.3 918.3L278.1 923.5L278.8 926L279.6 919L280.3 920.9L281.1 921L281.8 922.4L282.6 917.3L283.3 920.7L284.1 918.1L284.8 921.6L285.6 918.6L286.3 919.7L287.8 919.5L288.6 920.9L289.3 921L290.1 917.7L290.8 919.4L291.6 920.4L293.1 924L293.8 920.3L295.3 924.2L296.8 920.3L297.6 920.4L298.3 918.8L299.1 925L300.6 920.4L301.3 920.6L302.1 924.1L302.8 923.3L304.3 923.2L305.1 919.8L305.8 919.7L306.6 921.8L307.3 920L308.1 921.6L308.8 920L309.6 920.6L310.3 923.2L311.1 919.5L311.8 919.8L312.6 924.6L313.3 918.1L314.1 921.7L315.6 920.1L316.3 924.7L317.8 916.2L318.6 923.5L319.3 925.4L320.1 917.5L320.8 921.7L321.6 921.1L322.3 921.4L323.1 922.7L323.8 921.6L324.6 921.8L325.3 917.3L326.1 918L326.8 922.6L327.6 921.4L329.1 922.7L329.8 917.5L330.6 917.3L331.3 919.1L332.1 922.3L332.8 921.4L333.6 918.3L334.3 920.3L335.1 920.8L335.8 920.2L336.6 920.7L337.3 923.7L338.1 920.8L338.8 921.2L339.6 918.9L340.3 924.7L341.1 921.9L341.8 920.7L342.6 921.1L343.3 922.9L344.1 919.2L344.8 923.4L345.6 918.1L346.3 918L347.1 919.1L347.8 917.5L348.6 921.8L349.3 920.3L350.1 921.5L350.8 923.9L351.6 918.7L352.3 923.3L353.1 919.9L353.8 922.7L354.6 923.2L355.3 920.4L356.1 922.4L356.8 920.3L357.6 924.2L358.3 919.3L359.1 921.3L359.8 917.7L360.6 919.2L361.3 921.9L362.1 922.2L362.8 922L363.6 925.7L365.1 918.4L366.6 922.6L367.3 919.2L368.1 918.3L368.8 923.8L369.6 921.3L370.3 916.8L371.1 920.6L371.8 921.7L374.1 921.7L374.8 919.8L375.6 920.3L376.3 922.3L377.1 920.4L377.8 923.4L378.6 919L379.3 921.2L380.1 921.9L381.6 921.4L382.3 920.2L383.1 919.9L383.8 918L386.1 924.4L386.8 918.6L387.6 917.8L388.3 925.6L389.1 918.3L389.8 925.9L390.6 923L391.3 923.1L392.1 920.2L392.8 921.3L393.6 921.8L394.3 919L395.1 924L395.8 916.6L396.6 919.9L397.3 918.8L398.8 922.6L399.6 919.2L400.3 922.1L401.1 917.5L401.8 924.4L402.6 920.2L403.3 923.1L404.1 921.1L404.8 920.9L405.6 921.9L406.3 921.2L407.8 925L408.6 918L409.3 915.7L410.1 923L410.8 917.2L411.6 924.3L412.3 924.5L413.1 923.6L413.8 923.4L414.6 920.5L415.3 921.4L416.1 920.1L416.8 923.6L417.6 925.6L419.1 920.3L419.8 921.9L420.6 916.4L421.3 920.9L422.1 923.5L422.8 921.5L424.3 923.3L425.1 922.9L426.6 921.1L427.3 923.8L428.1 919.5L429.6 922.6L430.3 922.5L431.1 923.6L431.8 918.5L432.6 919.1L433.3 921.7L434.1 918.2L434.8 922.9L435.6 922.2L436.3 922.6L437.1 919.5L437.8 921.2L438.6 920.2L439.3 917.9L440.1 919.4L440.8 922.8L441.6 920.7L442.3 919.7L443.1 920.7L443.8 924L444.6 920.3L446.1 922L446.8 916.9L447.6 919.4L448.3 919.8L449.1 922L449.8 920.1L450.6 920.5L451.3 918.2L452.1 918.1L452.8 923.5L453.6 921.1L454.3 923.6L455.1 918.8L456.6 922.4L457.3 920L458.1 920.6L458.8 917.5L459.6 916.1L460.3 918.3L461.1 916.9L461.8 917.5L462.6 920.6L463.3 919.8L464.1 922.5L464.8 923L467.1 919.8L467.8 921.8L468.6 917.5L469.3 918.5L470.1 922.5L470.8 919.4L471.6 922L473.1 920.6L473.8 921.7L475.3 918.2L476.1 918.9L476.8 921.8L477.6 916.9L478.3 922.1L479.1 918.6L480.6 919.4L481.3 919.2L482.1 913.7L482.8 913.9L483.8 904.7L484.3 895.2L485.1 855.8L486.3 735.5L486.6 722.3L486.8 720.8L488.3 849.2L489.6 904.8L490.1 910.5L491.1 916.3L491.8 917.4L492.6 916.3L493.3 917.3L494.1 917.6L494.8 919.4L495.6 917.1L496.3 920.3L497.1 919.3L497.8 914.5L498.6 914.3L499.3 912.6L500.1 912.4L501.1 908.2L501.8 901L502.3 887.9L503.3 814.8L504.6 644.2L505.1 621.8L505.6 658.2L506.8 827.3L507.6 880.7L508.3 905.3L508.8 908.3L509.8 910.5L511.3 916.2L512.8 913.3L513.5 919.8L514.3 921.2L515 921.3L515.8 917.5L516.5 919.9L517.3 919.9L518 920.4L518.8 918.4L519.5 918L520.3 918.9L521.8 915.1L522.3 915.7L522.8 915.4L523 914.6L523.5 906.1L525 857.8L525.5 850.4L527.3 899.5L528.5 914.2L528.8 914.3L529.3 913.5L530 918.2L530.8 916.9L531.5 918.9L532.3 917.6L533 917.6L533.8 915.1L534.5 914.6L535.3 916L537 895.7L537.5 886.2L539.8 756.6L540.5 733.2L540.8 733.8L541.3 748.9L542.8 843.9L543.8 886.8L544.8 906.5L545 908.7L545.3 909.6L545.8 910.2L546.5 916.8L547.3 913.7L548 918.1L548.8 917.1L550.3 920.4L551 917.4L551.8 918.7L552.5 919L553.3 915.6L554 916.9L554.8 919.8L555.5 920.4L556.3 919.1L557 916.5L557.8 920L558.5 921.5L559.3 919.5L560.8 919.3L561.5 919.6L562.3 917.2L563 918.8L564.5 918.6L565.3 919.3L566 921.6L566.8 920.4L567.5 920.2L568.3 918.5L569 920.6L570.5 919.5L571.3 920.7L572 920L572.8 920.8L573.5 917.6L574.3 918.7L575 921.1L575.8 922.4L576.5 920.3L577.3 919.8L578 919.7L578.8 920.4L579.5 922.6L581 917.7L582.5 919.6L583.3 921.6L584 919.1L584.8 917.9L585.5 920.5L586.3 919.1L587 918.4L587.8 922.2L588.5 921.2L589.3 923.4L590 924L591.5 919.6L592.3 920.6L593 918.7L593.8 920.8L594.5 921.5L595.3 919.3L596 919.4L596.8 918.3L597.5 919.9L598.3 919.8L599 923L599.8 919.4L600.5 923.2L601.3 919L602 919.3L602.8 919.1L603.5 920.2L604.3 917.6L605 922.3L605.8 921.3L606.5 919.1L607.3 919.6L608 921.8L608.8 919.8L609.5 921.5L610.3 919.7L611 920.1L611.8 918.6L613.3 920.8L614 920.1L614.8 917.5L615.5 921.2L616.3 918.6L617 917.1L617.8 919.4L618.5 919.6L619.3 921.7L620.8 918.9L621.5 918.3L622.3 919L624.5 918.8L625.3 918.4L626 919.3L626.8 917.1L627.5 917.2L629 919.3L629.8 917.1L631.3 916.8L632 918.2L632.8 918.2L633.5 917.7L634.3 913.7L635.8 916.8L636.5 916L637.3 913.9L638 918.3L638.8 911.9L639.5 915.8L640.3 913.2L641 915.5L641.8 913.2L642.5 913.7L643.3 910.3L644 909.9L644.8 910.4L645.5 911.6L646.3 908L647 907.6L648.5 903.6L650 902.7L650.8 897.2L651.5 896.2L654 881L655.3 869.4L656.5 849.7L657.8 817L659 754L659.8 689.1L662.3 311.8L662.8 271.8L663 271.7L665 437.9L665.5 452.3L665.8 453.8L666.3 453.1L666.8 459.8L667.3 486.8L669.5 726.7L671 816.7L672.5 856.1L673.8 874.1L676.3 892.7L677 894.9L677.8 899.2L678.5 899.7L679.3 903L680 903.4L680.8 905L681.5 910.6L682.3 909.1L683 909.2L683.8 911.1L684.5 910.4L685.3 912.5L686 913.3L686.8 911.5L687.5 913.1L688.3 913.5L689 912.9L689.8 913.3L690.5 913.2L691.3 916.7L692 913.6L692.8 919L693.5 918.8L694.3 917.2L695 918.6L695.8 916.1L696.5 915L697.3 917.4L698 918.5L698.8 914.8L699.5 917.3L700.3 916.5L701 920.9L701.8 916.6L702.5 919L703.3 919.2L704 921.4L705.5 918.2L706.3 921.3L707 918.9L707.8 918.1L708.5 915.7L709.3 921.5L710.8 917.9L711.5 919.8L712.3 920.3L713 919.1L713.8 922.5L714.5 919.3L715.3 919L716 918.1L716.8 919.8L717.5 920.7L718.3 917.8L719 918.6L719.8 917.4L720.5 921.6L721.3 921.3L722 918.5L722.8 918.4L723.5 921L724.3 919.3L725 920.3L725.8 923L726.5 920L727.3 919.9L728 918.6L728.8 920L729.5 918.6L730.3 921.6L731 919L731.8 921.5L732.5 921.9L733.3 921L734 924.7L734.8 918.1L735.5 920L736.3 917.9L737 919.6L737.8 918.1L738.5 919L739.3 917.4L740 918L740.8 923L741.5 919.1L742.3 918.6L743 920.4L744.5 918.5L745.3 918.4L746 920.2L747.5 913.9L748.3 912.6L749 909.2L749.8 908.2L750.5 903.6L751.3 902.5L752 904.7L752.8 902.6L753.5 906.4L754.3 908.2L755 914.6L755.8 914.4L757.3 916.2L758 916.2L758.8 918.1L759.5 917.8L760.3 919.8L761 918.9L761.8 919.3L762.5 921.2L763.3 918.7L764 922.1L765.5 920.1L766.3 920.8L767 920.1L767.8 919.8L768.5 920.6L769.3 922.3L770 921.1L770.8 922.3L772.3 919L773.8 922.4L774.5 919.7L775.3 919.8L776 922.2L776.8 923.5L777.5 921.2L778.3 920.4L779 922.5L779.8 923.4L780.5 922.1L781.3 919.9L782 919.4L782.8 920.2L783.5 920.3L784.3 920L785 921.1L785.8 919.4L786.5 920.1L787.3 920.1L788 921L789.5 918.3L790.3 919.5L791 922.3L791.8 919.2L792.5 920.5L793.3 924L794 923.2L794.8 924L795.5 918.7L796.3 922.3L797.8 921.5L798.5 918.6L799.3 921.8L800 919.2L800.8 923.5L801.5 918.8L802.3 920L803.8 921.1L804.5 923.1L805.3 918.5L806.8 921.8L807.5 919.2L808.3 920.5L809 919.3L809.8 921.5L811.3 919.4L812 919.9L812.8 919.5L813.5 922.2L815 919.3L815.8 919.3L816.5 921L818.8 920.4L819.5 919.2L820.3 923.4L821 922.2L821.8 919.5"/>
<path stroke="#578531" stroke-width="3.10" d="M55.8 853.7L57.5 868.3L58.3 856.3L59 862.3L59.8 855.1L61.3 868.3L62 865.1L62.8 850.6L63.5 852.2L64.3 850.7L65 855.6L65.8 851.2L66.5 868.1L67.3 859.1L68 868.2L68.8 858.2L69.5 859.1L70.3 857.6L71 859.9L71.8 860.6L72.5 860L73.3 855.4L74 852.7L74.8 859L75.5 862.8L76.3 861.2L77 853L77.8 863.1L79.3 849.7L80 858.2L80.8 851L81.5 864.2L83 854L83.8 855.4L84.5 857.8L85.3 854.5L86 854L86.8 867.4L87.5 855.8L88.3 853.7L89 848.3L89.8 860.6L90.5 859.9L91.3 861.1L92 853.5L92.8 865.2L93.5 853.1L94.3 852.7L95 857.3L95.8 856.8L97.3 867.9L98 859.4L98.8 865.6L99.5 862L100.3 854.1L101 850.1L101.8 856.9L102.5 851.9L103.3 853.6L104 858.7L104.8 855.2L105.5 861.7L106.3 847.6L107 851.3L107.8 867.5L108.5 861.6L109.3 858.6L110 860.5L110.8 850.4L111.5 851L112.3 863L113 846.3L113.8 860.3L114.5 845.8L115.3 862.3L116.8 854.5L117.5 857L118.3 856.1L119 849.7L119.8 847L121.3 855.5L122 846L123.5 856.1L124.3 842.8L125 837L126 813.6L126.5 791.3L126.8 759.9L129.1 119.4L129.6 194.6L131.1 696.3L131.8 795.5L132.3 818L133.3 840.5L134.1 846.1L134.8 843.7L135.6 845.7L136.3 850.5L137.1 850.2L137.8 859.9L138.6 863.7L139.3 852.6L140.1 851.3L140.8 859.7L141.6 857.3L142.3 856.1L143.1 855.6L143.8 859.9L144.6 857.5L145.3 857.7L146.1 859.4L146.8 846.8L147.6 857.4L148.3 857.4L149.8 853.8L150.6 849.1L151.3 847.3L152.1 855.2L152.8 849.5L153.6 863L155.1 855.9L155.8 861.4L157.3 855.6L158.1 863.2L158.8 858.3L159.6 857.5L160.3 859.3L161.1 859L161.8 859.7L162.6 855.2L163.3 855.9L164.1 859.4L164.8 857.6L165.6 858.5L166.3 851L167.1 854.7L167.8 852.7L169.3 857.8L170.8 842.8L171.3 828.6L173.1 714L173.6 700.3L175.8 785.9L176.8 803.4L177.3 804.4L177.8 804.7L178.3 804.6L179.8 817L180.6 809.9L182.1 828.7L183.6 821.5L184.3 825.8L185.1 821.8L185.8 829.3L187.6 831.2L188.3 829.7L189.3 823.3L190.3 806.7L190.8 803.3L191.8 815.9L192.3 817L192.6 817L194.1 839.7L194.8 839.7L195.6 839L196.3 835.1L197.1 839.8L197.8 848.7L198.6 842.5L199.3 843.4L200.1 851.2L200.8 855L201.6 849.4L202.3 853L203.1 845.7L203.8 854.1L204.6 848.9L205.3 852.2L206.1 844.5L206.8 852.7L207.6 850.5L208.3 853.2L209.1 849L209.8 846.8L211.3 855.2L212.1 852.1L212.8 851.2L213.6 851.8L214.3 858.2L215.8 847.4L216.6 858.9L217.3 854.3L218.1 856L218.8 849.2L219.6 854.1L220.3 856.3L221.1 858.1L221.8 857L222.6 859.6L224.8 850.2L225.6 860L226.3 857.2L227.1 861.9L227.8 861.9L228.6 853.5L229.3 858.6L230.1 858.6L230.8 859L231.6 852.1L232.3 854.3L233.1 854.2L233.8 859.4L235.3 851.1L236.1 852.1L236.8 854.6L237.6 850.6L238.3 851.7L239.8 858L241.3 854.7L242.1 850.9L242.8 851.2L243.6 848.1L244.3 854.9L245.1 853.4L245.8 850.6L246.6 857.1L247.3 847.6L248.1 849.1L248.8 842.5L249.3 842.7L249.6 843.3L250.3 840.1L251.8 852.2L252.6 844.8L253.3 858.4L254.1 852.7L254.8 856.2L255.6 856.1L256.3 860.9L257.1 859.7L257.8 856L258.6 856.3L259.3 859.3L260.1 856.4L260.8 856L261.6 856.7L262.3 863.1L263.1 853.8L263.8 853.8L264.6 859.2L266.1 853.7L266.8 860L267.6 856L269.1 854.1L269.8 862.4L270.6 857.4L271.3 862.8L272.8 855.9L273.6 862.5L274.3 858.2L275.1 860.7L275.8 854.3L276.6 854.2L277.3 856.8L278.1 854.7L278.8 861L279.6 859.8L280.3 855.1L281.1 858.8L281.8 851.7L282.6 857.2L283.3 858.1L284.1 854.1L284.8 852.1L285.6 857.7L286.3 856.2L287.1 861.9L287.8 854.7L289.3 862L290.1 861.2L291.6 855.9L292.3 857.1L293.1 859.6L293.8 857.7L294.6 858.3L295.3 856.4L296.1 856.7L296.8 862.4L297.6 860.7L298.3 852L299.1 858.9L299.8 860.2L300.6 855.1L301.3 854.7L302.1 856.5L302.8 856.5L303.6 856.9L304.3 855.3L305.1 866.4L305.8 853.2L306.6 859.4L307.3 859.5L308.1 857.9L309.6 861.5L310.3 856.3L311.1 860.4L311.8 860.6L312.6 855.1L313.3 852.2L314.1 857.8L314.8 858.5L315.6 856.1L316.3 857.1L317.1 861.3L317.8 857.3L318.6 859L319.3 856.5L320.1 856.9L320.8 856.5L321.6 857.7L322.3 856L323.1 856.3L323.8 854.1L325.3 854.4L326.8 853.6L327.6 852.6L328.3 853L329.1 858.3L331.3 855.4L332.1 857.6L332.8 856.3L333.6 859.9L335.1 855.6L335.8 855.3L336.6 857.1L337.3 863.2L338.1 857.3L338.8 854.5L340.3 859.5L341.8 860.1L342.6 861.2L343.3 858.8L344.1 858.8L344.8 856.2L345.6 859.4L346.3 858.1L347.1 862.8L347.8 855L348.6 864.2L349.3 856.5L350.1 859.6L350.8 856.7L351.6 861.7L353.1 858.2L353.8 861.8L354.6 858.3L356.1 855.5L356.8 858.6L357.6 858.5L358.3 855.7L359.8 859.3L360.6 856.2L361.3 862.6L362.1 855.6L363.6 858.4L364.3 863.3L365.1 858.8L366.6 853.5L367.3 855.9L368.1 855.6L368.8 860.1L369.6 856.3L370.3 854.3L371.1 857.7L371.8 859L372.6 853.3L375.6 862.1L377.8 856L378.6 860.7L379.3 853.8L380.1 857.4L380.8 859.3L382.3 854.9L383.1 857.4L384.6 854.6L385.3 856.6L386.1 855.7L386.8 863.2L387.6 854.8L388.3 860.6L389.1 852L389.8 861.1L392.1 854.7L392.8 856L393.6 852.5L394.3 858.5L395.1 853.9L395.8 861.6L398.1 858.9L398.8 858.5L399.6 852.8L400.3 857L401.1 858.4L401.8 858.2L402.6 860.7L403.3 860.1L404.1 858.1L404.8 858.8L405.6 860.9L406.3 857.5L407.1 857.2L408.6 854.3L409.3 855.4L410.1 857.4L410.8 854L411.6 855.8L412.3 854.5L413.8 857.9L414.1 857.6L415.3 855.7L416.1 849.3L416.8 850.5L417.6 852.6L418.3 851.5L419.1 859.6L419.8 853.1L420.6 857.8L421.3 853.5L423.6 857.6L424.3 856.1L425.1 862L425.8 859.3L426.6 861.6L427.3 852.8L428.1 859.2L428.8 862.4L429.6 860.8L430.3 855.4L431.8 855.1L432.6 859.3L433.3 854.8L434.1 856.1L434.8 859.4L435.6 855.8L436.3 856.4L437.1 855.1L437.8 860.9L438.6 856L439.3 858.7L440.1 856.8L440.8 858.8L441.6 859.1L442.3 857.4L443.1 858L443.8 854.7L444.6 858L445.3 857.6L446.1 858.5L446.8 852.5L447.6 858.1L448.3 856.6L449.1 853.3L450.6 858.5L451.3 859.4L452.1 861.2L452.8 855.6L453.6 855.3L454.3 856.4L455.1 861.5L456.6 855.5L457.3 858.8L458.1 857.9L458.8 858.4L459.6 858L460.3 855.9L461.1 856.5L461.8 861.8L462.6 857.1L463.3 859L464.1 855.1L465.6 854L466.3 858.9L467.1 858.4L468.6 859.7L469.3 856.8L470.1 855.5L470.8 855.3L472.3 858.2L473.8 859L474.6 855.2L475.3 856.7L476.1 851.6L477.6 859.5L478.3 855.3L479.8 860.7L480.6 860.3L481.3 855.3L482.1 853.6L482.8 853.6L483.3 851.4L484.3 837.4L485.1 805.3L486.3 711.9L486.6 702L486.8 700.4L488.6 817.6L489.6 847.3L490.3 852.2L490.8 852.4L491.8 851.8L492.6 854.7L493.3 850.3L494.1 854L494.8 854.3L495.6 857.3L496.3 853.4L497.1 852.9L497.8 857.8L498.6 856.9L499.3 853.2L500.1 856L500.8 855L502.3 851L503.1 852.8L503.8 853.3L505.3 851.8L506.1 842.4L507.1 806.6L508.6 688.2L509.1 674L511.6 837.1L512.3 848.5L513 850.7L514.3 851.6L515 856.3L515.8 854.4L516.5 857.1L517.3 856.5L518 854L518.8 856.7L519.5 857.1L520.3 856L521 856.6L521.8 854.2L522.5 856.1L523.3 855.8L524 856.6L524.8 852.9L525.5 855.4L526.3 843.9L527.5 811.5L528 803.6L528.3 803L528.8 810.2L530 844.1L530.8 850.8L531 851.2L531.5 850.7L532.3 858.3L533 854.9L533.8 856.3L534.5 853.5L535.3 859L536 854.1L537.5 851.4L539 855.1L540.5 840.3L541 830.5L542 804.2L543.3 757.6L543.5 750.9L544 746L544.8 758.7L546.5 821.6L547.3 838L549 851.7L549.5 853.4L550.3 851.4L551 855.9L551.8 858L552.5 854.4L553.3 858.1L554 856.5L554.8 856.3L555.5 857.1L556.3 856.8L557 860L557.8 856.3L558.5 858.4L560 856.9L560.8 854.6L561.5 858.2L562.3 857.5L563 859.4L563.8 858L564.5 858.2L565.3 857.9L566 853.4L566.8 859.4L567.5 859.2L568.3 858.2L569 858.6L569.8 860.9L570.5 856.1L571.3 859L572 857.3L572.8 858L573.5 857.5L574.3 853.5L575 857.3L575.8 858.5L576.5 857.6L577.3 858.4L578 856L578.8 856.5L580.3 855.5L581 860.2L581.8 857.8L582.5 857L583.3 859.1L584 855.2L584.8 853.8L585.5 858.3L586.3 855L587 857.5L588.5 855.5L590 857.1L590.8 857.5L592.3 856.5L593 854.9L593.8 855.1L595.3 855.9L596 858.2L597.5 855.6L598.3 859.8L599 854.1L599.8 860.9L600.5 856.5L601.3 856L602 856.1L602.8 853.6L603.5 858.8L604.3 856.4L605.8 859.3L606.5 857.6L607.3 858.3L608 857.2L608.8 853.9L609.5 859.7L611 852.8L611.8 855.8L612.5 853.7L613.3 857.9L614 854.4L614.8 858.7L615.5 855L616.3 857.4L617 856.3L618.5 855.3L619.3 857.2L620 855.6L620.8 855.2L621.5 859.3L622.3 858.6L623 859.1L623.8 856.3L624.5 855.4L625.3 853.6L626.8 854.5L627.5 853.6L628.3 855.8L629.8 855.1L630.5 855.3L631.3 852.5L632 854.5L633.5 854.2L634.3 850.9L635 852.7L635.8 853.5L636.5 853.8L637.3 851.2L638 855.3L638.8 855.1L639.5 853.6L640.3 856L641 850.9L642.5 852.2L643.3 850.8L644 850.8L644.8 848.2L645.5 850.3L646.3 849.5L647 847.1L647.8 840.9L648.5 846.3L649.3 844.5L650 845.5L651.5 840.1L652.3 839.6L653 834.2L653.8 833.8L654 832.8L654.5 830.7L655.3 823.9L656 822.1L657.5 809.2L658.3 799.6L660 752.5L661.5 678.9L664.3 368.1L664.8 338.5L665 336.7L667.3 468.2L667.8 474.1L668.8 461.4L669 460.8L669.8 481.5L672.3 689.4L673.8 761.6L675.5 804.9L677.8 825.3L678.5 828.8L679.3 829.6L680 837.7L680.8 835L681.5 836.3L683 846L683.8 840.5L684.5 846.4L685.3 849.1L686 848.6L686.8 849.1L687.5 850.8L688.3 849.6L689 853.5L689.8 848.2L692.8 852.3L694.3 850L695 849.8L695.8 852.8L696.5 850.3L697.3 855.6L698 854.9L698.8 856.9L699.5 853.2L700.3 853.1L701 856.9L701.8 854.3L702.5 854.6L703.3 858.8L704 855.1L705.5 855.8L706.3 855.8L707 851.7L708.5 858.2L709.3 854.6L710 854.6L710.8 854.2L711.5 855.8L712.3 856.1L713.8 860L714.5 855.4L715.3 856.8L716 859.5L716.8 856.1L717.5 859.5L718.3 855.5L719 854.2L719.8 856.1L720.5 854.1L721.3 857.2L722 855.1L722.8 857.3L723.5 857.7L724.3 859.4L725 857L725.8 856.1L726.5 856.7L727.3 856.3L728 853.9L728.8 855L730.3 854.1L731 854.7L731.8 853.9L732.5 857.6L733.3 857.4L734 860.8L734.8 857.7L735.5 856.5L737 856.3L737.8 854L738.5 859.6L739.3 859.1L740 856L740.8 857.7L741.5 855.8L742.3 856.2L743 855.7L744.5 859.8L745.3 853.8L746.8 858.8L748.3 851.4L749.8 853.2L750.5 852.1L751.3 852.4L752 854.2L752.8 850L753.5 851.6L754.3 848L755 845.9L755.8 844.2L756.5 844.1L757.3 843.2L758 839.9L758.8 844.5L759.5 845.4L760.3 852.6L761 853.2L761.8 854.6L762.5 853.1L763.3 858.1L764 858.8L764.8 854.8L765.5 854.9L766.3 858.7L767 857.3L767.8 854.2L768.5 855.2L769.3 858L770 853.9L770.8 857.6L771.5 859.3L772.3 855.6L773 856.8L773.8 855.6L774.5 857.9L775.3 859L776 856.5L776.8 863.1L777.5 856.1L778.3 857.5L779 857.2L779.8 859.1L782 858L782.8 859.1L783.5 854.1L785 858.2L785.8 858.8L786.5 858.9L787.3 857.5L790.3 859L791 857.7L791.8 855.3L792.5 857.7L793.3 858L794 859.3L794.8 858.8L795.5 857.4L796.3 856.8L797 859.8L797.8 855.2L798.5 855.8L799.3 859.9L800 855.5L800.8 860.5L801.5 857.1L802.3 858.5L803 858.9L803.8 856.7L805.3 858.3L806 857.2L806.8 856.8L808.3 857.6L809 856.2L809.8 858.4L810.5 859.3L811.3 855.1L812 858.3L812.8 858L814.3 860L815 858.7L815.8 855.4L816.5 858.5L818 857.1L818.8 857.7L819.5 859L820.3 858.4L821 859.5L821.8 857.9"/>
<path stroke="#3f9b65" stroke-width="3.10" d="M55.8 806.7L56.8 806.5L57.5 807.5L58.3 807.6L59 805.1L59.8 807L61.3 803.1L62 806.7L62.8 808.7L63.5 807.6L64.3 807.7L65 809.7L65.8 808.1L67.3 806.6L68 809.8L68.8 806L69.5 806.1L70.3 808.4L71 808.9L71.8 804.9L72.5 808.3L73.3 806.8L74 807.3L74.8 806.4L75.5 806.8L76.3 809.6L77.8 805.7L78.5 806.2L80 803.1L81.5 808.4L82.3 808L83 805L83.8 811.1L85.3 805.6L86 806.9L86.8 807L87.5 806.2L88.3 809.7L89 810.1L89.8 806.8L90.5 807.7L91.3 807.5L92.8 804.4L93.5 804.2L94.3 807.3L95.8 806.6L97.3 807L98 805.8L98.8 803.1L99.5 802.6L100.3 808.5L101.8 803.7L102.5 804.8L103.3 807.5L104 809.2L104.8 808.5L105.5 807L106.3 806.9L107 804L107.8 806.5L108.5 805L109.3 806.2L110 802.8L110.8 806.8L111.5 804.8L112.3 807.4L113 802.7L113.8 806.8L114.5 805.9L115.3 804.1L116 805.9L116.8 803.7L117.5 807.5L118.3 801.7L119 809.4L119.8 802.6L121.3 800.1L122 804.4L123.5 800.4L124.3 799.5L125 797.6L125.8 799.9L126.8 796.3L127.3 793.2L128.3 767.4L129.1 690.8L130.8 115.1L131.1 69L131.3 65.6L133.1 627.4L133.8 749L134.3 778.1L134.8 789.1L136.3 798.7L137.1 798.3L137.8 801.4L139.3 805.5L140.1 801.7L140.8 805.6L141.6 807.3L142.3 804.8L143.8 805.9L144.6 806L145.3 804.7L146.1 806.2L146.8 800.9L149.1 807.3L149.8 803.1L150.6 803L151.3 803.8L152.1 806.6L152.8 803.5L154.3 808.7L155.1 806L155.8 808.1L156.6 807.2L157.3 808.6L158.1 804.6L158.8 803.9L159.6 807.2L160.3 808.6L161.1 803.9L161.8 807.4L162.6 802.7L163.3 804.5L164.1 800.4L164.8 804.1L165.6 802.9L166.3 806.9L167.1 804.2L167.8 806L168.6 806.9L169.3 799.9L170.1 805.5L170.8 801.4L171.6 800L172.3 793.5L172.8 784L173.6 754.7L175.1 615.6L175.6 590.2L176.1 605.5L177.3 674.3L178.8 715.1L179.1 719.4L179.8 722.8L180.6 732.7L181.3 733.8L182.1 743.3L183.6 748.3L185.1 759.4L185.8 756.7L186.6 759.6L187.3 765.9L188.1 768.1L188.8 768L189.6 771.5L190.3 771.3L191.1 772.9L191.6 771.1L192.6 761.6L194.1 719.5L194.3 715.7L194.6 715.5L196.3 753.5L198.6 776.6L199.3 777.3L200.6 779.6L200.8 779.9L201.6 779.8L202.3 783.4L203.1 783.7L203.8 787.4L204.6 785.2L205.3 789.6L206.1 789.4L206.8 791.9L207.6 791.8L208.3 794.5L209.1 790.7L209.8 794.4L211.3 798.5L212.1 796.6L212.8 796.5L213.6 797.4L214.3 799.3L215.1 798.8L215.8 797.5L216.6 798.6L217.3 798.4L218.1 799.9L218.8 800.5L219.6 802.8L221.1 799.9L221.8 801.6L222.6 800.7L224.8 802.7L225.6 802.2L227.1 805L227.8 805.5L228.6 806.5L229.3 802.9L230.8 802.3L231.6 804.8L232.3 803.1L233.1 803.8L233.8 801.8L235.3 806.3L236.1 801.9L238.3 805.2L239.1 803.2L239.8 805.9L240.6 806.5L241.3 806.7L243.6 802.8L244.3 804.2L245.1 804.5L245.8 800.6L246.6 804.1L248.1 803.9L248.8 805.4L250.3 794.4L251.8 779.9L252.3 781.7L254.6 799.4L254.8 800.5L255.6 799.8L256.3 804.9L257.1 804.8L257.8 805.1L258.6 804.2L259.3 801L260.1 805.8L260.8 804.5L261.6 807.8L262.3 806.1L263.8 800.2L264.6 804.4L266.1 805.1L266.8 807.7L267.6 807.9L268.3 806.2L269.8 804.8L270.6 806.7L271.3 802L272.1 806.4L272.8 804.9L273.6 807.7L274.3 801.8L275.1 806.3L276.6 804.8L277.3 807.5L278.1 803.2L278.8 802.8L279.6 803.8L280.3 806.3L281.1 806.2L281.8 802.7L283.3 808.5L284.1 803.5L284.8 803.4L286.3 805.6L287.1 803.3L287.8 805.7L289.3 805.4L290.1 801.7L290.8 804.5L291.6 803.8L292.3 805.5L293.1 801.5L293.8 806.4L294.6 806.2L295.3 802.2L296.1 805.1L296.8 802.2L297.6 802L298.3 805.6L299.1 806.3L299.8 804.3L300.6 806.6L301.3 803.6L302.1 806.5L302.8 805.1L303.6 806.6L304.3 806.2L305.1 804.3L305.8 803.5L306.6 805L307.3 805.4L308.1 807.7L308.8 803.6L309.6 804.4L310.3 803.6L311.1 807L311.8 802.1L313.3 805.4L314.1 804.8L314.8 803.4L316.3 806L317.1 804.5L317.8 805.3L318.6 804.2L319.3 807.8L320.1 804L320.8 804.4L321.6 802.9L322.3 802.4L323.1 803.1L323.8 804.8L324.6 802.5L325.3 801.9L326.8 793.5L327.6 794L328.3 792.5L330.6 801.8L331.3 803.2L332.1 803.5L332.8 802.4L333.6 804.5L334.3 802.9L335.1 804.4L336.6 802.3L338.1 807.1L339.6 803.4L340.3 803L341.1 805.4L341.8 803.3L342.6 802.5L343.3 804.6L344.8 804.8L345.6 805.4L346.3 803.2L347.8 805.7L348.6 805.3L349.3 806.7L350.1 803.9L350.8 803.9L351.6 803.5L352.3 806.1L353.1 804.9L353.8 805.6L354.6 803.6L355.3 804.8L356.8 805.4L357.6 804L358.3 805.1L359.1 804.1L359.8 806.8L360.6 803.2L361.3 804.9L362.1 802.2L362.8 801.5L363.6 802.8L364.3 806.9L365.1 807.5L365.8 805L366.6 804.3L367.3 802.4L368.1 805.7L369.6 804.7L370.3 805.1L371.1 804.2L371.8 808L372.6 802.9L373.3 805.4L374.1 804.7L374.8 805.3L375.6 805.1L377.1 803.2L377.8 805.2L378.6 804.3L380.1 804.3L380.8 802.8L381.6 804.2L382.3 804.1L383.1 806.6L383.8 805.9L384.6 802.9L385.3 805.5L386.1 802L386.8 802.9L387.6 805.4L388.3 803.6L389.1 804.6L389.8 805L390.6 802.9L391.3 805.6L392.8 803L393.6 805.5L394.3 804.8L395.1 807.1L395.8 806L396.6 805.5L397.3 803.5L398.1 805.4L398.8 804.3L399.6 804.6L400.3 805.6L401.1 803.5L401.8 806.7L403.3 803.6L404.1 804.7L404.8 805.2L405.6 805.2L407.1 802.1L408.6 804.5L409.3 804.3L410.1 803.3L410.8 804.9L411.6 804.6L412.3 805.3L413.1 805L413.8 805.5L414.6 801.6L415.3 804.5L416.1 800.6L416.8 803.1L417.6 803.2L418.3 800.8L419.1 802.9L419.8 801.3L420.6 798.6L422.1 799.4L422.8 795.3L423.6 799.8L424.3 801.1L425.1 805.5L425.8 800.7L427.3 806.9L428.1 804.6L428.8 804.6L429.6 807.4L430.3 804.5L431.1 805.2L431.8 805L432.6 801.3L433.3 803L434.1 802.5L434.8 803.7L435.6 804L436.3 806L437.8 806.6L440.1 803.2L440.8 801.1L441.6 805.9L442.3 805.4L443.1 804.1L443.8 804.2L444.6 804.8L446.1 804.3L446.8 804.8L447.6 803.3L448.3 802.6L449.1 803.6L449.8 803.6L450.6 804.9L452.1 803.6L452.8 807.6L453.6 803.9L454.3 803.5L455.1 803.8L455.8 805.6L456.6 805.1L458.1 802.2L458.8 807.4L459.6 802.6L460.3 802.6L461.1 804.1L462.6 804.5L463.3 802.9L464.1 806L464.8 804L465.6 805.8L466.3 804L467.1 805.2L467.8 804.2L468.6 805.9L469.3 806.4L470.1 802.8L471.6 805.7L472.3 803.7L473.1 805.3L473.8 803L474.6 803L475.3 805.2L476.1 802.6L476.8 801.6L477.6 802.9L478.3 802.9L479.1 803.6L479.8 802.5L480.6 802.1L481.3 803.6L482.1 801.2L484.1 791.3L484.6 781.5L485.3 742.8L486.6 622.3L487.1 604.4L488.8 747.6L489.3 775.6L489.8 788.7L491.1 798L491.8 798.9L492.6 800.9L493.3 801.9L494.1 800.5L494.8 803.8L495.6 803.3L496.3 801.2L497.8 802.6L498.6 804.7L499.3 802.4L500.1 801.9L500.8 804.4L501.6 802.7L502.3 802.1L503.1 803.4L503.8 800L504.6 804.8L505.3 803.2L506.1 802.7L506.8 803.9L507.6 800L508.3 799.7L509.1 801.2L509.8 793.9L510.3 793.8L510.6 793.3L511.3 785.1L511.8 771.5L512.5 725.2L514.3 532.9L514.5 534.9L514.8 550.8L516 702.6L516.8 762.4L517.5 784.8L518.8 795.3L519.5 796.2L520.3 800.3L521 799.6L521.8 801.3L522.5 799.7L523.3 801.8L524 802.6L524.8 800.8L526.3 802.8L527 802.1L527.8 799.5L528.5 801L529.3 800.6L530.3 794.9L530.8 789.9L532 762.7L532.5 754.1L532.8 751.6L533 751.3L535 789.4L535.8 797.3L536.8 803.4L537.5 801.6L538.3 800.7L539 802.6L539.8 801.4L540.5 802.9L542 800.6L542.8 801.4L543.5 801.1L545.8 789L546.3 782.8L547.8 748.1L549 710.1L549.5 701.1L550 697.4L550.8 709.9L553 774.5L554.3 792L554.8 796.4L556.3 800.4L557 799.3L557.8 801.3L558.5 800L560 804.4L560.8 803.1L561.5 800.3L562.3 801L563 801L563.8 803.2L564.5 803.6L565.3 802.8L566 804.9L566.8 803.7L567.5 805.1L568.3 803.5L569 804L569.8 803.1L570.5 803.7L571.3 803.1L572 805.2L572.8 803.7L573.5 805L575 804.1L575.8 805.1L576.5 803.7L577.3 803.9L578 801.2L578.8 803.1L581 804.7L581.8 803.6L582.5 801L583.3 804.7L584.8 802.6L585.5 803.2L586.3 804.9L587 803.8L587.8 804.8L588.5 803.5L590 804.8L590.8 803.3L591.5 803L593 803.6L593.8 801.6L594.5 804.7L595.3 805.1L596 803.9L596.8 804.1L598.3 802.1L599 804.2L599.8 805.3L600.5 804.6L601.3 802.2L602 805.1L602.8 804.4L603.5 803.1L604.3 804L605 803.4L605.8 802.1L607.3 805.2L608 802.6L608.8 803.1L609.5 801.8L610.3 802.7L611 802.9L611.8 805.4L613.3 803.1L614 804.7L614.8 804L615.5 801.8L616.3 803.7L617 803.7L617.8 802.2L618.5 803.2L619.3 803.2L620 800.8L620.8 803.4L622.3 803.5L623 800.5L623.8 799.4L624.5 801.8L625.3 795.7L626 793L626.8 788.3L627.5 792L628.3 792.3L629.8 797.8L630.5 795.6L631.3 794.8L632 793L634.3 796.8L635 796L636.3 792.4L637.3 787.6L638.8 792.5L639.5 791.3L640.3 794.4L641 792.3L641.8 793.3L642.5 792.9L644 797.9L644.8 793.4L645.5 796.1L646.3 796.8L647 795.8L647.8 794L648.5 796.6L649.3 795.4L650 796.6L650.8 793.6L651.5 793.2L652.3 794.2L653 792.4L653.8 793.6L654.5 793.8L655.3 792.4L656 790L656.8 791.1L657.5 789.2L658.3 791L659.8 786.1L660.5 785.6L662 781.2L662.8 781.6L663.5 776.4L664.3 773.8L665 772.7L665.8 769.3L667.3 757.9L667.8 751.8L669.3 724.4L670 686.7L670.5 633.6L671.8 370L672 334.7L672.3 330.9L673.8 610L674.3 660.5L674.8 682.2L675.3 688.8L675.8 681.4L676.5 631.8L678.3 340L679.8 596.5L680.3 640.4L680.5 647.9L680.8 647.7L682 591.7L682.3 584.9L682.5 586.2L685 746.7L686.3 771.3L686.8 775.7L687.5 777.8L689 786.2L689.8 788.1L690.5 786.8L691.3 788.1L692 790.8L692.8 790L693.5 790.6L694.3 794.5L695 792.4L696.5 795.7L697.3 795.1L698 796.2L698.8 798.2L699.5 796.6L700.3 797.7L701 796L701.8 799L702.5 797.1L703.3 798L704 796L704.8 798L705.5 798.5L706.3 798.1L707 800.3L707.8 797L708.5 798.8L709.3 797.9L710 800.3L710.8 799.4L711.5 796.3L712.3 794.8L713 794.5L713.8 797.4L715.5 799.8L716 800.4L716.8 798.8L718.3 801.2L719 800.4L719.8 800.6L720.5 801.6L721.3 799.6L722 801.5L724.3 799.8L725 800.7L725.8 800.9L726.5 799.8L728 801.9L728.8 800.6L729.5 801.3L730.3 799.4L731 801.6L731.8 801L732.5 801L733.3 799.7L734 802.4L734.8 801.1L735.5 800.9L736.3 799.9L737.8 799.5L738.5 800.8L739.3 800.7L740 801.6L740.8 801.9L741.5 800.3L742.3 802.3L743 802.5L743.8 802.2L744.5 801.2L745.3 798.8L746 801.4L746.8 799.1L747.5 802.6L748.3 802.3L749 802.5L750.5 799L751.3 800.8L752 798.5L753.5 797.4L755 795L755.8 795.3L756.5 795.1L757.3 793L758 793.1L759.5 791.1L760.3 791.4L761 788L761.8 787L762.5 782.6L763 782.6L763.3 782.9L763.8 782.3L764 782.4L764.8 786.7L765.5 787.6L767.8 797.8L768.5 798.5L769.3 798.2L770 799.4L770.8 801.5L773 800.9L773.8 800.2L774.5 803.5L775.3 802.8L776.8 802.2L777.5 799.8L778.3 801.4L779 801.5L779.8 802.7L780.5 801.3L781.3 802L782 800.7L782.8 800.6L783 800.1L784.3 797.6L785 794.8L785.8 799.9L787.3 802.8L788 799.7L788.8 802.9L789.5 802.7L790.3 801.4L791 802.7L791.8 800.5L792.5 802.6L794 804.5L794.8 804.5L796.3 801.9L797 802.3L797.8 801.4L798.5 801.2L799.3 801.9L800 801.4L801.5 805.1L803 801.3L803.8 802L804.5 804L805.3 801.5L806 803.5L806.8 803.4L807.5 801.4L808.3 803L809 802.6L809.8 804.4L810.5 802.8L811.3 803.6L812 803.2L812.8 801.3L813.5 804.4L815 800.4L815.8 802.7L816.5 802.5L817.3 801.6L818 802.4L818.8 801.9L819.5 803.5L820.3 803.2L821 805.4L821.8 803.4"/>
<path stroke="#31b190" stroke-width="3.10" d="M55.8 744.1L56.8 747L57.5 736.6L58.3 739.1L59 740.4L59.8 743.8L60.5 740.3L61.3 739L62 740.2L62.8 737L63.5 738.9L64.3 742.2L65 740.7L65.8 736.5L66.5 735.2L67.3 745L68 745.3L68.8 740.6L69.5 740.2L70.3 743.6L71 743.7L72.5 746.6L74 734L74.8 743.1L76.3 735.3L77 743.2L77.8 746.4L78.5 739.2L79.3 742.7L80 744.1L80.8 742L81.5 742.9L82.3 740L83 740.1L83.8 740.6L84.5 742.3L85.3 741.2L86 737.7L86.8 738.6L87.5 741.7L88.3 741.3L89 739.7L89.8 742.2L90.5 739.4L91.3 746.3L92 740.8L92.8 747.9L94.3 737L95 743.8L95.8 739.6L96.5 739.5L97.3 740.2L98 746.6L98.8 740.9L100.3 735.6L101.8 740L102.5 738.9L103.3 740.8L104 738.8L104.8 740.5L105.5 729.9L106.3 745.8L107 736L107.8 739.9L108.5 739.9L109.3 741L110 742.8L110.8 740.7L111.5 744.2L112.3 735.8L113 745.1L113.8 739.5L114.5 744.8L115.3 741.7L116 742.9L116.8 742.7L117.5 745.8L118.3 736.4L119.8 744L120.5 739.5L121.3 746.2L122 736.8L122.8 745.2L124.3 732.5L125 741.7L125.8 732L127.3 740.7L128.1 739.2L128.8 736.2L129.6 730.5L130.3 727.2L131.3 696.2L132.1 602.4L133.6 -2.8L133.8 -8L134.8 -8L136.1 523.6L137.1 699.7L137.6 718.6L138.6 730.2L139.3 732.9L140.1 733.3L140.8 737.5L141.6 737.6L142.3 734.6L143.1 735.5L143.8 735.1L144.6 737.8L145.3 744.3L146.1 737.4L146.8 741.6L147.6 735.3L148.3 739.3L149.1 741.5L149.8 739L150.6 739.6L151.3 743.7L152.1 735.1L152.8 740.9L153.6 743L154.3 743.3L155.1 737.8L155.8 736.5L156.6 739.7L157.3 737.8L158.1 737.6L159.6 734.1L160.3 742.9L161.1 743.6L161.8 745.7L162.6 740.8L163.3 738L164.1 737.8L164.8 741.2L165.6 739.4L166.3 743.8L167.1 739.1L167.8 740.4L168.6 744.4L169.3 738.3L170.1 736.1L170.8 737.2L171.6 744.8L172.3 741.6L173.1 735.8L173.8 740.4L174.6 737.2L175.1 738.8L175.3 738.9L176.1 724.2L176.6 706.2L178.1 611.5L178.3 603.2L178.6 602.7L179.8 625.8L180.6 646.1L181.3 650.2L182.1 660L182.8 662.1L183.6 671.2L184.3 670.3L185.1 682.3L185.8 683.4L186.6 681.6L187.3 687.4L188.1 688.1L188.8 696.5L189.6 695.8L190.3 701.5L191.1 696.6L191.8 704.4L192.6 702.9L193.3 709.6L194.6 692.9L196.1 654.7L196.6 648.5L197.1 653L197.8 675.7L198.8 694.4L199.3 699.6L199.6 700.1L200.1 700.1L200.8 708.2L201.6 709.9L202.3 715.5L203.1 714.6L205.3 721.3L206.1 721.9L206.8 719.7L207.6 721.5L208.3 727.3L209.1 727.9L209.8 726.7L210.6 732.7L211.3 727.4L212.1 733.2L212.8 728L213.6 729.7L214.3 733.2L215.1 733.4L215.8 736.8L216.6 733.2L217.3 732.4L218.1 737.6L218.8 738.4L219.6 732.6L220.3 730.7L221.1 731.8L221.8 739.2L222.6 732.7L223.3 738.4L224.8 736.9L225.6 741.2L226.3 737.3L227.1 743.1L228.6 739.8L229.3 735.4L230.8 739.2L231.6 736.8L232.3 736L234.6 739.9L235.3 738.4L236.1 740.1L236.8 738.4L237.6 743.3L238.3 740.6L239.1 740.2L239.8 737.9L240.6 737.7L241.3 738L242.1 739.2L242.8 734.9L244.3 738.3L245.1 738.4L245.8 737L247.3 743L248.1 737.9L248.8 741.7L249.6 737.1L250.3 738.6L251.1 742.2L251.8 741.4L252.6 738.8L253.3 737.4L254.1 740.7L254.8 727.9L255.1 728.3L255.3 728.3L255.6 727.7L257.1 698.4L258.6 715.7L259.3 729L260.1 732.6L260.8 738.8L261.6 738.3L262.3 742L263.1 738.1L263.8 738.2L264.6 735.9L265.3 742.3L266.8 739.7L267.6 739.1L268.3 741.4L269.1 739.9L269.8 740.4L270.6 739.7L271.3 744.9L272.1 740.1L272.8 739.5L273.6 737.2L274.3 742.7L275.8 741.7L276.6 742.6L277.3 743.1L278.1 738.3L279.6 737.4L280.3 744.1L281.1 740.3L281.8 743.9L283.3 738.7L284.1 745L284.8 741.1L285.6 741.3L286.3 739.5L287.1 741.5L288.6 736.5L290.1 740.6L290.8 740.7L291.6 738.3L292.3 739.1L293.1 741.9L293.8 737.8L294.6 738.1L295.3 741.9L296.1 739.8L296.8 741.1L297.6 741.2L298.3 739.1L299.8 741.9L300.6 740.8L301.3 741.6L302.1 740.4L302.8 738L304.3 741L305.1 740L305.8 741.1L306.6 743.2L307.3 741.1L308.1 740.2L309.6 743.7L310.3 740.6L311.1 741.7L311.8 737.3L312.6 743.4L314.1 737.7L314.8 743.1L315.6 738.5L316.3 744.5L317.1 739.1L317.8 740.5L318.6 740L319.3 738.2L320.1 738.1L320.8 743L321.6 742.5L322.3 740.5L323.1 740.1L323.8 738.3L324.6 744.2L325.3 738.6L326.1 742.4L326.8 740.3L327.6 742.3L328.3 741.5L329.1 742L329.8 739.1L330.6 739.9L331.3 731L332.8 720.4L333.3 721.9L335.1 735.3L335.3 735.7L335.8 735.7L336.6 739.3L337.3 739.7L338.1 736.7L338.8 741.7L339.6 742.1L341.1 736.4L341.8 741.9L342.6 738.8L343.3 742.2L344.1 739.7L345.6 742.4L346.3 741.7L347.1 738.7L347.8 743.5L348.6 740.9L349.3 739.7L350.1 740.5L350.8 738.2L351.6 743.7L352.3 738.5L353.1 739.3L353.8 737.6L354.6 741.8L355.3 739.6L356.1 740.9L357.6 738.3L358.3 742L359.1 742.5L359.8 741.2L360.6 741.6L361.3 738.2L362.1 741.2L362.8 740.8L363.6 737.9L364.3 736.8L365.1 740.5L365.8 742L366.6 740.8L367.3 742.5L368.1 741.7L368.8 738.7L370.3 741.9L371.1 737.9L371.8 739.9L372.6 738.6L373.3 741.9L374.1 741L374.8 741.1L375.6 742.6L376.3 740.2L377.1 741.2L377.8 739.8L378.6 736.6L379.3 739.9L380.1 741.4L380.8 739.1L382.3 741.2L383.1 738.5L383.8 742.3L384.6 740.8L385.3 738.2L386.1 744.3L386.8 740.1L387.6 739.6L388.3 740.6L389.1 740.6L389.8 743.1L390.6 740L391.3 740L392.1 739.3L392.8 740.6L393.6 740.9L394.3 735.9L395.1 739.4L395.8 738.7L396.6 740L397.3 743.2L398.1 740.9L398.8 743.9L400.3 739.3L401.1 742.4L401.8 741.9L402.6 744.3L403.3 739.2L404.8 740.1L405.6 741.2L406.3 740.1L407.1 740.4L408.6 742.9L409.3 738.9L410.1 742L410.8 738.9L412.3 740.7L413.1 739L413.8 739.4L414.6 744.2L415.3 743.6L416.1 740.5L416.8 739.4L417.6 743.6L418.3 740.4L419.1 741.1L419.8 739.4L420.6 739.8L421.3 739.7L422.1 742.7L422.8 738.3L423.6 736.8L424.6 739.1L425.1 739.4L425.8 739L426.6 730.9L427.6 729.2L428.8 730.1L429.6 733.7L430.3 740.7L431.8 739.7L434.1 739.8L434.8 737.7L435.6 740.9L436.3 740.6L437.1 741.6L438.6 738.9L439.3 741.7L440.1 740.3L440.8 741.1L441.6 740.8L442.3 743.3L443.1 737.8L443.8 744.1L444.6 740.2L445.3 738.2L446.1 738.4L446.8 740.8L447.6 738.7L448.3 740.3L449.1 741.3L449.8 741.5L452.1 739.6L452.8 742.2L453.6 737.5L454.3 739.9L455.1 739.4L455.8 736.5L457.3 739.5L458.1 742L458.8 741.7L459.6 741.9L460.3 739.1L461.1 741L461.8 738.4L462.6 740L463.3 737.2L464.1 740.9L464.8 736.8L465.6 740.1L466.3 739.3L467.1 737.1L467.8 736.2L468.6 736.7L469.3 741.7L470.8 736.9L471.6 741.2L472.3 742.2L473.1 739.9L474.6 740.3L475.3 736L476.1 741.3L476.8 741.1L477.6 738.1L478.3 739.7L479.1 736.3L480.6 735.9L481.3 738.6L482.1 738.8L482.8 731.1L483.6 732.7L484.1 730L484.6 719.6L485.6 666.2L486.6 577.6L487.1 559L488.8 691.4L489.3 714.3L490.3 733.1L491.1 736.1L491.8 735.4L493.3 741.3L494.1 740.8L494.8 737.9L496.3 736.9L497.1 737.8L497.8 737.1L498.6 741L499.3 741.1L500.1 737.8L500.8 740.4L502.3 737.2L503.1 741.5L503.8 740.4L504.6 737.8L505.3 741.6L506.1 738L507.6 738.3L508.3 735.8L509.1 740.4L510.6 736.5L511.3 738.2L512 735.2L512.8 738L513.5 737.8L514.3 739.5L515.8 732.2L516.5 731.6L517.3 732.4L518.3 716.8L518.8 700.7L519.5 643.6L521.3 421.7L521.5 421.7L521.8 438.3L523 622.7L523.8 692.2L524.3 713.1L524.8 722.3L525.5 729.5L525.8 729.7L526.3 729.5L527 737.3L527.8 733.5L529.3 736.5L530 736.7L530.8 738L531.5 734.6L532.3 739.5L533 739.6L533.8 739.3L534.5 738.3L535.3 738.4L536 737.2L536.5 737.2L536.8 736.8L538.8 716.7L539.3 713.4L539.5 713.4L540 716.5L541.3 731.4L542.5 737.3L542.8 737.9L543.5 737.9L544.3 735.9L545 735.5L545.8 740.2L546.5 739.4L547.3 739.6L548 735.6L548.8 737.3L549.5 740.4L550.3 736.7L551 736.2L551.8 733.1L552.5 732.3L554 717.3L555.5 693.8L557 682.4L557.8 687.1L560 723.4L562.3 734.7L563 736.2L563.8 736.6L564.5 738.6L565.3 739.7L566 737.6L566.8 738.1L568.3 737.7L569 739.9L569.8 739.5L571.3 738L572 739.5L572.8 740L573.5 737.1L574.3 738.8L575 739.1L575.8 737.1L576.5 739.1L577.3 739.3L578 737.7L578.8 740.4L579.5 737.5L580.3 739.4L581 737.9L581.8 738.9L582.5 738.7L583.3 735.3L584 739L584.8 738.8L585.5 739.5L586.3 738.5L587 740.7L587.8 741.8L588.5 741.7L589.3 739.7L590 740.4L590.8 739.7L591.5 740L592.3 739.4L593 741.2L593.8 737.6L594.5 740.3L595.3 739.4L596 737.4L596.8 737.7L597.5 741.8L598.3 739.5L600.5 739.2L601.3 740.4L602 738.6L602.8 742.6L603.5 740.6L605.8 737.9L606.5 739.9L607.3 739.1L608 740.1L608.8 739.5L609.5 741.4L610.3 742.4L611 739.8L611.8 739.1L612.5 740L614 738.5L614.8 739.9L615.5 739.4L616.3 737.3L617.8 738.7L618.5 738.1L619.3 736.6L620 740.7L620.8 738.9L621.5 741.6L622.3 738.8L623 742.1L623.8 739.1L624.5 739.7L625.3 739.3L626 738.5L626.8 738.6L627.5 739.9L628.3 739L629 740.1L629.5 740L629.8 740L630.5 738L631.3 739.7L632 733.9L632.5 734.7L632.8 734.8L633 734.3L634.8 725.7L635.5 724.5L635.8 724.6L637.3 732L638 732.5L638.8 730.8L640.3 734.1L641 734.8L641.8 733L642.5 733.7L643.3 733.9L644 730.9L644.8 731.8L645.5 729.8L646.3 721.2L646.8 722.4L647.8 728.2L648.3 729.2L648.8 729.5L649.3 729.2L650 733L650.8 729.8L651.5 732.3L652.3 732.8L653 732.5L653.8 730.1L654.5 731.5L656 732.9L656.8 732.2L657.5 732.9L658.3 730.4L659 732.3L659.8 730.2L660.5 731.4L661.3 729.1L662 730.1L663.5 725.4L664.3 728.9L665 728.3L666.5 723.2L667.3 723.4L668 720.7L668.8 722.1L669.5 718.2L670.3 718.9L671.8 713.2L673.3 705.7L674 703.7L676 686.4L677.5 659.2L678.3 625.1L679 543.4L680.5 233.3L681 284.9L682.3 550.3L682.8 597.3L683.3 618.2L683.8 623.9L684.3 616.8L685 575.3L686.8 311.8L688.5 547.2L688.8 556.7L689 557.7L690 521.7L690.3 516.6L690.5 518.1L691 540.6L692.3 641.6L693.3 688.3L694.3 707.2L696.5 719.5L697.3 719.9L698.8 725L699.5 724.6L700.3 727.5L701 729.2L701.8 726.6L702.5 729.7L703.3 728.6L704 728.6L704.8 731.5L705.5 732.8L707.8 732.2L708.5 732.5L709.3 734.1L710 734.9L710.8 732.8L711.5 736.2L712.3 733.8L713 735.3L713.8 733.7L714.5 735.8L716 736.2L716.8 735.8L717.5 737.1L718.3 735.9L719.8 735.3L720.5 738L721.3 735.1L722 734.8L722.8 731.7L723.5 734L724.3 729.9L725 730.5L726 734.2L728 737.5L728.8 737.5L729.5 736L731 736.1L731.8 738L732.5 737L733.3 738.8L734 736L734.8 737.7L735.5 736.1L736.3 737.9L737 738.3L737.8 735.1L738.5 737.5L740 738.1L740.8 736.3L741.5 735.4L742.3 736.8L743 737L743.8 739.2L746 737.4L747.5 738.5L748.3 738.3L749 739.4L749.8 737.5L750.5 736.7L751.3 738.5L752 735.9L753.5 738.2L754.3 734.7L755 737.3L755.8 734.9L756.5 734.7L757.3 736.9L758 735.1L758.8 736.3L759.5 735.4L760.3 735.6L761 733L761.8 731.4L762.5 731L763.3 728.5L764 728.7L764.8 728.5L765.5 726.1L766.3 728.5L767 724.3L767.8 724.5L768.5 724.3L770 717.5L771.5 713.9L772.3 714.8L773 719.2L773.8 720.7L775 729.1L776 732.5L776.8 732.6L777.5 732.3L778.3 735.2L779 735.1L779.8 736.3L780.5 736.6L781.3 738.3L782 735L783.5 738.1L784.3 742.3L785.8 735.1L787.3 735.6L788 737L788.8 736.7L789.5 740.3L790.3 737L791 736.8L791.8 737.5L792.5 737.7L793.3 737.5L794.8 733.1L795.5 733.6L796.3 732.6L797 734.7L797.8 735.4L798.5 736.9L799.3 736.7L800 738.9L800.8 738.9L801.5 739.9L802.3 739.4L803 737.2L803.8 740.7L805.3 740.3L806 739.5L807.5 738.7L808.3 739.2L809 737.8L809.8 739.6L810.5 736.1L812 740.1L812.8 738.5L813.5 739.1L815 738.5L815.8 739.2L817.3 738.4L818 738.3L818.8 740.7L819.5 740.9L820.3 738.3L821 738.7L821.8 736.3"/>
<path stroke="#2bbdbd" stroke-width="3.10" d="M55.8 687L56 687.2L56.8 684.7L57.5 684.5L58.3 687.2L59 684.4L59.8 684.4L60.5 686.6L61.3 685.2L62 686.9L62.8 684.5L63.5 687.4L64.3 682.4L65 684.5L65.8 682.7L66.5 686.2L67.3 683.5L68 687.5L68.8 684.3L69.5 687.5L70.3 685.9L71.8 688.7L72.5 685L74 687.1L74.8 686.2L76.3 689.1L77.8 683L79.3 688.1L80 685.4L80.8 685.2L81.5 685.3L83 688.2L83.8 682.8L84.5 687.1L86 683.5L86.8 687.5L87.5 685.4L88.3 684.9L89 685.8L89.8 684.3L90.5 686.9L91.3 684.8L92 689L93.5 685.2L94.3 685.6L95 684.2L95.8 686.8L96.5 686.9L97.3 682.8L98 686.1L98.8 687L99.5 687.3L100.3 685.2L101 684.8L102.5 687L104 686.2L106.3 683.3L107 686.4L107.8 685L108.5 686.1L109.3 689.2L110 683.4L110.8 687.8L111.5 684.2L112.3 685.2L113 684.6L114.5 686.5L115.3 686.2L116 690L116.8 684.8L117.5 687.2L118.3 684.9L119 684.2L119.8 685.6L120.5 683L121.3 687.3L122 687.5L122.8 684.4L123.5 682.8L124.3 685.9L125 684.9L125.8 685.7L126.5 683L127.3 684.5L128.1 684.6L128.8 686.3L129.6 681.2L130.3 683L131.1 679.7L132.6 678.7L133.6 663.8L134.1 646L134.8 560.2L136.3 -8L137.6 -8L137.8 14.5L138.8 456.2L139.3 580.4L139.8 638.3L140.3 660.9L141.1 671.8L142.3 680.2L143.1 679.5L143.8 680.1L144.6 683.8L145.3 679.4L146.1 683L146.8 684.3L147.6 682.4L148.3 683.5L149.1 686.2L150.6 682.5L151.3 684.8L152.1 681.7L152.8 686.2L153.6 686.5L154.3 686L155.1 686.5L155.8 685.3L156.6 682.7L158.8 686.9L159.6 685.3L160.3 687.4L161.1 683.9L161.8 686.7L162.6 682L163.3 686.5L164.1 683.8L164.8 686L165.6 684.7L166.3 684.2L167.8 686.5L168.6 686L169.3 687.7L170.1 684.1L170.8 684.7L171.6 683.3L172.3 684.4L173.8 685.6L175.3 680.1L176.1 680.6L176.8 680.1L178.1 675.8L178.6 671.2L179.1 661.5L179.6 640.5L181.1 518.1L181.6 501.4L183.1 598.6L184.3 640.6L186.3 654.5L188.8 663.6L189.6 664.8L190.3 667.7L191.1 667.9L191.8 669.1L192.6 668L194.1 670.1L194.8 672L195.6 669.8L196.3 668.5L197.3 665.1L198.1 657.9L199.1 626.3L200.3 552.9L200.6 544.7L200.8 544.2L202.6 629.6L203.1 646L203.8 659.3L206.1 671.9L206.8 670.3L208.3 677.4L209.1 676.5L210.6 680.1L211.3 677.9L212.1 679.1L212.8 679.8L213.6 682.9L215.1 679.6L215.8 683.1L216.6 681.9L217.3 682.5L218.1 682.7L218.8 682.2L219.6 684.3L220.3 681.7L221.1 684.1L221.8 684.6L222.6 684.8L223.3 684.3L224.1 685.6L224.8 685.6L225.6 684.8L226.3 685.9L227.1 683.8L227.8 686.1L228.3 686.1L228.6 686.1L229.3 683.6L230.8 686L231.6 683.1L232.3 684.5L234.6 687.4L235.3 686.4L236.1 683.7L236.8 683.6L237.6 683.8L238.3 685.2L239.1 685.5L239.8 684.6L240.6 684.6L242.8 687.8L243.6 684.7L244.3 686.3L245.1 683.4L246.6 685.7L248.1 684.4L249.6 684.9L251.1 686L251.8 683.9L252.6 683.9L253.3 684.9L256.1 680.9L256.8 675.9L257.8 662L258.8 630.4L259.3 622.4L261.3 670.9L262.3 680.1L264.6 686.3L265.3 684.2L266.8 684.2L267.6 686.2L268.3 683.7L269.1 684.6L269.8 683L270.6 685.5L271.3 684.7L272.1 685.3L272.8 687.2L275.1 684.3L275.8 686.8L276.6 684.7L278.1 685L279.6 683.7L280.3 685.5L282.6 686.1L283.3 686.9L284.8 685.6L286.3 685.6L287.1 686.6L287.8 687.1L288.6 686.4L289.3 684L290.1 687.1L290.8 685.9L291.6 685.4L292.3 686.8L293.1 687.1L294.6 685.7L295.3 685.6L296.1 686.6L297.6 685.3L298.3 686.4L299.1 686.7L299.8 686.5L300.6 685.7L301.3 686.4L302.1 686L302.8 686.3L303.6 687.8L304.3 686L305.1 686L305.8 687L306.6 686.8L307.3 684L308.1 683.8L308.8 685.7L309.6 686.6L310.3 685.5L311.1 687L311.8 685.5L312.6 686.5L313.3 685.7L314.1 685.6L314.8 683.7L315.6 685.6L317.1 687.2L317.8 687L318.6 685.8L319.3 686.6L320.1 686.4L320.8 683.9L321.6 685.8L322.3 686.9L323.1 687.4L323.8 685L324.6 685.2L325.3 686.2L326.1 686.4L326.8 686.2L327.6 686.3L329.8 684.3L330.6 684.2L331.3 685.3L332.1 684.1L332.8 684.3L333.6 683.3L334.3 683.6L335.8 679.4L337.6 657.3L337.8 657.4L338.1 659.3L339.3 675.8L340.1 680.3L341.1 684.1L341.8 684.6L343.3 685L344.1 686.1L344.8 683.8L345.6 683.4L347.8 687L348.6 685.6L349.3 685.2L350.1 687.2L350.8 684.5L351.6 685.1L352.3 687.1L353.8 684.3L354.6 685.9L355.3 685.8L356.1 687.2L356.8 685L358.3 686.5L359.1 684.4L359.8 686.4L360.6 685.7L361.3 687.4L362.1 685.1L362.8 686.3L364.3 686.9L365.1 686.9L365.8 684.9L366.6 686.2L367.3 685.6L369.6 685.3L370.3 686.9L371.1 686.1L371.8 687.3L372.6 685.9L373.3 687.1L374.1 685.1L374.8 686.9L375.6 685.8L376.3 686.7L377.1 687.1L377.8 685.9L378.6 685.7L379.3 685L380.1 686.7L380.8 686.1L381.6 684.9L382.3 687.1L383.8 684.8L384.6 686.3L385.3 686.8L386.8 685.8L387.6 686.5L388.3 686.4L389.1 687.2L389.8 687.1L390.6 685.4L392.8 689L394.3 684.7L395.1 685.8L395.8 685.3L396.6 685.4L397.3 685.7L398.1 686.5L398.8 685.8L399.6 686.1L400.3 684.9L401.1 684.8L401.8 687.1L402.6 684.3L404.1 686.7L405.6 684.7L406.3 686.3L407.1 686.3L407.8 687.3L408.6 684.9L409.3 686.2L410.1 686.4L410.8 684.1L411.6 686.8L412.3 686.7L413.1 685.8L413.8 685.4L414.6 683.8L415.3 685.3L416.1 685.3L416.8 685.7L418.3 685L419.8 687.6L420.6 685.6L421.3 684.8L422.1 684.7L422.8 687L423.6 685.3L424.3 685.4L425.1 686.1L425.8 683.5L426.6 686.7L428.1 684.6L428.8 682.1L429.3 681.9L429.6 681.5L430.6 675.3L431.1 673.6L431.3 673.8L431.8 675.8L432.6 681.8L433.3 685.4L434.1 684.2L434.8 686.3L435.6 683.8L437.1 687.3L437.8 687.1L438.6 684.8L440.1 687.6L440.8 685.9L441.6 687.2L443.1 687.7L443.8 684.7L444.6 687.2L445.3 686.3L446.1 684.7L447.6 685.6L448.3 684.9L449.1 685.7L450.6 683.7L451.3 686.4L452.1 685L452.8 686.6L453.6 685.7L454.3 686.8L455.1 685.7L455.8 685.7L456.6 685.3L457.3 685.5L458.1 686.4L458.8 686.4L459.6 684.9L460.3 686L461.1 686.4L461.8 685.2L462.6 685.2L463.3 686.8L464.1 684.5L464.8 686.2L466.3 684.4L468.6 685.6L469.3 685.6L470.1 684.8L470.8 686.6L472.3 684.4L473.1 685.6L473.8 683.5L474.6 683.7L475.3 686.2L476.1 686.1L476.8 684.1L477.6 684.7L478.3 684.9L479.8 683.8L480.6 682.2L481.3 682.8L482.1 680.2L482.8 680.2L483.8 672.2L484.3 663.5L485.3 613.5L486.6 473.2L487.1 450.7L489.1 638.6L489.8 666.1L490.6 675L491.8 681.5L493.3 681.6L494.8 684L495.6 683.2L496.3 683.1L497.1 686.1L497.8 685.9L499.3 683.8L500.1 684.5L500.8 685.9L501.6 683.6L502.3 684.6L503.1 684.9L503.8 683.7L505.3 685.8L506.1 685.4L506.8 686.7L507.6 683.2L508.3 686.1L509.1 685.5L509.8 688L511.3 684.7L512 685.3L512.8 685.4L513.5 684.6L515 685.2L516.5 684.6L517.3 683.3L518 684.3L518.8 683.9L519.5 681.5L520.3 682.4L521 679L522.5 675.4L523.3 668L523.8 654.6L524.5 608.8L526 419.5L526.5 395.4L527 430.4L528.3 595.4L529 649.4L530 673.6L530.8 678.3L531.5 678.2L532.3 679.8L533 683.7L533.8 683.6L534.5 684.7L535.3 682.3L536 684.5L536.8 681.9L537.5 683.6L538.3 683.4L539 684.9L539.8 683.6L541.3 685.2L542.5 682.9L543 681.4L543.5 678.7L544.3 670.4L544.8 668.7L545.3 669.3L545.5 670.4L547 681.9L547.8 685L548 685.6L548.3 685.6L550.3 684.6L551.8 685.7L552.5 683.9L553.3 683.3L554.3 681L555.5 675.4L556.8 672L557.3 671.5L557.8 671.5L558.5 670.6L559.3 675.2L559.8 675.1L560.5 674.6L561.3 670.1L562.3 656.6L562.8 654.2L563 654.7L563.3 654.7L563.8 657.9L565 677L565.8 683.4L566 684.7L566.8 684.3L567.5 685.1L568.3 683.9L569 686.8L570.5 683.9L572.8 680.5L573.5 683.1L574 683.6L575 683.9L576.5 686.8L577.3 685.8L578 686L578.8 685.2L579.5 685L581 686.3L581.8 684.7L582.5 684.9L583.3 685.9L584 685.2L584.8 685.4L585.5 687.5L587 685.8L587.8 684.3L588.5 683.7L589.3 685.3L590 684.7L590.8 686.1L591.5 683.5L592.3 686.2L593 687.6L594.5 684.2L595.3 683.5L596 684.2L596.8 685.8L597.5 686L598.3 685.2L599 686.1L599.8 685L600.5 685.7L601.3 685.7L602 686.7L602.8 686.7L603.5 685.4L604.3 686.7L605 686.1L606.5 686.3L608 684.7L608.8 685.1L609.5 684.4L610.3 686.2L611.8 684.7L612.5 686L613.3 683.6L614 686.1L614.8 685.2L616.3 685.5L617 686L617.8 686.1L618.5 685.8L619.3 685L620 686.9L620.8 685.9L622.3 685.5L623 686.5L623.8 683.6L624.5 685.2L625.3 683.5L626 685.2L626.8 683.7L627.5 685.6L629 683.9L629.8 685.9L630.5 684.9L631.3 682.9L632.8 685.7L634.3 682.6L635 685.6L635.8 686.3L637.3 681.9L639.3 668.7L639.5 668.5L640.3 674.6L641.3 677.7L642 678L642.5 677.8L643.3 679.5L644 678.9L644.8 679.1L645.5 680L646.3 679.8L647 678.5L647.8 679.9L648.5 677.7L649.3 678.2L649.8 676.9L651.5 665.5L652 666.7L653.8 677L654.5 678.5L655.3 678.5L656 679.6L656.8 678.2L657.5 680L658.3 679.1L659.8 678.7L660.5 676.9L662 677.4L662.8 677.1L663.5 678.4L665 677.3L665.8 677.4L666.5 675.9L667.3 675.7L668 676.3L669.5 674.1L670.3 676.4L671 674.9L671.8 671.5L672.5 673.3L673.3 672.3L674 669.2L674.8 668.4L675.5 668.6L678.5 656.6L680.3 645.7L681.3 636.7L682.8 611.6L683.5 579L684 533.6L685.8 228L687.5 519.3L688 558.1L688.5 575.4L689 580.3L689.3 578.4L690 550.3L691.5 333.4L692 294.8L693.3 479.8L694 538.9L694.3 542.1L694.5 537.7L695.8 478.1L696 472.4L696.3 473.9L698 598.2L698.8 632.4L699.8 654L701.8 666.3L703.3 669.6L704.8 674.2L705.5 673.4L706.3 676.5L707 673.8L708.5 677.7L709.3 677.4L710 678.3L710.8 680.2L711.5 679.3L713 680.2L713.8 678.6L714.5 679.6L716 680.5L717.5 680L718.3 680.4L719.8 683.4L720.5 681.1L721.3 681.1L722 682.7L723.5 683.2L724.3 682L725.8 681.3L726.5 679.3L727.3 680.7L728 681.1L728.8 678.1L730.3 674.2L731 678.1L733.3 682L734 682.1L734.8 682.9L735.5 682L737 682.6L737.8 681.7L738.5 684.6L739.3 685.5L740 683.8L741.5 682.9L742.3 683.3L743 684.2L743.8 684.1L744.5 684.7L745.3 681.7L746 684L747.5 680.7L748.3 683.7L749.8 683.1L750.5 684L752 682.9L752.8 683.9L753.5 686L754.3 684.1L755 683.2L755.8 683.9L756.5 685.3L757.3 681.3L758 684.7L759.5 683.4L761 684.9L761.8 684L763.3 683L764 683.7L764.8 685.1L765.5 684.3L766.3 681.9L767 681.3L767.8 675.5L768 675.1L768.3 675.2L768.8 676.6L770 682.7L771.5 682.3L773 684.3L773.8 682.9L774.5 684.9L775.3 682.9L776 683.1L776.8 681.3L777.5 683.1L778.3 679.6L779.3 668.4L780.3 652.3L780.8 649.5L782.8 677.7L783.5 681.7L784.3 681.6L785 682.2L785.8 685.3L786.5 683L788 684.4L788.8 685.6L789.5 685.1L790.3 683.5L791.8 686.2L792.5 682.8L793.3 682.7L794 684.5L794.8 683.9L795.5 684.3L796.3 686.2L797 683.2L797.8 686L798.5 683.7L800 686.3L800.8 683.7L801.5 683L802.5 679L803.3 677.6L803.5 677.6L805 682.8L805.5 683.4L806 683.5L806.8 685.3L807.5 685.8L808.3 686.1L809 685.7L809.8 685L810.5 683.5L811.3 685.2L812 684.6L813.5 685.8L815 683.6L815.8 685.2L816.5 685L817.3 683.9L818 684.7L818.8 683.6L821 685.7L821.8 685.8"/>
<path stroke="#2e9fd6" stroke-width="3.10" d="M55.8 612.8L56 614.9L56.8 612.2L57.5 625.7L59 608.4L59.8 611.7L60.5 609.4L61.3 608.9L62 613.3L62.8 606.3L63.5 617.9L64.3 604.2L65 614.4L65.8 618L66.5 616.6L67.3 623.8L68 615.2L68.8 619.6L69.5 609.3L70.3 624L71 602L71.8 615.5L72.5 607.3L73.3 618.7L74 608.7L74.8 613.5L75.5 616.4L76.3 609.1L77 614.6L77.8 617.3L78.5 612.1L79.3 610.8L80 613.9L80.8 624.1L81.5 609.7L82.3 619.1L83 602.8L85.3 618.5L86 612.6L86.8 615.4L87.5 606.2L88.3 606.4L89 618.1L89.8 614.7L90.5 613.4L91.3 605.9L92 623.1L92.8 621.8L93.5 612.9L94.3 616.7L95 607.6L95.8 618.1L97.3 612.1L98 603L98.8 609.3L99.5 605.6L100.3 619L101 610.4L101.8 622.7L103.3 609.9L104 621.1L104.8 620.6L105.5 615.9L106.3 598.5L107 617.6L107.8 618.3L108.5 616.9L109.3 609.3L110 606.7L111.5 604.1L112.3 606.9L113 622.4L113.8 621.1L114.5 612.1L115.3 610.5L116 618.4L116.8 615.7L117.5 618.5L118.3 613L119 611L119.8 620.6L120.5 608.7L121.3 617.6L122 608.9L122.8 614.4L123.5 611.6L124.3 613L125 610.2L125.8 625.1L126.5 612.7L127.3 610.9L128.1 611.2L128.8 621.4L129.6 610.2L131.1 605.2L131.8 612.6L132.6 608.6L133.3 608.5L134.1 611.5L134.8 618.6L135.6 610.6L136.3 608.7L136.6 603.9L137.3 584.9L137.8 556.6L138.6 427.3L139.6 139L140.1 85.7L140.6 157.8L141.6 453.6L142.6 576.3L143.3 597L143.8 604.4L144.3 607.3L144.6 608.4L145.3 607.5L146.1 612L146.8 613.4L147.6 609L148.3 606.5L149.1 609.4L149.8 610.3L150.6 609.9L151.3 618.6L152.1 623.1L152.8 605.1L153.6 614.2L154.3 608.6L155.1 607.9L155.8 613.3L156.6 614.2L157.3 606.7L158.1 614.1L158.8 613.6L159.6 607.2L160.3 615.3L161.1 612.4L161.8 607L162.6 608.7L163.3 613.6L164.1 610.8L164.8 621.5L165.6 612.6L166.3 609.5L167.1 617.1L167.8 609.3L168.6 611.1L169.3 610L170.1 612.6L170.8 610.6L171.6 625.9L172.3 610.1L173.8 613.7L174.6 618.6L175.3 606.8L176.1 604.7L176.8 612.2L177.6 603.5L179.1 599.5L179.8 601.3L180.6 594.3L181.3 574.8L182.1 563L182.6 527.7L184.3 205.8L184.6 178.8L184.8 178.3L186.8 473.9L187.8 517.2L189.6 554.1L190.3 548.5L191.1 557L191.8 556.6L192.6 560.6L194.1 574.7L194.8 567.2L195.6 566.2L196.1 566.5L196.6 566.2L197.1 565.1L197.3 563.4L198.6 553.3L200.1 528.9L201.6 495.3L202.3 463.1L202.8 467.7L205.1 559.6L206.1 579.3L206.8 576.7L207.6 580.2L208.3 588.5L209.1 591.4L209.8 592.1L210.6 594.9L211.3 595.5L212.1 594.7L213.6 607.5L214.3 605.9L215.1 601.8L215.8 604.9L216.6 604.5L217.3 602.7L218.8 604.6L219.6 612.9L220.3 610L221.1 603.6L221.8 607.4L222.6 609.3L223.3 605.8L224.1 609.7L224.8 605.4L225.6 611.6L226.3 613.7L227.1 609.4L227.8 612.8L228.6 612.1L229.3 612.4L230.1 614.7L230.8 607.2L231.6 611.6L232.3 613.4L233.1 605L233.8 614.9L234.6 612L235.3 616.7L236.1 613.4L236.8 615.4L237.6 615.9L238.3 613.2L239.1 616.1L239.8 612.9L240.6 606.8L241.3 611.8L242.1 613.1L242.8 617.1L243.6 612.3L245.1 616L245.8 616.9L246.6 606.9L247.3 613.3L248.1 610.3L248.8 616.3L249.6 618.5L250.3 615.8L251.1 610.5L251.8 611.6L252.6 618.1L254.1 610.7L254.8 615.5L255.6 614.4L256.3 609.2L257.1 613.5L257.8 609.4L258.6 612.5L259.8 608.1L260.1 606.9L260.8 586.9L261.1 587.1L261.6 586.6L262.3 576.8L263.1 591.8L264.6 607.3L265.3 605.7L266.1 607.1L267.6 615.9L268.3 610.1L269.1 618.2L269.8 616.3L270.6 611.1L271.3 618.5L272.1 610.8L272.8 615.1L273.6 610.9L275.1 616.5L275.8 610.9L276.6 616.1L277.3 610.8L278.1 612.4L278.8 616.4L279.6 614.6L280.3 615.4L281.1 609.1L281.8 619.1L282.6 610.4L283.3 607.7L284.1 612.8L284.8 612.4L285.6 618.1L287.1 611.3L287.8 609.9L288.6 615.9L289.3 613.2L290.1 612.2L290.8 606.1L291.6 616.6L292.3 613.1L293.1 615.5L293.8 614.2L295.3 608.9L296.1 615L296.8 616L297.6 610.5L298.3 612.1L299.1 617.7L299.8 613.1L300.6 615.6L301.3 610.2L303.6 614.2L304.3 610.3L305.1 613.7L305.8 613.7L306.6 609.3L307.3 615.1L308.1 616.6L308.8 607L309.6 616L310.3 609.7L311.1 618.2L312.6 608.6L313.3 620.2L314.1 617.8L314.8 619.8L315.6 613.6L316.3 618.6L317.8 613.6L318.6 616L319.3 615.9L320.1 613.9L320.8 613.5L321.6 617.2L322.3 611.2L323.1 619.9L323.8 612.8L324.6 613.7L325.3 612.8L326.8 619.1L327.6 612.8L328.3 617.1L329.1 612.4L329.8 615.8L330.6 614.4L331.3 615.7L332.1 613.4L332.8 618.5L333.6 612.3L334.3 617.4L335.1 615.4L335.8 611.8L336.6 612.5L337.3 615.3L338.1 608.1L338.8 608.2L339.6 598.5L340.3 608.3L341.1 603.3L341.8 613.4L342.3 614.3L342.8 614.5L343.3 614.1L344.1 612.8L344.8 612.9L345.6 608.1L346.3 617.7L347.1 609.1L347.8 610L348.6 608.1L349.3 609.2L350.1 613.2L350.8 609.2L351.6 617.4L352.3 614.1L353.1 615.2L353.8 612.3L354.6 615.1L355.3 616.4L356.8 610.4L357.6 615.9L359.1 615.7L359.8 611.8L360.6 613.5L361.3 611.8L362.1 614.7L362.8 611.4L363.6 611.7L364.3 615.9L365.1 618.1L365.8 617.4L366.6 609.4L368.1 616.3L368.8 615.8L369.6 612.9L370.3 615.5L372.6 612L373.3 616.1L374.1 614.3L374.8 609L375.6 612.1L376.3 613.6L377.1 612.3L378.6 615.2L379.3 611.6L380.1 610.8L380.8 617.2L381.6 612.3L382.3 615.5L383.1 614.9L383.8 613.2L384.6 608.7L386.1 618L387.6 617.1L388.3 614.7L389.8 615.3L390.6 609.4L391.3 613.5L392.1 611.7L392.8 615.1L393.6 612.9L395.1 614.2L395.8 613.8L396.6 610.7L397.3 613.3L398.1 613.4L398.8 619.6L399.6 613.1L400.3 609.8L401.1 617.3L401.8 612.7L402.6 611.3L403.3 615.4L404.1 610.6L404.8 608.5L405.6 614.6L406.3 607.9L407.1 608.2L408.6 618.9L409.3 611.9L410.1 612.5L410.8 618.2L411.6 611.9L412.3 614.5L413.1 613.9L413.8 618.7L414.6 613.4L415.3 615.1L416.1 614.4L416.8 614.9L417.6 617.3L418.3 614.3L419.1 614.2L420.6 617L421.3 608.9L422.1 614.3L422.8 617.1L423.6 610.7L425.1 602.5L425.8 606.2L426.6 598.8L428.8 614.5L430.3 608.4L431.1 613L431.8 611.3L432.6 611.5L433.3 616.7L434.1 609.4L434.8 617.2L435.6 609.7L436.3 612.7L437.1 611.7L437.8 611.6L438.6 612.6L439.3 614.5L440.1 611.2L440.8 605.2L441.6 612.8L442.3 613L443.1 618.8L443.8 615.1L444.6 613.5L445.3 613L446.1 614.6L446.8 614.5L447.6 616.5L448.3 613L449.1 613.3L449.8 610.3L450.6 616.1L451.3 618.2L452.1 613.5L452.8 613.5L453.6 616.5L454.3 612.5L455.1 617.3L455.8 616.1L456.6 614L457.3 613.5L458.1 618.5L460.3 612.7L461.1 608.4L461.8 613.4L462.6 614.9L463.3 611.6L464.1 604.6L464.8 611.2L465.6 612.2L467.1 616.6L467.8 611.3L468.6 613.1L469.3 610.7L470.1 614.4L470.8 610.1L471.6 612.2L472.3 619L473.1 613.5L473.8 615.7L474.6 614L475.3 608.8L476.1 610.2L476.8 609.8L477.6 612.1L478.3 609.5L479.8 613.4L481.3 606.8L482.1 611.1L482.3 609.6L483.6 596.4L485.1 564.5L486.3 522.2L486.6 516.7L486.8 514.1L487.1 513.9L487.6 521.2L490.1 591L490.8 601.9L491.6 606.1L492.1 606.9L492.6 607L493.3 605.7L494.1 610.8L494.8 610.8L495.6 616.2L496.3 611.8L497.1 609.8L497.8 614.9L498.6 609.3L499.3 618L500.1 610.1L500.8 613.4L501.6 610.4L502.3 618.2L503.1 614.2L503.8 616L505.3 612.6L506.8 616.6L507.6 611.5L508.3 613.5L510.6 611.2L511.3 612L512 615.6L512.8 613.2L513.5 612.9L514.3 608.8L515 611.5L515.8 611.9L516.5 613.8L517.3 611.2L518 610.4L518.8 613L519.5 607.7L520.3 608.4L521 611.5L521.8 611.3L523.3 604L524.8 600.4L525.3 594.8L526.3 574.7L526.8 548.8L527.5 455.6L528.8 182.3L529.3 135.3L529.8 184.8L531.3 495.2L532 567.7L532.5 586.5L533.3 595.9L533.8 599.3L534.5 601L535.3 606.9L536 607.3L537.5 611.2L538.3 607.5L539 610.2L540.5 613.3L541.3 613.3L542 612.4L542.8 616.4L543.5 612.2L544.3 616.7L545 611.9L545.8 613.2L546.5 613.6L547.3 612.4L548 612.5L548.8 614.9L549.5 615.4L551 610.5L552.5 614.9L554 608.8L554.8 612.9L555.5 614L556.3 612.1L557 614.6L557.8 609.5L558.5 607.5L559.3 607L560 605.9L561.5 597L563 596.7L563.8 590.9L564.5 588.9L565.5 582.3L566 580.9L566.8 585.6L568.3 605.2L569.5 610.4L569.8 611.2L570.3 611L570.8 609.1L572.3 592.5L572.5 592.7L573.3 598.2L574.3 609.8L576.5 616.6L577.3 612.7L578 614.5L578.8 611.8L580.3 615.4L581 612.5L581.8 614.6L582.5 615.6L583.3 615.2L584 614L584.8 616L585.5 613.8L586.3 614.1L587 613.4L587.8 611.6L588.5 615.5L589.3 612.4L590 612.7L590.8 610.4L591.5 611.4L592.3 614.4L593 613.7L593.8 608L594.5 612.5L595.3 614.7L596 615.8L596.8 615.9L598.3 611.4L599 615.7L599.8 609.7L600.5 615.9L601.3 614.2L602 617.3L602.8 614.2L603.5 617.4L604.3 617L605 612L605.8 614.9L606.5 613.2L608 617.4L608.8 612.7L609.5 613.2L610.3 614.4L611 614.5L611.8 613.4L612.5 613.6L613.3 615.8L614 609.7L614.8 612.9L615.5 612.5L616.3 614.4L617 613.9L617.8 614.8L618.5 612L619.3 613.5L620 617.3L620.8 611.7L622.3 615L623 613L623.8 612.3L625.3 612L626 614.4L626.8 612.2L627.5 616.4L628.3 615.9L629 609.4L629.8 612.8L631.3 612.8L632 612.2L632.8 612.6L633.5 614.4L634.3 610.5L635 613.2L635.8 611.1L636.5 611.2L637.3 615.2L638 613.4L640.3 612.4L640.5 611.2L643.3 585.2L643.8 587.2L645.5 604.2L646 604.6L647.8 604.4L648.5 602.5L649.3 608.3L650 603.7L650.8 605.6L651.5 603.3L652.3 606.5L653 599.3L654.5 589L654.8 588.7L657.5 603.6L658 603.7L659 603.1L659.8 602.9L660.5 603.7L661.3 601.4L662 605.1L662.8 604L663.5 604.3L664.3 604.2L665 602.8L665.8 602.9L667.3 603.9L668.8 605.6L669.5 599.9L670.3 604.9L671 603.4L671.8 606.2L672.5 598.7L673.3 601.8L674 602.2L674.8 600.3L675.5 599.6L676.3 599.9L677.8 595.4L678.5 597.6L679.3 597.2L680 598.8L680.8 592.4L681.5 596L682.3 589.6L683 589L683.8 584.1L684.5 581.4L686 569.4L687.5 549.5L688.3 526.8L689 467.5L690.3 249L690.5 219.2L690.8 215.4L692.3 456.4L692.8 499.9L693.5 530.8L694 533.2L694.5 530.8L695 522.2L696.8 445.9L698.3 515.9L698.8 528.1L699 527.9L699.3 524.8L700.5 491.8L700.8 489.2L701 490.3L703.5 576.7L704.3 586.6L706.5 598.1L707.8 601.2L708.5 597.2L709.3 602.8L710 600.8L710.8 605.4L711.5 601.5L712.3 602.5L713 602.9L713.8 605.5L714.5 601.2L716 606.7L716.8 604.4L717.5 604.7L718.3 606L719 605.4L719.8 606L720.5 610.2L721.3 607.5L722.8 609L723.5 606.3L725 609.3L725.8 608.8L726.5 605.2L727.3 608.7L728 607.8L728.8 609.2L729.5 609.4L730.3 608.7L731 608.9L731.8 608.3L732.5 606L733.3 608.2L734 602.7L734.5 602.3L735 602.2L736.3 605.4L737 610.4L737.8 611.1L738.5 610.2L740 609.4L740.8 610.5L741.5 610.4L742.3 608.6L743 607.9L743.8 611.7L744.5 608.8L745.3 612.8L746 609.8L746.8 611.6L747.5 611.3L748.3 607.8L749 608.6L749.8 610.9L750.5 609.3L752.8 610.4L753.5 608.2L754.3 607.9L755 614.3L757.3 611.6L758 611.1L758.8 612L759.5 613.8L760.3 608.9L761 611.4L761.8 611.3L762.5 610.2L763.3 612.6L764 609.7L764.8 610.3L765.5 611.9L766.3 609.6L767 608.6L768.5 613.1L769.3 611.5L770 608L770.8 612L771.5 608.5L772.3 609L773 605.9L773.8 609.7L774.5 609L775.3 605.5L776 604.6L777.5 595.8L778.3 598.5L779 599.3L779.8 597.8L780.5 598.6L781 598L782.3 593.6L783.8 583.6L784.3 582.4L785 590.3L785.8 590.7L786.5 600.4L787.3 605.6L788 606.3L788.8 605.8L790.3 611.2L791 610.8L791.8 609.5L792.5 611.7L793.3 608.2L794 611.9L795.5 611.9L796.3 610.6L797 610.8L797.8 614L798.5 608.1L799.3 611.1L800 610.6L802.3 612.8L803 611.1L803.8 612.2L804.5 611.1L805.3 611.6L806 613.1L806.8 613.1L807.5 607.7L808.3 609.3L809 607.6L810.5 608L811.3 608.9L812 609.2L812.8 605.8L813.5 605.9L814.3 607.6L815 605.7L815.8 605.3L816.5 605.6L817.3 607.2L818 606.3L818.8 609.1L819.5 609.5L820.3 609.7L821 607.5L821.8 610.3"/>
<path stroke="#3d7be0" stroke-width="3.10" d="M55.8 567.3L56 565.8L56.8 564L57.5 566.5L58.3 561.7L59.8 566L61.3 565.6L62 562.5L62.8 561.8L63.5 565.4L64.3 566.5L65 564.1L65.8 563.1L66.5 565.6L67.3 567L68.8 563.5L69.5 568.2L71 564.6L71.8 564.9L72.5 563.6L73.3 567.3L74 563.9L74.8 563.1L75.5 564.9L76.3 568.5L77 561.4L77.8 562.8L78.5 566.5L79.3 565.6L80.8 565.1L81.5 564.4L82.3 565.7L83 565.6L84.5 563L85.3 563.8L86 561.1L86.8 565.8L87.5 565L88.3 567L89 567.2L89.8 564.8L90.5 566L91.3 564.5L92 566.1L92.8 562.9L93.5 565.1L94.3 564.4L95 565.7L95.8 565.2L96.5 563.1L97.3 567.5L98.8 563.6L99.5 566.1L100.3 563.8L101 563.1L101.8 566.9L102.5 565.9L103.3 563.3L104.8 566.9L105.5 565.3L106.3 565.8L107 564.9L108.5 567.6L110 564.6L110.8 564.4L111.5 565.6L112.3 564.8L113 565.9L114.5 565.8L115.3 565.4L116 566.5L116.8 566.8L117.5 561.2L118.3 562L119 564.9L119.8 565.8L120.5 565.9L121.3 562.9L122 563.7L122.8 562.9L123.5 566.5L125 561.4L125.8 564.3L126.5 563.6L127.3 566.1L128.1 563.6L128.8 563.4L129.6 563.7L130.3 565.9L131.1 562.7L131.8 563.4L132.6 562.9L133.3 563.6L134.1 565.5L134.8 564.5L135.6 565.9L137.1 562.6L137.8 564.9L138.6 561.7L139.3 563.9L140.8 557.5L141.6 559.5L142.6 553.5L143.1 548.4L143.6 533.2L144.3 448.9L145.6 -8L147.3 -8L148.3 397.6L149.1 515.1L149.8 537.9L150.1 538L150.6 537.5L152.8 557.8L153.6 560.4L154.3 560.6L155.1 563.8L155.8 563.9L156.6 561L157.3 563.8L159.6 562.1L160.3 564.2L161.1 563L161.8 560.8L162.6 564.8L163.3 563.8L164.1 564.1L164.8 562.1L166.3 563.1L167.1 565.1L167.8 565.2L168.6 563.8L169.3 567.4L170.1 563.6L170.8 561.9L171.6 565.9L172.3 562.7L173.1 563.2L173.8 565.2L174.6 562.1L175.3 563.7L177.6 566L178.3 563.2L179.1 565.2L179.8 561.1L180.6 562.2L182.8 563L183.6 564.1L184.3 562.8L185.1 562.9L185.8 561L186.6 556.2L187.1 557.5L187.3 557.4L188.1 541.9L188.8 499L190.6 285.5L191.1 258.8L191.3 260.3L191.6 272.5L192.8 382.7L193.6 421.6L194.6 445.3L196.3 461.2L201.8 492.4L202.3 494.8L203.8 498.6L204.6 502.2L206.1 506.8L206.8 511.5L208.3 514.1L209.1 516.9L210.6 518.1L211.3 519.5L212.1 522L212.8 523.1L213.6 526.7L214.3 527.6L215.1 527.8L215.8 529.9L216.6 530.7L218.1 535.2L218.8 532.2L219.6 536.1L220.3 535.4L221.8 536.8L222.6 540.9L223.3 538.6L224.1 542L224.8 541L225.6 540.6L227.1 544.7L227.8 546L228.6 543.4L229.3 545.1L230.8 545.5L232.3 547.3L233.1 546.3L233.8 548.7L234.6 546.8L236.1 550.6L236.8 548.8L237.6 549.3L238.3 551.3L239.1 549.7L239.8 548.8L240.6 550.3L242.1 550.3L242.8 549.6L243.6 553.5L245.1 551.5L245.8 552.3L247.3 552.5L248.1 554.3L248.8 554.6L249.6 552.4L251.8 552.9L252.6 557.2L253.3 554.8L254.1 555.3L254.8 556.9L255.6 554.5L256.3 553.8L257.1 557.4L257.8 555L258.6 557.1L259.3 555.7L260.1 558.9L262.3 555.5L263.1 556.3L263.8 555L264.6 556.6L265.3 555.9L266.1 558.4L267.6 558L268.3 560.3L269.1 558.1L269.8 559.1L270.6 558.8L271.3 557.7L272.1 557.3L272.8 560.5L273.6 557.4L274.3 559.1L275.1 558.3L276.6 561L277.3 557.9L278.8 560.7L279.6 558.5L280.3 557.9L281.1 559.2L281.8 559.3L282.6 560.3L283.3 558L284.1 560.1L284.8 558L285.6 560.2L286.3 559.6L287.1 557.9L287.8 560.8L288.6 559.5L289.3 561.8L290.1 561.1L290.8 559L291.6 558.9L292.3 560.2L293.1 559.3L293.8 563.1L295.3 560.6L296.1 561.2L296.8 560.4L297.6 561.5L298.3 559.4L299.8 561.9L300.6 559L301.3 561.3L302.1 560.6L302.8 562.8L303.6 562.4L304.3 559.9L305.1 559.8L305.8 561L306.6 563.6L307.3 563.4L308.8 562.1L309.6 561.9L310.3 562.9L311.1 562.4L311.8 561.1L312.6 561.5L313.3 563.1L314.1 564L315.6 560.9L316.3 561.8L317.1 561.5L317.8 563.1L318.6 562.7L319.3 561.5L320.1 564.2L321.6 561.9L322.3 562.9L323.1 562.6L323.8 564.4L325.3 563.5L326.1 564.2L326.8 564.2L327.6 562.2L329.1 562.4L329.8 563.4L330.6 561.9L331.3 564.5L332.1 561L332.8 562.1L333.6 561.1L334.3 563.7L335.1 562.1L335.8 563.2L336.6 563.6L337.3 564.9L338.8 563L339.6 563L340.3 563.9L341.1 563.7L341.8 564.9L342.6 562.8L343.3 563.8L344.8 564L345.6 565.6L346.3 564L347.1 563.5L348.6 564.2L349.3 563.2L350.8 564.9L351.6 564.4L352.3 562.7L353.1 562.8L353.8 564.5L354.6 564.5L356.8 563.3L357.6 563.9L358.3 562.7L359.1 562.4L360.6 564.9L361.3 564L362.1 564.5L362.8 564.1L363.6 565.1L364.3 564L365.1 564.5L365.8 565.9L366.6 563.5L367.3 565.4L368.1 563.3L368.8 566L369.6 564.2L370.3 563.4L371.1 564L371.8 565.4L372.6 563.5L374.1 565.2L374.8 563.5L375.6 564L376.3 564L377.1 563.4L377.8 563.9L378.6 564.9L379.3 563.2L380.1 563.9L380.8 565.2L381.6 564.1L382.3 564.3L383.1 565.7L383.8 564L384.6 564.6L385.3 564.1L386.1 564.8L386.8 563L388.3 564.3L389.1 565.5L389.8 564L390.6 564.2L391.3 565.1L392.1 562.6L392.8 565.1L393.6 564.8L394.3 566.5L395.8 563.8L396.6 564.5L397.3 564.4L398.1 564L398.8 562.4L399.6 563.7L400.3 564.1L401.8 564.2L402.6 563.6L403.3 564.6L404.1 563.4L404.8 563.3L405.6 563.9L406.3 565L407.1 565.1L407.8 564.8L408.6 565.5L409.3 565.6L410.1 564.6L410.8 565L411.6 563.1L413.1 566.1L413.8 564.8L414.6 565L415.3 564.4L416.1 565.2L417.6 563.7L419.1 565.2L419.8 567.6L420.6 564.6L421.3 563.7L422.1 565.1L422.8 565.3L423.6 564.5L424.3 564.5L425.1 563.1L425.8 565.2L426.6 562.9L428.1 564.4L428.8 566.5L429.6 565.2L431.8 565.2L432.6 564L433.3 565L434.1 563.6L434.8 565.2L435.6 562.9L436.3 564.1L437.1 566.2L439.3 564.8L440.1 565.1L440.8 564.4L441.6 565.1L443.1 564.8L443.8 563.2L444.6 562.6L445.3 564.2L446.1 564.7L446.8 564.8L447.6 563.7L448.3 565.2L449.1 564.5L450.6 565.7L451.3 563.2L452.1 566.3L452.8 564.8L453.6 564.4L454.3 566.8L455.1 564.5L455.8 564.1L457.3 564.7L458.1 563.5L458.8 563.4L459.6 565.3L460.3 563.7L461.1 563.7L461.8 564.3L462.6 564.1L463.3 564.9L464.1 563.9L464.8 564.7L465.6 563.2L467.1 563.8L468.6 565.8L469.3 565.2L470.1 563.2L470.8 566L471.6 563.5L472.3 564.1L473.8 564.4L474.6 565.6L475.3 566L476.1 565.1L476.8 565.6L477.6 563.5L478.3 565.9L479.1 562.9L479.8 563.8L480.6 564L481.3 563L482.1 565.4L482.8 564.2L483.6 561.4L484.6 561.8L485.8 560.9L486.6 555.9L487.1 549.6L487.8 524.2L489.1 430.8L489.6 415L491.3 530.1L492.1 551.1L492.8 558.8L494.8 563.7L495.6 562.8L497.1 563.7L497.8 562.4L498.6 563.5L499.3 564L500.8 563.7L501.6 566L502.3 564L503.8 563.9L504.6 564.9L505.3 564.3L506.1 564.3L506.8 562.6L507.6 562.9L508.3 564.8L509.1 563.9L509.8 564.9L510.6 563.8L511.3 563.8L512 563.2L512.8 564.3L513.5 564.5L514.3 563.4L515 565.2L515.8 564.6L516.5 566.2L517.3 562.9L518 566L520.3 563.1L521 563.7L521.8 563.5L522.5 561.7L523.3 563.4L524.8 563.7L526.3 560.6L527 561.7L527.8 561.3L528.5 563.6L529.3 560.6L530.8 558.5L531.5 558.6L532.3 557.7L533.8 550.5L534.8 537L535.3 518.2L536.3 395.8L537.5 8.8L537.8 -8L538.8 -8L539 7.3L540.3 395.8L541 500L541.8 530.2L542.3 533.4L542.8 532.7L543.3 530.5L543.5 530.8L545.3 553.3L546.5 561.9L547.3 560.6L548.8 561L549.5 561.9L550.3 561.8L551 561.3L551.8 563.6L552.5 564L554 563L554.8 563.9L555.5 563.1L556.3 563.1L557 564.1L557.8 564.4L558.5 560.7L559.3 559.9L560.8 562.1L561.5 563.8L562.3 564.6L563 564.2L563.8 564.5L564.5 564.3L565.3 564.5L566 564L566.8 565.5L568.3 563L569 564.3L569.8 564L570.5 563L571.5 557.6L573 543.3L573.5 540.6L574.3 545.7L575.5 561.4L575.8 563.4L576.5 565.5L577.3 565.4L578 564.4L578.8 565L580.3 563.8L581 565.1L581.8 563.6L583.3 564.3L584 565.1L584.8 563.3L585.5 564.4L586.3 563.5L587 563.3L588.5 566.2L589.3 566.4L590 563.2L590.8 563.4L591.5 564.5L592.3 563.1L593 566.5L593.8 564.4L594.5 564.8L595.3 564.5L596 565.5L596.8 564.3L598.3 565.1L599 563.8L599.8 565.5L600.5 564.3L601.3 565.5L602.8 565.4L603.5 564.9L604.3 565.6L605 563.4L605.8 565.1L606.5 563.9L608 564.5L608.8 564.5L609.5 565.6L610.3 563.6L611 566.9L611.8 564.2L612.5 565.8L613.3 565.7L614 564.8L614.8 566.9L615.5 565.3L616.3 566.9L617 566.2L617.8 566L620 563.3L620.8 563.2L621.5 565.8L622.3 563.8L623 565.3L623.8 564.2L624.5 565.3L625.3 564.1L626 564.8L626.8 564.7L627.5 563.1L628.3 566.7L629 565L629.8 564.6L630.5 565.7L631.3 564.5L632.8 565.1L633.5 563L634.3 563L635 564.5L635.8 564.2L636.5 565.2L637.3 564.5L638.8 564.9L639.5 564.7L640.3 563.5L641 565L641.8 565.7L642.5 563.5L644 563.7L644.8 564.4L645.5 563.8L646.3 565.9L647 564.7L647.8 564.2L648.5 564.4L649.8 561.8L651.3 547.4L651.8 545L652.3 546.5L653 553L653.3 553.2L653.8 553L654.5 554.4L655.3 553.3L656 554.5L656.8 554.9L657.5 556L658.3 554.7L659 557.4L659.8 556.9L660.5 555.1L661.3 555.2L662.8 557.6L663.5 555L664.3 556.3L665 555.7L665.8 557.1L666.5 555.9L668 554.3L668.8 555.9L670.3 555.7L671 556.5L671.8 556.4L672.5 557.9L673.3 557L674 555L674.8 556.5L675.5 556.4L677 555.2L677.8 556.1L678.5 554.2L679.3 555L680 553.2L680.8 554.1L681.5 553.7L683 555.1L683.8 553.6L684.5 554.4L685.3 553.5L686 554.2L686.8 554L687.5 551.8L689 549.9L689.8 549.4L690.5 550.7L692.8 543.9L693.5 543.7L695.8 533.3L697.5 514.6L698.8 492.4L699.8 451.5L701 345.6L702.8 73L703.3 40.2L703.8 72.1L705.5 346.7L706.5 436.6L708 499L709.8 527.5L710.5 533.4L713 544.1L714.5 549.1L716 550.6L717.5 552.7L718.3 552.7L719 555.3L719.8 555.1L720.5 556.5L721 556.9L721.3 557.1L722 556.7L722.8 557.4L723.5 559.4L724.3 556.3L725 558.8L725.8 557.6L726.5 558.1L727.3 560.3L728 556.5L728.8 560.1L729.5 557.9L731 559.8L732.5 558.6L733.3 559.4L734 561.4L734.8 558.1L735.5 560.3L736.3 561.6L737 560.5L737.8 560.9L738.5 560.6L739.3 561L740 560.3L740.8 562.3L741.5 562.5L742.3 560L743 561.4L743.8 561.2L744.5 562.4L745.3 560.4L746 561.5L746.8 561.8L747.5 562.5L748.3 562.2L749 559.7L749.8 563.1L750.5 561L751.3 562L752.8 561.9L753.5 562.1L754.3 563.7L755.8 562.2L756.5 563.3L758 564.3L758.8 562.6L759.5 561.8L760.3 562.4L761 563.7L761.8 563.2L762.5 561L763.3 564.2L764 562.7L764.8 562.2L765.5 562.7L766.3 564.9L767 562.5L767.8 563.2L768.5 561.1L769.3 562.7L770 562.3L770.8 563.4L771.5 563.8L772.3 562.6L773 563.1L773.8 562.5L774.5 563.7L775.3 561.4L776 563.3L776.8 564.2L778.3 561.2L779 561.4L779.8 564.1L780.5 562.3L781.3 562.8L782 565.2L782.8 564.1L783.5 564.8L784.3 564.4L785 563.5L785.8 561.4L786.5 563L788 558.9L789.3 558L789.5 557.4L790.5 545.1L791.8 516.8L792.3 511.1L794.5 552.4L795.3 557.4L796.3 561.8L797 563.6L797.8 564.1L798.5 562.9L800 565.5L800.8 561.5L801.5 563.2L802.3 562.5L803 565L803.8 562.9L804.5 562.4L805.3 564.8L806 562.9L806.8 565.7L807.5 565.4L808.3 564.3L809 564.5L809.8 564L810.5 564.8L811.3 564.9L812 564.2L812.8 565L813.5 563.9L814.3 563.9L815 565.6L815.8 564.9L816.5 566L817.3 563.8L818 565.9L819.5 564.8L821 565.7L821.8 566.9"/>
<path stroke="#4052ea" stroke-width="3.10" d="M55.8 496.7L56 497.8L57.5 492.7L58.3 494.3L59.8 502.1L60.5 499.4L62 480L62.8 490.7L63.5 491.6L64.3 502.5L65.8 486.6L66.5 504L67.3 503.6L68.8 488.4L70.3 497.7L71 498.2L71.8 491.8L72.5 492.5L73.3 506.5L74 485.9L74.8 506.4L75.5 490.5L76.3 504.6L77 499.9L77.8 500.2L78.5 497.6L79.3 507.1L80 499.8L80.8 496.6L81.5 488.2L82.3 499.6L83 498.9L84.5 487.1L85.3 497.4L86 498.5L86.8 495L87.5 506.5L88.3 500.5L89 487.4L89.8 488.5L90.5 509.5L91.3 499.4L92 500.9L92.8 493.1L93.5 496L94.3 494.7L95 489L95.8 487L96.5 494.2L97.3 495.1L98 490.6L98.8 496L99.5 491.9L100.3 510.2L101 489.8L101.8 510.2L102.5 497L103.3 500L104 495.7L104.8 498.4L105.5 503.4L106.3 496.4L107 495.9L107.8 498.2L108.5 498.6L110 508.5L110.8 492L111.5 498.4L113 492.6L113.8 491.8L114.5 490.1L115.3 492L116 492.5L116.8 507.3L117.5 509.6L118.3 497.7L119 507.6L119.8 484.8L120.5 510L121.3 488.1L122 496.3L122.8 490.5L124.3 501.3L125 492.7L126.5 503.9L127.3 503.4L128.1 500.4L128.8 499L129.6 495.5L130.3 495.6L131.8 486.7L132.6 491.3L133.3 490.9L134.1 503.8L134.8 494.8L135.6 499L136.3 487.7L137.8 490.9L138.6 489.3L139.3 493.2L140.1 480.2L140.8 490.6L141.3 489.5L143.1 476.4L143.8 479.9L144.6 475.4L145.3 462.2L146.1 465.6L147.3 414.4L149.1 313.7L149.8 345.1L150.6 415.8L151.3 432.4L152.1 462.6L152.3 463.7L152.8 464.2L153.6 482.1L154.3 480.9L155.1 485.3L155.8 480L156.6 485.3L157.3 478L158.1 480.4L158.8 489.6L159.6 492.7L160.3 480.8L161.1 488.7L161.8 491.2L162.6 498.4L163.3 492.3L164.1 492.1L164.8 496.5L165.6 499L166.3 491.5L167.1 496.6L167.8 499.2L168.6 498.8L170.1 488.8L170.8 492.3L171.6 500.4L172.3 494.9L173.1 500.5L173.8 496.7L174.6 499L175.3 487.7L176.1 490.4L176.8 486.2L178.3 499.3L179.1 489.6L179.8 494.3L180.6 492.7L181.3 500.3L182.1 494.7L182.8 504.9L183.6 498.6L184.3 501.5L185.1 493.6L185.8 501.7L186.6 485.3L187.3 482.6L188.1 490.3L188.6 483.9L189.3 464.8L190.1 404.8L191.3 240.1L191.8 216L193.1 314.5L194.1 367.2L195.6 390.2L197.1 398.3L198.6 418.5L199.3 415.5L200.1 415.8L200.8 409.4L202.3 432.2L203.1 438.2L203.8 442.2L204.6 438.7L206.1 453.4L206.8 452.7L207.6 456.4L208.3 456.6L209.1 453L210.6 467.3L211.3 463.5L212.1 457.3L212.8 461.2L213.6 469.5L214.3 473.4L215.1 475.4L215.8 466.5L216.6 477.2L217.3 472.1L218.1 477.1L218.8 474.9L219.6 483.1L220.3 473.1L221.1 479.3L221.8 482L222.6 478.2L223.3 481.3L224.1 488.1L224.8 483.7L225.6 488.8L226.3 482.6L227.8 478.8L228.6 489.2L229.3 485.6L230.1 490.7L230.8 487L231.6 487.7L232.3 491.2L233.1 491.4L233.8 487.1L234.6 493.7L235.3 489L236.1 490.2L236.8 499.3L237.6 498.5L238.3 492.2L239.1 490.7L239.8 486.7L240.6 488.1L241.3 493.4L242.8 490.3L243.6 493.2L244.3 492.1L245.1 495.5L245.8 489.4L246.6 493.5L247.3 485.4L248.1 493.3L248.8 494.1L249.6 488.2L251.1 494.8L251.8 490.2L253.3 501.2L254.1 489L254.8 498.9L256.3 491.8L257.1 501.2L257.8 494.4L258.6 497.2L259.3 493.6L260.1 492.3L260.8 488L261.6 492.8L262.3 503L263.1 492.1L263.8 492.6L264.6 492.2L265.3 497.9L266.1 492.9L266.8 493.9L268.3 493.9L269.1 495.9L269.8 491.3L270.6 489.1L271.3 496.2L272.1 499.7L272.8 498.1L273.6 494.7L274.3 489.3L275.1 500.5L275.8 494.1L276.6 492.4L278.1 503.6L278.8 491.6L279.6 496.9L280.3 496.8L281.1 495.1L281.8 502L283.3 489.3L284.1 495.1L284.8 496.5L285.6 501.6L286.3 499.1L287.1 499.7L287.8 502.6L288.6 493.3L289.3 499.3L290.1 501.5L290.8 497.4L291.6 495.5L292.3 495.2L293.1 498.9L293.8 491.4L294.6 499.4L295.3 492.5L296.1 498.2L296.8 496.2L297.6 499.8L298.3 491.2L299.1 491.1L299.8 499L301.3 494.3L302.1 495.7L302.8 501.8L303.6 494L305.1 497L306.6 496.5L307.3 493.8L308.8 498.6L309.6 497.5L310.3 502.2L311.1 494.7L311.8 499.1L312.6 499L313.3 497.3L314.1 494L314.8 494.7L315.6 491.1L316.3 495.2L317.1 493.1L317.8 502.5L318.6 497.5L319.3 499.1L320.1 492.3L320.8 495.5L321.6 492.6L322.3 495.9L323.1 502.2L324.6 498.8L325.3 494.6L326.1 502.9L327.6 492.1L328.3 498.5L329.1 500.7L329.8 499.5L331.3 492.2L332.1 496.9L332.8 495.4L333.6 500.7L334.3 500.4L335.1 498.3L335.8 497.8L336.6 494.3L337.3 501.5L338.1 495.3L338.8 494.8L339.6 500.6L340.3 496L341.1 499.1L341.8 494.4L342.6 493.7L343.3 500.2L344.1 496.4L344.8 497.3L345.6 492.4L346.3 495L347.1 490.4L347.8 505.4L348.6 492.7L350.1 499.3L350.8 498.9L351.6 494.7L352.3 498.2L353.8 494L354.6 495.9L355.3 496.3L356.1 500.3L357.6 492.8L358.3 500.5L359.1 492.8L360.6 497.6L361.3 498.7L362.1 493.6L362.8 501.3L363.6 494.8L364.3 495.3L365.1 493.9L365.8 493.6L366.6 498.8L367.3 499.9L368.1 495.5L368.8 501L369.6 502.6L370.3 495.5L371.1 495.5L371.8 492.7L373.3 498.4L374.1 496L374.8 494.9L375.6 497.9L376.3 494.4L377.1 496.9L378.6 490.4L379.3 503L380.1 495L380.8 497.9L381.6 496.4L382.3 496.3L383.1 498.8L383.8 497.1L384.6 500.8L385.3 494.9L386.1 495.7L386.8 500.6L387.6 496.5L388.3 494.8L389.1 499.7L389.8 495.3L390.6 496.8L391.3 493.7L392.1 498.5L392.8 494.3L393.6 497.2L394.3 497.7L395.1 500.1L395.8 495.8L396.6 500L397.3 498.8L398.1 499.4L398.8 490.6L399.6 498.5L400.3 503.1L401.1 498.3L401.8 497.8L402.6 499.8L403.3 497.1L404.1 498.7L404.8 498.9L405.6 498L406.3 500.3L407.1 496.8L407.8 495.5L408.6 500.8L409.3 498.2L410.1 499.3L410.8 494.3L411.6 493.9L412.3 498.1L413.1 491.3L413.8 497.4L414.6 497.7L415.3 496.6L416.1 493.7L416.8 496L417.6 492.9L418.3 496.9L419.1 491.6L419.8 501L420.6 492.5L421.3 493.2L422.1 498L422.8 498.2L423.6 502.2L424.3 497.1L425.1 500.9L425.8 500.9L427.3 497.5L428.1 499.8L428.8 497.7L429.6 498.7L430.3 497.2L431.1 496.9L431.8 497.8L432.6 501.8L433.3 494L434.1 496.7L434.8 495.1L435.6 496.3L436.3 491.8L437.1 500.5L437.8 500L438.6 496.7L439.3 501.9L440.1 498.3L440.8 496.2L441.6 496.9L442.3 502.1L443.1 497.5L443.8 497.9L444.6 495.8L445.3 499.5L446.1 494.4L446.8 499.1L447.6 494.8L448.3 497.5L449.8 494.3L450.6 501.9L451.3 496.3L452.1 493.7L452.8 500.5L453.6 490.3L454.3 492.3L455.1 490.9L455.8 502.5L456.6 495.8L457.3 496.3L458.1 502.3L458.8 494.5L459.6 497.2L461.1 491.3L462.6 496.4L463.3 494.1L464.1 498L464.8 499.1L466.3 493L467.8 492.7L468.6 502.5L469.3 496.1L470.1 495.1L470.8 496.4L471.6 494.5L472.3 499L473.1 494.5L473.8 495.3L474.6 494.4L475.3 496.8L476.1 498.1L476.8 489.4L477.6 494.4L479.1 492.9L480.6 486.5L481.3 491.2L482.1 486.2L482.8 475.8L483.3 474.5L483.8 470.3L484.6 448.9L485.1 402.6L485.6 295.1L486.3 -8L487.6 -8L487.8 10.7L488.6 326.4L489.1 417L489.6 454.3L490.1 466.9L491.6 482.8L491.8 484.3L492.6 484.1L493.6 486.7L494.1 487L494.8 485.9L496.3 499.3L497.1 489.3L497.8 497.7L498.6 496.5L499.3 493.7L500.1 493.6L500.8 491.8L501.6 496.4L502.3 492.7L503.1 497.8L504.6 495.7L505.3 490.8L506.1 493.4L506.8 492.8L507.6 493.6L508.3 495.3L509.1 492.6L509.8 495.3L510.6 501.1L511.3 496.9L512 495.8L512.8 496.1L513.5 497.1L514.3 496.2L515 494.2L515.8 493.1L516.5 498.1L517.3 493.7L518.8 497.4L519.5 496.3L521 495L521.8 497.9L522.5 490.9L523.3 495L524 493.4L524.8 495L525.5 494.4L526.3 494.7L527 498L528.5 494.1L530 493L530.8 493.6L531.5 490.1L532.3 493.3L533 488.3L534.5 491.1L535.3 483.8L536 485.6L536.5 481.4L537.8 465.7L538.3 453.8L539 404L540.8 100L541.3 58.6L541.8 101.5L543 335.8L544 434.1L545 468.1L545.3 469.5L546.5 472.8L547.3 481.1L548 486L548.8 486L549.5 484.1L550.3 485.3L551 488L551.8 486.8L552.5 491.2L553.3 489.5L554 491.8L554.8 486.7L555.5 492.1L556.3 488.8L557 488.4L557.8 493.1L558.5 495.9L559.3 491.7L560 494.3L560.8 490.6L561.5 493.7L562.3 495.1L563 495.1L563.8 495.6L564.5 494.7L565.3 496.8L566 495.9L566.8 492.8L567.5 492L568.3 493.4L569 498.4L570.5 493.5L571.3 494.5L572 496.2L572.8 494.3L573.5 497.1L574.3 495.1L575.8 493.3L576.5 496.7L577.3 497.7L578 498L578.8 496L579.5 491.9L580.3 497.1L581 497.1L581.8 494.7L582.5 497.6L583.3 493.9L584 498.1L584.8 492.2L585.5 495.1L586.3 496.4L587 494.7L587.8 497.2L588.5 498.1L589.3 494.8L590 495L590.8 497.6L591.5 496.7L592.3 493.6L593 495.1L593.8 494.6L594.5 496.5L595.3 494.5L596 496.6L596.8 495.8L597.5 498L598.3 494.8L599 495.8L599.8 494.3L600.5 495L601.3 496.9L602 495.1L602.8 496.1L603.5 498.7L604.3 496L605 498.8L605.8 494L606.5 495.4L607.3 499.4L608 497.4L608.8 494L609.5 496.7L610.3 495.3L611 497.4L611.8 493.6L612.5 493.6L613.3 499.1L614 493.2L614.8 496L615.5 497.5L616.3 494.6L617.8 496.7L618.5 499.2L619.3 497L620.8 497.2L621.5 496L622.3 498.6L623 493.2L623.8 494.3L624.5 493.7L625.3 493.6L626 491.1L626.8 498.9L627.5 495.3L628.3 495.7L629 499.4L629.8 493.9L630.5 497.5L631.3 497.2L632 495.6L632.8 498.7L633.5 496.6L635 497.9L635.8 497.5L636.5 495.7L637.3 495.3L638 499.1L638.8 499.1L639.5 495.8L640.3 497.4L641 493.8L641.8 493.7L642.5 493.7L643.3 495.3L644 495L644.8 496.3L645.5 499.4L646.3 500L647 498.4L648.5 498.4L649.3 495.6L650 495.4L650.8 501.7L651.5 495L652.3 494.3L653 496.3L653.8 493.9L654.5 495L655 493.7L656.5 479.3L657.3 474.6L657.5 475.1L658.3 483.2L658.8 484.9L659.3 485.6L659.8 485.8L660.5 489.9L661.3 483.4L662 489.3L662.8 486.8L663.5 486.1L664.3 492.4L665 486.6L665.8 488.7L666.5 484.2L667.3 487.1L668.8 488.2L669.5 484.8L670.3 483.4L671 486.8L671.8 486.1L672.5 490.2L673.3 485.2L674 487.8L675.5 487.6L676.3 488.8L677 486.5L677.8 491L680 486.2L680.8 487.4L681.5 487.6L682.3 486.8L683 487.7L683.8 490.3L684.5 484L685.3 486.2L686 484.1L686.8 484.5L687.5 485.7L688.3 484.4L689 484.7L689.8 485.7L690.5 483.1L691.3 485.6L692 482.5L692.8 482L693.5 482.2L694.3 484.5L695 480.3L696.5 479.2L697.3 474.4L698 471.7L698.8 471.8L699.5 466.3L700.3 464L701 462.8L701.8 457.6L702.5 448.8L703.3 444.9L705.5 409.7L708.3 352.1L709 341.2L709.5 337L709.8 336L710 336L711.3 353.4L714.5 418.9L716.5 448.4L718.3 462.7L719 464.2L719.8 469.7L720.5 472.9L721.3 475.5L722 475.2L722.8 475.9L723.5 480.2L724.3 480.7L725 479.8L725.8 485.2L727.3 487.3L728 485.4L728.8 487L730.3 487.8L731 489.3L731.8 488.2L732.5 488.2L733.3 489.4L734 486.8L734.8 489.5L735.5 490.2L736.3 488.6L737 488.1L737.8 492.2L738.5 490.7L739.3 491.6L740 491.1L740.8 495.4L742.3 491.1L743 492.1L743.8 492L744.5 486.5L745.3 493.6L746 494.4L747.5 487.6L748.3 493.9L749 493.7L749.8 494.1L750.5 496.4L751.3 492.5L752 496.5L752.8 493.8L753.5 494.2L754.3 494L755 493.2L755.8 496.5L756.5 492.1L757.3 493.8L758 492.8L758.8 494.6L759.5 491.8L760.3 492.9L761 496.8L761.8 493.8L762.5 496.7L763.3 492.5L764 493.2L764.8 498.2L766.3 496L767.8 494.6L768.5 494.7L769.3 497.9L770 494.2L770.8 496.6L771.5 491.9L772.3 494.1L773 494L773.8 493.2L774.5 494.1L775.3 493.6L776 492.4L776.8 494.3L777.5 494.6L778.3 495.6L779.8 496.6L781.3 493.1L782 495L782.8 495L783.5 498.3L784.3 493.2L785 496.1L785.8 494.9L786.5 494.9L787.3 493.9L788 495.3L788.8 495L789.5 498.6L791 493.7L791.8 496.4L792.5 493.4L794 493.1L794.8 490.1L795.5 489.7L796.3 492.8L797.8 484.7L798.5 487L799.3 485.1L800 481.1L800.8 483.9L801.5 480.9L802.3 483.6L803 489.7L803.8 490.3L805.3 487L806.8 493L807.5 493L808.3 492.2L809 496.6L809.8 495.7L810.5 495.8L811.3 494.5L812 492.2L812.8 495.3L813.5 495.1L814.3 497L815 495L815.8 494L817.3 498.6L818 499.6L818.8 498.9L819.5 495.3L820.3 495.4L821 496.1L821.8 494.7"/>
</g>
<g>
<text x="423.0" y="1320.0" fill="#f04e4a" class="lb" text-anchor="end">RhI<tspan class="sb" dy="5.5">3</tspan></text>
<text x="423.0" y="1245.0" fill="#f2643c" class="lb" text-anchor="end">RhBr<tspan class="sb" dy="5.5">0.8</tspan><tspan dy="-5.5">I</tspan><tspan class="sb" dy="5.5">2.2</tspan></text>
<text x="423.0" y="1195.0" fill="#ec7c36" class="lb" text-anchor="end">RhBr<tspan class="sb" dy="5.5">1.5</tspan><tspan dy="-5.5">I</tspan><tspan class="sb" dy="5.5">1.5</tspan></text>
<text x="423.0" y="1148.3" fill="#dc882e" class="lb" text-anchor="end">RhBr<tspan class="sb" dy="5.5">2.5</tspan><tspan dy="-5.5">I</tspan><tspan class="sb" dy="5.5">0.5</tspan></text>
<text x="423.0" y="1096.7" fill="#c48c28" class="lb" text-anchor="end">RhBr<tspan class="sb" dy="5.5">3</tspan></text>
<text x="423.0" y="1025.0" fill="#a88222" class="lb" text-anchor="end">RhBr<tspan class="sb" dy="5.5">2.8</tspan><tspan dy="-5.5">Cl</tspan><tspan class="sb" dy="5.5">0.2</tspan></text>
<text x="423.0" y="956.7" fill="#857410" class="lb" text-anchor="end">RhBr<tspan class="sb" dy="5.5">2.5</tspan><tspan dy="-5.5">Cl</tspan><tspan class="sb" dy="5.5">0.5</tspan></text>
<text x="423.0" y="906.7" fill="#686a0e" class="lb" text-anchor="end">RhBr<tspan class="sb" dy="5.5">2.4</tspan><tspan dy="-5.5">Cl</tspan><tspan class="sb" dy="5.5">0.6</tspan></text>
<text x="423.0" y="845.0" fill="#578531" class="lb" text-anchor="end">RhBr<tspan class="sb" dy="5.5">2.0</tspan><tspan dy="-5.5">Cl</tspan><tspan class="sb" dy="5.5">1.0</tspan></text>
<text x="423.0" y="788.3" fill="#3f9b65" class="lb" text-anchor="end">RhBr<tspan class="sb" dy="5.5">1.6</tspan><tspan dy="-5.5">Cl</tspan><tspan class="sb" dy="5.5">1.4</tspan></text>
<text x="423.0" y="720.0" fill="#31b190" class="lb" text-anchor="end">RhBr<tspan class="sb" dy="5.5">1.2</tspan><tspan dy="-5.5">Cl</tspan><tspan class="sb" dy="5.5">1.8</tspan></text>
<text x="423.0" y="651.7" fill="#2bbdbd" class="lb" text-anchor="end">RhBr<tspan class="sb" dy="5.5">0.9</tspan><tspan dy="-5.5">Cl</tspan><tspan class="sb" dy="5.5">2.1</tspan></text>
<text x="424.6" y="592.0" fill="#2e9fd6" class="lb" text-anchor="end">RhBr<tspan class="sb" dy="5.5">0.6</tspan><tspan dy="-5.5">Cl</tspan><tspan class="sb" dy="5.5">2.4</tspan></text>
<text x="423.0" y="546.0" fill="#3d7be0" class="lb" text-anchor="end">RhBr<tspan class="sb" dy="5.5">0.4</tspan><tspan dy="-5.5">Cl</tspan><tspan class="sb" dy="5.5">2.6</tspan></text>
<text x="423.0" y="478.4" fill="#4052ea" class="lb" text-anchor="end">RhCl<tspan class="sb" dy="5.5">3</tspan></text>
</g>
<g stroke="#000" stroke-width="3" fill="none" stroke-linecap="butt">
<rect x="55.8" y="3.3" width="766.0" height="1381.1"/>
<path d="M78.33 3.3V20.5M78.33 1384.4V1401.6M134.66 3.3V12.1M134.66 1384.4V1393.2M190.98 3.3V20.5M190.98 1384.4V1401.6M247.31 3.3V12.1M247.31 1384.4V1393.2M303.63 3.3V20.5M303.63 1384.4V1401.6M359.96 3.3V12.1M359.96 1384.4V1393.2M416.28 3.3V20.5M416.28 1384.4V1401.6M472.61 3.3V12.1M472.61 1384.4V1393.2M528.93 3.3V20.5M528.93 1384.4V1401.6M585.25 3.3V12.1M585.25 1384.4V1393.2M641.58 3.3V20.5M641.58 1384.4V1401.6M697.90 3.3V12.1M697.90 1384.4V1393.2M754.23 3.3V20.5M754.23 1384.4V1401.6M810.55 3.3V12.1M810.55 1384.4V1393.2"/>
<rect x="577.4" y="3.3" width="244.4" height="73.7" fill="#fff"/>
<path stroke-width="2.2" d="M487 1338V1355M611.5 14.5V31.5"/>
</g>
<g class="ax">
<text transform="translate(78.3 1435.6) scale(1 1.07)" text-anchor="middle">15</text>
<text transform="translate(191.0 1435.6) scale(1 1.07)" text-anchor="middle">20</text>
<text transform="translate(303.6 1435.6) scale(1 1.07)" text-anchor="middle">25</text>
<text transform="translate(416.3 1435.6) scale(1 1.07)" text-anchor="middle">30</text>
<text transform="translate(528.9 1435.6) scale(1 1.07)" text-anchor="middle">35</text>
<text transform="translate(641.6 1435.6) scale(1 1.07)" text-anchor="middle">40</text>
<text transform="translate(754.2 1435.6) scale(1 1.07)" text-anchor="middle">45</text>
<text transform="translate(438.5 1486.2) scale(1.03 1.07)" text-anchor="middle">2<tspan font-style="italic" class="th">Θ /</tspan> °</text>
<text transform="translate(20.9 695) rotate(-90)" text-anchor="middle" class="yl">normalized intensity</text>
<text x="717.5" y="31.5" text-anchor="middle" class="lg">Si standard</text>
<text x="703.5" y="67.5" text-anchor="middle" class="lg"><tspan class="lam">λ</tspan> = 1.78896 Å (Co)</text>
</g>
</svg>
</body></html>
